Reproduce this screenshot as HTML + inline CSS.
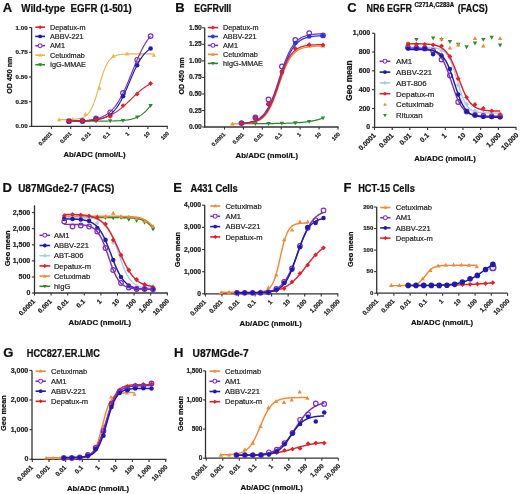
<!DOCTYPE html>
<html><head><meta charset="utf-8"><style>
html,body{margin:0;padding:0;background:#fff;width:520px;height:494px;overflow:hidden;}
svg{display:block;filter:blur(0.3px);font-family:"Liberation Sans", sans-serif;}
</style></head><body>
<svg width="520" height="494" viewBox="0 0 520 494" font-family='"Liberation Sans", sans-serif'>
<rect width="520" height="494" fill="#ffffff"/>
<text x="2.80" y="11.60" font-size="13.0" font-weight="bold" fill="#111" stroke="#111" stroke-width="0.22">A</text>
<text x="21.30" y="11.60" font-size="10.0" font-weight="bold" textLength="110.40" lengthAdjust="spacingAndGlyphs" fill="#111" stroke="#111" stroke-width="0.22">Wild-type  EGFR (1-501)</text>
<line x1="31.6" y1="27.3" x2="31.6" y2="126.89999999999999" stroke="#333333" stroke-width="1.3"/>
<line x1="29.0" y1="27.6" x2="31.6" y2="27.6" stroke="#333333" stroke-width="1.1"/>
<text x="27.60" y="29.52" font-size="6.2" font-weight="bold" text-anchor="end" fill="#222222" stroke="#222222" stroke-width="0.22">1.00</text>
<line x1="29.0" y1="52.3" x2="31.6" y2="52.3" stroke="#333333" stroke-width="1.1"/>
<text x="27.60" y="54.22" font-size="6.2" font-weight="bold" text-anchor="end" fill="#222222" stroke="#222222" stroke-width="0.22">0.75</text>
<line x1="29.0" y1="77.0" x2="31.6" y2="77.0" stroke="#333333" stroke-width="1.1"/>
<text x="27.60" y="78.92" font-size="6.2" font-weight="bold" text-anchor="end" fill="#222222" stroke="#222222" stroke-width="0.22">0.50</text>
<line x1="29.0" y1="101.7" x2="31.6" y2="101.7" stroke="#333333" stroke-width="1.1"/>
<text x="27.60" y="103.62" font-size="6.2" font-weight="bold" text-anchor="end" fill="#222222" stroke="#222222" stroke-width="0.22">0.25</text>
<line x1="29.0" y1="126.3" x2="31.6" y2="126.3" stroke="#333333" stroke-width="1.1"/>
<text x="27.60" y="128.22" font-size="6.2" font-weight="bold" text-anchor="end" fill="#222222" stroke="#222222" stroke-width="0.22">0.00</text>
<line x1="31.0" y1="126.3" x2="167.8" y2="126.3" stroke="#333333" stroke-width="1.3"/>
<line x1="51.4" y1="126.3" x2="51.4" y2="128.9" stroke="#333333" stroke-width="1.1"/>
<text transform="translate(52.50,134.20) rotate(-45)" font-size="5.46" font-weight="bold" text-anchor="end" fill="#222222" stroke="#222222" stroke-width="0.22">0.0001</text>
<line x1="70.7" y1="126.3" x2="70.7" y2="128.9" stroke="#333333" stroke-width="1.1"/>
<text transform="translate(71.80,134.20) rotate(-45)" font-size="5.46" font-weight="bold" text-anchor="end" fill="#222222" stroke="#222222" stroke-width="0.22">0.001</text>
<line x1="90.0" y1="126.3" x2="90.0" y2="128.9" stroke="#333333" stroke-width="1.1"/>
<text transform="translate(91.10,134.20) rotate(-45)" font-size="5.46" font-weight="bold" text-anchor="end" fill="#222222" stroke="#222222" stroke-width="0.22">0.01</text>
<line x1="109.3" y1="126.3" x2="109.3" y2="128.9" stroke="#333333" stroke-width="1.1"/>
<text transform="translate(110.40,134.20) rotate(-45)" font-size="5.46" font-weight="bold" text-anchor="end" fill="#222222" stroke="#222222" stroke-width="0.22">0.1</text>
<line x1="128.6" y1="126.3" x2="128.6" y2="128.9" stroke="#333333" stroke-width="1.1"/>
<text transform="translate(129.70,134.20) rotate(-45)" font-size="5.46" font-weight="bold" text-anchor="end" fill="#222222" stroke="#222222" stroke-width="0.22">1</text>
<line x1="147.9" y1="126.3" x2="147.9" y2="128.9" stroke="#333333" stroke-width="1.1"/>
<text transform="translate(150.20,133.84) rotate(-45)" font-size="5.46" font-weight="bold" text-anchor="end" fill="#222222" stroke="#222222" stroke-width="0.22">10</text>
<line x1="167.2" y1="126.3" x2="167.2" y2="128.9" stroke="#333333" stroke-width="1.1"/>
<text transform="translate(169.50,133.84) rotate(-45)" font-size="5.46" font-weight="bold" text-anchor="end" fill="#222222" stroke="#222222" stroke-width="0.22">100</text>
<text transform="translate(12.30,75.20) rotate(-90)" font-size="7.1" font-weight="bold" text-anchor="middle" fill="#111" stroke="#111" stroke-width="0.22">OD 450 nm</text>
<text x="63.50" y="157.00" font-size="7.75" font-weight="bold" textLength="62.00" lengthAdjust="spacingAndGlyphs" fill="#111" stroke="#111" stroke-width="0.22">Ab/ADC (nmol/L)</text>
<path d="M69.00,121.15L69.50,121.15L70.00,121.15L70.49,121.15L70.99,121.15L71.49,121.15L71.99,121.15L72.48,121.15L72.98,121.15L73.48,121.15L73.98,121.15L74.47,121.15L74.97,121.15L75.47,121.15L75.97,121.15L76.46,121.15L76.96,121.15L77.46,121.15L77.96,121.15L78.45,121.15L78.95,121.15L79.45,121.15L79.95,121.15L80.44,121.15L80.94,121.15L81.44,121.15L81.94,121.15L82.43,121.15L82.93,121.15L83.43,121.15L83.93,121.15L84.42,121.15L84.92,121.15L85.42,121.15L85.92,121.15L86.41,121.15L86.91,121.15L87.41,121.14L87.91,121.14L88.40,121.14L88.90,121.14L89.40,121.14L89.90,121.14L90.40,121.14L90.89,121.14L91.39,121.14L91.89,121.14L92.39,121.14L92.88,121.14L93.38,121.14L93.88,121.14L94.38,121.13L94.87,121.13L95.37,121.13L95.87,121.13L96.37,121.13L96.86,121.13L97.36,121.13L97.86,121.12L98.36,121.12L98.85,121.12L99.35,121.12L99.85,121.12L100.35,121.11L100.84,121.11L101.34,121.11L101.84,121.10L102.34,121.10L102.83,121.10L103.33,121.09L103.83,121.09L104.33,121.09L104.82,121.08L105.32,121.08L105.82,121.07L106.32,121.07L106.81,121.06L107.31,121.06L107.81,121.05L108.31,121.04L108.80,121.04L109.30,121.03L109.80,121.02L110.30,121.01L110.80,121.00L111.29,120.99L111.79,120.98L112.29,120.97L112.79,120.96L113.28,120.95L113.78,120.93L114.28,120.92L114.78,120.90L115.27,120.89L115.77,120.87L116.27,120.85L116.77,120.83L117.26,120.81L117.76,120.79L118.26,120.77L118.76,120.74L119.25,120.71L119.75,120.69L120.25,120.66L120.75,120.62L121.24,120.59L121.74,120.55L122.24,120.52L122.74,120.47L123.23,120.43L123.73,120.38L124.23,120.34L124.73,120.28L125.22,120.23L125.72,120.17L126.22,120.11L126.72,120.04L127.21,119.97L127.71,119.89L128.21,119.81L128.71,119.73L129.20,119.64L129.70,119.54L130.20,119.44L130.70,119.34L131.20,119.22L131.69,119.10L132.19,118.97L132.69,118.84L133.19,118.70L133.68,118.55L134.18,118.39L134.68,118.22L135.18,118.04L135.67,117.85L136.17,117.65L136.67,117.44L137.17,117.22L137.66,116.99L138.16,116.74L138.66,116.49L139.16,116.21L139.65,115.93L140.15,115.63L140.65,115.32L141.15,114.99L141.64,114.64L142.14,114.28L142.64,113.91L143.14,113.51L143.63,113.10L144.13,112.68L144.63,112.23L145.13,111.77L145.62,111.30L146.12,110.80L146.62,110.29L147.12,109.76L147.61,109.21L148.11,108.65L148.61,108.07L149.11,107.47L149.60,106.86L150.10,106.24L150.60,105.60" fill="none" stroke="#2b8a2b" stroke-width="1.15"/>
<path d="M69.00,123.50L71.19,119.59L66.81,119.59Z" fill="#2b8a2b"/>
<path d="M82.50,123.50L84.69,119.59L80.31,119.59Z" fill="#2b8a2b"/>
<path d="M96.00,123.40L98.19,119.49L93.81,119.49Z" fill="#2b8a2b"/>
<path d="M110.20,123.20L112.39,119.29L108.02,119.29Z" fill="#2b8a2b"/>
<path d="M123.00,122.80L125.19,118.89L120.81,118.89Z" fill="#2b8a2b"/>
<path d="M137.20,119.50L139.38,115.59L135.01,115.59Z" fill="#2b8a2b"/>
<path d="M150.60,107.90L152.78,103.99L148.41,103.99Z" fill="#2b8a2b"/>
<path d="M59.10,119.59L59.60,119.58L60.10,119.58L60.60,119.58L61.10,119.58L61.59,119.58L62.09,119.57L62.59,119.57L63.09,119.57L63.59,119.56L64.09,119.56L64.59,119.56L65.09,119.55L65.59,119.55L66.09,119.54L66.58,119.53L67.08,119.53L67.58,119.52L68.08,119.51L68.58,119.50L69.08,119.49L69.58,119.47L70.08,119.46L70.58,119.44L71.07,119.43L71.57,119.41L72.07,119.39L72.57,119.36L73.07,119.34L73.57,119.31L74.07,119.27L74.57,119.24L75.07,119.20L75.57,119.15L76.06,119.10L76.56,119.05L77.06,118.99L77.56,118.92L78.06,118.84L78.56,118.76L79.06,118.67L79.56,118.57L80.06,118.45L80.55,118.33L81.05,118.19L81.55,118.03L82.05,117.86L82.55,117.67L83.05,117.46L83.55,117.23L84.05,116.98L84.55,116.70L85.05,116.39L85.54,116.05L86.04,115.67L86.54,115.26L87.04,114.81L87.54,114.32L88.04,113.78L88.54,113.19L89.04,112.55L89.54,111.85L90.03,111.09L90.53,110.28L91.03,109.39L91.53,108.45L92.03,107.43L92.53,106.34L93.03,105.18L93.53,103.95L94.03,102.65L94.53,101.28L95.02,99.84L95.52,98.34L96.02,96.79L96.52,95.18L97.02,93.53L97.52,91.84L98.02,90.12L98.52,88.39L99.02,86.64L99.51,84.90L100.01,83.17L100.51,81.45L101.01,79.77L101.51,78.12L102.01,76.51L102.51,74.96L103.01,73.47L103.51,72.03L104.01,70.67L104.50,69.37L105.00,68.15L105.50,66.99L106.00,65.91L106.50,64.89L107.00,63.95L107.50,63.07L108.00,62.26L108.50,61.50L108.99,60.81L109.49,60.17L109.99,59.59L110.49,59.05L110.99,58.56L111.49,58.11L111.99,57.70L112.49,57.33L112.99,56.99L113.49,56.69L113.98,56.41L114.48,56.15L114.98,55.92L115.48,55.72L115.98,55.53L116.48,55.36L116.98,55.20L117.48,55.07L117.98,54.94L118.47,54.83L118.97,54.73L119.47,54.63L119.97,54.55L120.47,54.48L120.97,54.41L121.47,54.35L121.97,54.29L122.47,54.24L122.97,54.20L123.46,54.16L123.96,54.12L124.46,54.09L124.96,54.06L125.46,54.04L125.96,54.01L126.46,53.99L126.96,53.97L127.46,53.95L127.95,53.94L128.45,53.92L128.95,53.91L129.45,53.90L129.95,53.89L130.45,53.88L130.95,53.87L131.45,53.87L131.95,53.86L132.45,53.85L132.94,53.85L133.44,53.84L133.94,53.84L134.44,53.83L134.94,53.83L135.44,53.83L135.94,53.83L136.44,53.82L136.94,53.82L137.43,53.82L137.93,53.82L138.43,53.81L138.93,53.81L139.43,53.81L139.93,53.81L140.43,53.81L140.93,53.81L141.43,53.81L141.93,53.81L142.42,53.81L142.92,53.81L143.42,53.81L143.92,53.80L144.42,53.80L144.92,53.80L145.42,53.80L145.92,53.80L146.42,53.80L146.91,53.80L147.41,53.80L147.91,53.80L148.41,53.80L148.91,53.80L149.41,53.80L149.91,53.80L150.41,53.80L150.91,53.80L151.41,53.80L151.90,53.80L152.40,53.80L152.90,53.80L153.40,53.80L153.90,53.80" fill="none" stroke="#f0b445" stroke-width="1.15"/>
<path d="M59.10,117.30L61.29,121.21L56.91,121.21Z" fill="#f0b445"/>
<path d="M72.50,117.10L74.69,121.01L70.31,121.01Z" fill="#f0b445"/>
<path d="M85.50,111.90L87.69,115.81L83.31,115.81Z" fill="#f0b445"/>
<path d="M99.50,85.80L101.69,89.71L97.31,89.71Z" fill="#f0b445"/>
<path d="M113.50,53.50L115.69,57.41L111.31,57.41Z" fill="#f0b445"/>
<path d="M127.00,51.50L129.19,55.41L124.81,55.41Z" fill="#f0b445"/>
<path d="M140.50,51.50L142.69,55.41L138.31,55.41Z" fill="#f0b445"/>
<path d="M153.90,52.90L156.09,56.81L151.72,56.81Z" fill="#f0b445"/>
<path d="M69.00,121.27L69.50,121.26L70.00,121.26L70.49,121.25L70.99,121.24L71.49,121.23L71.99,121.21L72.48,121.20L72.98,121.19L73.48,121.18L73.98,121.17L74.47,121.15L74.97,121.14L75.47,121.12L75.97,121.10L76.46,121.09L76.96,121.07L77.46,121.05L77.96,121.03L78.45,121.01L78.95,120.99L79.45,120.96L79.95,120.94L80.44,120.91L80.94,120.89L81.44,120.86L81.94,120.83L82.43,120.80L82.93,120.77L83.43,120.73L83.93,120.69L84.42,120.66L84.92,120.62L85.42,120.57L85.92,120.53L86.41,120.48L86.91,120.43L87.41,120.38L87.91,120.33L88.40,120.27L88.90,120.21L89.40,120.15L89.90,120.08L90.40,120.02L90.89,119.94L91.39,119.87L91.89,119.79L92.39,119.70L92.88,119.61L93.38,119.52L93.88,119.42L94.38,119.32L94.87,119.22L95.37,119.10L95.87,118.99L96.37,118.86L96.86,118.73L97.36,118.60L97.86,118.45L98.36,118.30L98.85,118.15L99.35,117.98L99.85,117.81L100.35,117.63L100.84,117.44L101.34,117.24L101.84,117.03L102.34,116.82L102.83,116.59L103.33,116.35L103.83,116.10L104.33,115.84L104.82,115.57L105.32,115.28L105.82,114.98L106.32,114.67L106.81,114.35L107.31,114.01L107.81,113.65L108.31,113.29L108.80,112.90L109.30,112.50L109.80,112.08L110.30,111.64L110.80,111.19L111.29,110.71L111.79,110.22L112.29,109.71L112.79,109.18L113.28,108.63L113.78,108.05L114.28,107.46L114.78,106.84L115.27,106.20L115.77,105.54L116.27,104.86L116.77,104.15L117.26,103.42L117.76,102.66L118.26,101.89L118.76,101.08L119.25,100.26L119.75,99.41L120.25,98.53L120.75,97.63L121.24,96.71L121.74,95.76L122.24,94.79L122.74,93.80L123.23,92.79L123.73,91.75L124.23,90.70L124.73,89.62L125.22,88.53L125.72,87.41L126.22,86.28L126.72,85.13L127.21,83.97L127.71,82.79L128.21,81.60L128.71,80.40L129.20,79.19L129.70,77.97L130.20,76.75L130.70,75.51L131.20,74.28L131.69,73.04L132.19,71.80L132.69,70.56L133.19,69.33L133.68,68.09L134.18,66.87L134.68,65.65L135.18,64.44L135.67,63.23L136.17,62.04L136.67,60.87L137.17,59.70L137.66,58.55L138.16,57.42L138.66,56.31L139.16,55.21L139.65,54.13L140.15,53.07L140.65,52.04L141.15,51.02L141.64,50.03L142.14,49.06L142.64,48.11L143.14,47.18L143.63,46.28L144.13,45.41L144.63,44.55L145.13,43.72L145.62,42.92L146.12,42.14L146.62,41.38L147.12,40.65L147.61,39.94L148.11,39.25L148.61,38.59L149.11,37.95L149.60,37.33L150.10,36.73L150.60,36.16" fill="none" stroke="#7d2fb8" stroke-width="1.15"/>
<circle cx="69.00" cy="121.20" r="2.30" fill="none" stroke="#7d2fb8" stroke-width="1.20"/>
<circle cx="82.50" cy="121.00" r="2.30" fill="none" stroke="#7d2fb8" stroke-width="1.20"/>
<circle cx="96.00" cy="118.50" r="2.30" fill="none" stroke="#7d2fb8" stroke-width="1.20"/>
<circle cx="110.20" cy="112.30" r="2.30" fill="none" stroke="#7d2fb8" stroke-width="1.20"/>
<circle cx="123.00" cy="92.90" r="2.30" fill="none" stroke="#7d2fb8" stroke-width="1.20"/>
<circle cx="137.20" cy="59.80" r="2.30" fill="none" stroke="#7d2fb8" stroke-width="1.20"/>
<circle cx="150.60" cy="36.10" r="2.30" fill="none" stroke="#7d2fb8" stroke-width="1.20"/>
<path d="M69.00,121.16L69.50,121.16L70.00,121.15L70.49,121.15L70.99,121.15L71.49,121.14L71.99,121.14L72.48,121.13L72.98,121.13L73.48,121.12L73.98,121.12L74.47,121.11L74.97,121.11L75.47,121.10L75.97,121.09L76.46,121.09L76.96,121.08L77.46,121.07L77.96,121.06L78.45,121.06L78.95,121.05L79.45,121.04L79.95,121.03L80.44,121.01L80.94,121.00L81.44,120.99L81.94,120.98L82.43,120.96L82.93,120.95L83.43,120.93L83.93,120.91L84.42,120.89L84.92,120.87L85.42,120.85L85.92,120.83L86.41,120.81L86.91,120.78L87.41,120.76L87.91,120.73L88.40,120.70L88.90,120.67L89.40,120.63L89.90,120.60L90.40,120.56L90.89,120.52L91.39,120.48L91.89,120.43L92.39,120.38L92.88,120.33L93.38,120.28L93.88,120.22L94.38,120.16L94.87,120.10L95.37,120.03L95.87,119.95L96.37,119.88L96.86,119.79L97.36,119.71L97.86,119.61L98.36,119.52L98.85,119.41L99.35,119.30L99.85,119.18L100.35,119.06L100.84,118.93L101.34,118.79L101.84,118.64L102.34,118.49L102.83,118.32L103.33,118.15L103.83,117.96L104.33,117.77L104.82,117.56L105.32,117.35L105.82,117.11L106.32,116.87L106.81,116.61L107.31,116.34L107.81,116.06L108.31,115.76L108.80,115.44L109.30,115.10L109.80,114.75L110.30,114.38L110.80,113.99L111.29,113.58L111.79,113.15L112.29,112.70L112.79,112.22L113.28,111.73L113.78,111.21L114.28,110.66L114.78,110.09L115.27,109.50L115.77,108.88L116.27,108.23L116.77,107.56L117.26,106.85L117.76,106.13L118.26,105.37L118.76,104.58L119.25,103.77L119.75,102.93L120.25,102.06L120.75,101.17L121.24,100.24L121.74,99.30L122.24,98.32L122.74,97.32L123.23,96.30L123.73,95.25L124.23,94.18L124.73,93.10L125.22,91.99L125.72,90.87L126.22,89.73L126.72,88.57L127.21,87.41L127.71,86.24L128.21,85.06L128.71,83.87L129.20,82.68L129.70,81.49L130.20,80.30L130.70,79.12L131.20,77.94L131.69,76.77L132.19,75.61L132.69,74.46L133.19,73.32L133.68,72.20L134.18,71.10L134.68,70.02L135.18,68.96L135.67,67.92L136.17,66.90L136.67,65.90L137.17,64.94L137.66,63.99L138.16,63.08L138.66,62.19L139.16,61.33L139.65,60.49L140.15,59.69L140.65,58.91L141.15,58.16L141.64,57.44L142.14,56.75L142.64,56.08L143.14,55.44L143.63,54.82L144.13,54.24L144.63,53.67L145.13,53.13L145.62,52.62L146.12,52.13L146.62,51.66L147.12,51.21L147.61,50.79L148.11,50.38L148.61,50.00L149.11,49.63L149.60,49.29L150.10,48.95L150.60,48.64" fill="none" stroke="#1c1cb0" stroke-width="1.15"/>
<circle cx="69.00" cy="121.20" r="2.25" fill="#1c1cb0"/>
<circle cx="82.50" cy="121.20" r="2.25" fill="#1c1cb0"/>
<circle cx="96.00" cy="119.00" r="2.25" fill="#1c1cb0"/>
<circle cx="110.20" cy="115.50" r="2.25" fill="#1c1cb0"/>
<circle cx="123.00" cy="96.20" r="2.25" fill="#1c1cb0"/>
<circle cx="137.20" cy="65.20" r="2.25" fill="#1c1cb0"/>
<circle cx="150.60" cy="48.50" r="2.25" fill="#1c1cb0"/>
<path d="M69.00,121.41L69.50,121.40L70.00,121.39L70.49,121.38L70.99,121.37L71.49,121.36L71.99,121.35L72.48,121.33L72.98,121.32L73.48,121.31L73.98,121.30L74.47,121.28L74.97,121.27L75.47,121.25L75.97,121.24L76.46,121.22L76.96,121.20L77.46,121.19L77.96,121.17L78.45,121.15L78.95,121.13L79.45,121.11L79.95,121.09L80.44,121.06L80.94,121.04L81.44,121.01L81.94,120.99L82.43,120.96L82.93,120.93L83.43,120.90L83.93,120.87L84.42,120.84L84.92,120.81L85.42,120.77L85.92,120.74L86.41,120.70L86.91,120.66L87.41,120.62L87.91,120.57L88.40,120.53L88.90,120.48L89.40,120.43L89.90,120.38L90.40,120.33L90.89,120.28L91.39,120.22L91.89,120.16L92.39,120.10L92.88,120.03L93.38,119.97L93.88,119.90L94.38,119.82L94.87,119.75L95.37,119.67L95.87,119.59L96.37,119.50L96.86,119.42L97.36,119.32L97.86,119.23L98.36,119.13L98.85,119.03L99.35,118.92L99.85,118.81L100.35,118.69L100.84,118.57L101.34,118.45L101.84,118.32L102.34,118.18L102.83,118.04L103.33,117.90L103.83,117.75L104.33,117.59L104.82,117.43L105.32,117.27L105.82,117.09L106.32,116.91L106.81,116.73L107.31,116.54L107.81,116.34L108.31,116.14L108.80,115.93L109.30,115.71L109.80,115.48L110.30,115.25L110.80,115.01L111.29,114.77L111.79,114.51L112.29,114.25L112.79,113.98L113.28,113.70L113.78,113.42L114.28,113.12L114.78,112.82L115.27,112.51L115.77,112.20L116.27,111.87L116.77,111.54L117.26,111.20L117.76,110.85L118.26,110.49L118.76,110.12L119.25,109.75L119.75,109.37L120.25,108.98L120.75,108.59L121.24,108.18L121.74,107.77L122.24,107.36L122.74,106.93L123.23,106.51L123.73,106.07L124.23,105.63L124.73,105.18L125.22,104.73L125.72,104.27L126.22,103.81L126.72,103.35L127.21,102.88L127.71,102.40L128.21,101.93L128.71,101.45L129.20,100.97L129.70,100.49L130.20,100.01L130.70,99.52L131.20,99.04L131.69,98.55L132.19,98.07L132.69,97.59L133.19,97.11L133.68,96.63L134.18,96.15L134.68,95.68L135.18,95.21L135.67,94.74L136.17,94.28L136.67,93.82L137.17,93.37L137.66,92.92L138.16,92.48L138.66,92.04L139.16,91.61L139.65,91.18L140.15,90.77L140.65,90.35L141.15,89.95L141.64,89.55L142.14,89.16L142.64,88.78L143.14,88.40L143.63,88.04L144.13,87.68L144.63,87.32L145.13,86.98L145.62,86.65L146.12,86.32L146.62,86.00L147.12,85.69L147.61,85.38L148.11,85.09L148.61,84.80L149.11,84.52L149.60,84.25L150.10,83.98L150.60,83.73" fill="none" stroke="#e3202b" stroke-width="1.15"/>
<path d="M69.00,118.80L71.40,121.20L69.00,123.60L66.60,121.20Z" fill="#e3202b"/>
<path d="M82.50,118.60L84.90,121.00L82.50,123.40L80.10,121.00Z" fill="#e3202b"/>
<path d="M96.00,116.90L98.40,119.30L96.00,121.70L93.60,119.30Z" fill="#e3202b"/>
<path d="M110.20,114.00L112.60,116.40L110.20,118.80L107.80,116.40Z" fill="#e3202b"/>
<path d="M123.00,103.20L125.40,105.60L123.00,108.00L120.60,105.60Z" fill="#e3202b"/>
<path d="M137.20,91.60L139.60,94.00L137.20,96.40L134.80,94.00Z" fill="#e3202b"/>
<path d="M150.60,81.10L153.00,83.50L150.60,85.90L148.20,83.50Z" fill="#e3202b"/>
<line x1="35.3" y1="27.2" x2="45.0" y2="27.2" stroke="#e3202b" stroke-width="1.6"/>
<path d="M40.15,25.16L42.19,27.20L40.15,29.24L38.11,27.20Z" fill="#e3202b"/>
<text x="50.00" y="29.82" font-size="7.28" fill="#1e1e1e" stroke="#1e1e1e" stroke-width="0.2">Depatux-m</text>
<line x1="35.3" y1="36.4" x2="45.0" y2="36.4" stroke="#1c1cb0" stroke-width="1.6"/>
<circle cx="40.15" cy="36.40" r="1.91" fill="#1c1cb0"/>
<text x="50.00" y="39.02" font-size="7.28" fill="#1e1e1e" stroke="#1e1e1e" stroke-width="0.2">ABBV-221</text>
<line x1="35.3" y1="45.7" x2="45.0" y2="45.7" stroke="#7d2fb8" stroke-width="1.6"/>
<circle cx="40.15" cy="45.70" r="1.95" fill="#fff" stroke="#7d2fb8" stroke-width="1.02"/>
<text x="50.00" y="48.32" font-size="7.28" fill="#1e1e1e" stroke="#1e1e1e" stroke-width="0.2">AM1</text>
<line x1="35.3" y1="55.2" x2="45.0" y2="55.2" stroke="#f0b445" stroke-width="1.6"/>
<path d="M40.15,53.25L42.01,56.57L38.29,56.57Z" fill="#f0b445"/>
<text x="50.00" y="57.82" font-size="7.28" fill="#1e1e1e" stroke="#1e1e1e" stroke-width="0.2">Cetuximab</text>
<line x1="35.3" y1="64.7" x2="45.0" y2="64.7" stroke="#2b8a2b" stroke-width="1.6"/>
<path d="M40.15,66.66L42.01,63.33L38.29,63.33Z" fill="#2b8a2b"/>
<text x="50.00" y="67.32" font-size="7.28" fill="#1e1e1e" stroke="#1e1e1e" stroke-width="0.2">IgG-MMAE</text>
<text x="175.30" y="11.60" font-size="13.0" font-weight="bold" fill="#111" stroke="#111" stroke-width="0.22">B</text>
<text x="194.30" y="11.60" font-size="10.0" font-weight="bold" textLength="37.00" lengthAdjust="spacingAndGlyphs" fill="#111" stroke="#111" stroke-width="0.22">EGFRvIII</text>
<line x1="204.7" y1="27.8" x2="204.7" y2="127.6" stroke="#333333" stroke-width="1.3"/>
<line x1="202.1" y1="27.8" x2="204.7" y2="27.8" stroke="#333333" stroke-width="1.1"/>
<text x="201.80" y="29.85" font-size="6.62" font-weight="bold" text-anchor="end" fill="#222222" stroke="#222222" stroke-width="0.22">1.50</text>
<line x1="202.1" y1="44.3" x2="204.7" y2="44.3" stroke="#333333" stroke-width="1.1"/>
<text x="201.80" y="46.35" font-size="6.62" font-weight="bold" text-anchor="end" fill="#222222" stroke="#222222" stroke-width="0.22">1.25</text>
<line x1="202.1" y1="60.9" x2="204.7" y2="60.9" stroke="#333333" stroke-width="1.1"/>
<text x="201.80" y="62.95" font-size="6.62" font-weight="bold" text-anchor="end" fill="#222222" stroke="#222222" stroke-width="0.22">1.00</text>
<line x1="202.1" y1="77.4" x2="204.7" y2="77.4" stroke="#333333" stroke-width="1.1"/>
<text x="201.80" y="79.45" font-size="6.62" font-weight="bold" text-anchor="end" fill="#222222" stroke="#222222" stroke-width="0.22">0.75</text>
<line x1="202.1" y1="94.0" x2="204.7" y2="94.0" stroke="#333333" stroke-width="1.1"/>
<text x="201.80" y="96.05" font-size="6.62" font-weight="bold" text-anchor="end" fill="#222222" stroke="#222222" stroke-width="0.22">0.50</text>
<line x1="202.1" y1="110.5" x2="204.7" y2="110.5" stroke="#333333" stroke-width="1.1"/>
<text x="201.80" y="112.55" font-size="6.62" font-weight="bold" text-anchor="end" fill="#222222" stroke="#222222" stroke-width="0.22">0.25</text>
<line x1="202.1" y1="127.0" x2="204.7" y2="127.0" stroke="#333333" stroke-width="1.1"/>
<text x="201.80" y="129.05" font-size="6.62" font-weight="bold" text-anchor="end" fill="#222222" stroke="#222222" stroke-width="0.22">0.00</text>
<line x1="204.1" y1="127.0" x2="338.5" y2="127.0" stroke="#333333" stroke-width="1.3"/>
<line x1="224.5" y1="127.0" x2="224.5" y2="129.6" stroke="#333333" stroke-width="1.1"/>
<text transform="translate(225.60,134.90) rotate(-45)" font-size="5.46" font-weight="bold" text-anchor="end" fill="#222222" stroke="#222222" stroke-width="0.22">0.0001</text>
<line x1="243.42" y1="127.0" x2="243.42" y2="129.6" stroke="#333333" stroke-width="1.1"/>
<text transform="translate(244.52,134.90) rotate(-45)" font-size="5.46" font-weight="bold" text-anchor="end" fill="#222222" stroke="#222222" stroke-width="0.22">0.001</text>
<line x1="262.34" y1="127.0" x2="262.34" y2="129.6" stroke="#333333" stroke-width="1.1"/>
<text transform="translate(263.44,134.90) rotate(-45)" font-size="5.46" font-weight="bold" text-anchor="end" fill="#222222" stroke="#222222" stroke-width="0.22">0.01</text>
<line x1="281.26" y1="127.0" x2="281.26" y2="129.6" stroke="#333333" stroke-width="1.1"/>
<text transform="translate(282.36,134.90) rotate(-45)" font-size="5.46" font-weight="bold" text-anchor="end" fill="#222222" stroke="#222222" stroke-width="0.22">0.1</text>
<line x1="300.18" y1="127.0" x2="300.18" y2="129.6" stroke="#333333" stroke-width="1.1"/>
<text transform="translate(301.28,134.90) rotate(-45)" font-size="5.46" font-weight="bold" text-anchor="end" fill="#222222" stroke="#222222" stroke-width="0.22">1</text>
<line x1="319.1" y1="127.0" x2="319.1" y2="129.6" stroke="#333333" stroke-width="1.1"/>
<text transform="translate(321.40,134.54) rotate(-45)" font-size="5.46" font-weight="bold" text-anchor="end" fill="#222222" stroke="#222222" stroke-width="0.22">10</text>
<line x1="338.02" y1="127.0" x2="338.02" y2="129.6" stroke="#333333" stroke-width="1.1"/>
<text transform="translate(340.32,134.54) rotate(-45)" font-size="5.46" font-weight="bold" text-anchor="end" fill="#222222" stroke="#222222" stroke-width="0.22">100</text>
<text transform="translate(183.60,76.00) rotate(-90)" font-size="7.1" font-weight="bold" text-anchor="middle" fill="#111" stroke="#111" stroke-width="0.22">OD 450 nm</text>
<text x="235.60" y="157.60" font-size="7.75" font-weight="bold" textLength="62.40" lengthAdjust="spacingAndGlyphs" fill="#111" stroke="#111" stroke-width="0.22">Ab/ADC (nmol/L)</text>
<path d="M241.50,123.68L242.00,123.68L242.49,123.68L242.99,123.68L243.49,123.67L243.98,123.67L244.48,123.67L244.98,123.67L245.48,123.67L245.97,123.67L246.47,123.67L246.97,123.67L247.46,123.67L247.96,123.67L248.46,123.67L248.95,123.66L249.45,123.66L249.95,123.66L250.45,123.66L250.94,123.66L251.44,123.66L251.94,123.66L252.43,123.65L252.93,123.65L253.43,123.65L253.92,123.65L254.42,123.65L254.92,123.65L255.41,123.64L255.91,123.64L256.41,123.64L256.91,123.64L257.40,123.64L257.90,123.63L258.40,123.63L258.89,123.63L259.39,123.63L259.89,123.62L260.38,123.62L260.88,123.62L261.38,123.62L261.88,123.61L262.37,123.61L262.87,123.61L263.37,123.60L263.86,123.60L264.36,123.60L264.86,123.59L265.35,123.59L265.85,123.59L266.35,123.58L266.84,123.58L267.34,123.58L267.84,123.57L268.34,123.57L268.83,123.56L269.33,123.56L269.83,123.55L270.32,123.55L270.82,123.54L271.32,123.54L271.81,123.53L272.31,123.52L272.81,123.52L273.30,123.51L273.80,123.51L274.30,123.50L274.80,123.49L275.29,123.49L275.79,123.48L276.29,123.47L276.78,123.46L277.28,123.45L277.78,123.45L278.27,123.44L278.77,123.43L279.27,123.42L279.77,123.41L280.26,123.40L280.76,123.39L281.26,123.38L281.75,123.37L282.25,123.35L282.75,123.34L283.24,123.33L283.74,123.32L284.24,123.30L284.73,123.29L285.23,123.28L285.73,123.26L286.23,123.25L286.72,123.23L287.22,123.21L287.72,123.20L288.21,123.18L288.71,123.16L289.21,123.14L289.70,123.12L290.20,123.10L290.70,123.08L291.20,123.06L291.69,123.04L292.19,123.01L292.69,122.99L293.18,122.97L293.68,122.94L294.18,122.91L294.67,122.89L295.17,122.86L295.67,122.83L296.16,122.80L296.66,122.77L297.16,122.74L297.66,122.70L298.15,122.67L298.65,122.63L299.15,122.60L299.64,122.56L300.14,122.52L300.64,122.48L301.13,122.43L301.63,122.39L302.13,122.34L302.62,122.30L303.12,122.25L303.62,122.20L304.12,122.15L304.61,122.09L305.11,122.04L305.61,121.98L306.10,121.92L306.60,121.86L307.10,121.79L307.59,121.73L308.09,121.66L308.59,121.59L309.09,121.51L309.58,121.44L310.08,121.36L310.58,121.28L311.07,121.19L311.57,121.10L312.07,121.01L312.56,120.92L313.06,120.82L313.56,120.72L314.05,120.62L314.55,120.51L315.05,120.40L315.55,120.29L316.04,120.17L316.54,120.05L317.04,119.92L317.53,119.79L318.03,119.65L318.53,119.51L319.02,119.37L319.52,119.22L320.02,119.06L320.52,118.90L321.01,118.73L321.51,118.56L322.01,118.38L322.50,118.20L323.00,118.00" fill="none" stroke="#2b8a2b" stroke-width="1.25"/>
<path d="M241.50,126.10L243.69,122.19L239.31,122.19Z" fill="#2b8a2b"/>
<path d="M255.40,125.90L257.58,121.99L253.22,121.99Z" fill="#2b8a2b"/>
<path d="M268.50,125.80L270.69,121.89L266.31,121.89Z" fill="#2b8a2b"/>
<path d="M281.90,125.60L284.08,121.69L279.71,121.69Z" fill="#2b8a2b"/>
<path d="M295.30,125.20L297.49,121.29L293.12,121.29Z" fill="#2b8a2b"/>
<path d="M309.20,123.80L311.38,119.89L307.01,119.89Z" fill="#2b8a2b"/>
<path d="M323.00,120.30L325.19,116.39L320.81,116.39Z" fill="#2b8a2b"/>
<path d="M232.30,123.93L232.80,123.93L233.30,123.92L233.80,123.92L234.29,123.91L234.79,123.90L235.29,123.90L235.79,123.89L236.29,123.88L236.79,123.87L237.28,123.86L237.78,123.85L238.28,123.84L238.78,123.82L239.28,123.81L239.78,123.80L240.27,123.78L240.77,123.76L241.27,123.74L241.77,123.72L242.27,123.70L242.77,123.68L243.26,123.65L243.76,123.63L244.26,123.60L244.76,123.57L245.26,123.53L245.76,123.50L246.25,123.46L246.75,123.42L247.25,123.37L247.75,123.32L248.25,123.27L248.75,123.21L249.24,123.15L249.74,123.08L250.24,123.01L250.74,122.94L251.24,122.85L251.74,122.77L252.23,122.67L252.73,122.57L253.23,122.46L253.73,122.34L254.23,122.21L254.73,122.08L255.22,121.93L255.72,121.77L256.22,121.60L256.72,121.42L257.22,121.23L257.72,121.02L258.21,120.79L258.71,120.55L259.21,120.29L259.71,120.02L260.21,119.72L260.71,119.41L261.20,119.07L261.70,118.71L262.20,118.33L262.70,117.92L263.20,117.48L263.70,117.01L264.19,116.52L264.69,115.99L265.19,115.43L265.69,114.84L266.19,114.21L266.69,113.55L267.18,112.84L267.68,112.10L268.18,111.32L268.68,110.50L269.18,109.63L269.68,108.73L270.17,107.78L270.67,106.79L271.17,105.75L271.67,104.68L272.17,103.56L272.67,102.40L273.16,101.20L273.66,99.96L274.16,98.69L274.66,97.38L275.16,96.04L275.66,94.67L276.15,93.28L276.65,91.86L277.15,90.43L277.65,88.97L278.15,87.51L278.65,86.04L279.15,84.57L279.64,83.10L280.14,81.64L280.64,80.18L281.14,78.74L281.64,77.31L282.14,75.91L282.63,74.53L283.13,73.18L283.63,71.85L284.13,70.57L284.63,69.31L285.13,68.10L285.62,66.92L286.12,65.79L286.62,64.69L287.12,63.64L287.62,62.63L288.12,61.66L288.61,60.74L289.11,59.86L289.61,59.02L290.11,58.22L290.61,57.46L291.11,56.74L291.60,56.06L292.10,55.42L292.60,54.81L293.10,54.24L293.60,53.70L294.10,53.19L294.59,52.71L295.09,52.26L295.59,51.84L296.09,51.45L296.59,51.08L297.09,50.73L297.58,50.41L298.08,50.10L298.58,49.82L299.08,49.55L299.58,49.31L300.08,49.07L300.57,48.86L301.07,48.66L301.57,48.47L302.07,48.30L302.57,48.13L303.07,47.98L303.56,47.84L304.06,47.71L304.56,47.59L305.06,47.48L305.56,47.37L306.06,47.27L306.55,47.18L307.05,47.10L307.55,47.02L308.05,46.94L308.55,46.88L309.05,46.81L309.54,46.76L310.04,46.70L310.54,46.65L311.04,46.60L311.54,46.56L312.04,46.52L312.53,46.48L313.03,46.45L313.53,46.41L314.03,46.38L314.53,46.36L315.03,46.33L315.52,46.31L316.02,46.28L316.52,46.26L317.02,46.24L317.52,46.23L318.02,46.21L318.51,46.20L319.01,46.18L319.51,46.17L320.01,46.16L320.51,46.14L321.01,46.13L321.50,46.12L322.00,46.12L322.50,46.11L323.00,46.10" fill="none" stroke="#ef8a35" stroke-width="1.25"/>
<path d="M232.30,121.50L234.49,125.41L230.12,125.41Z" fill="#ef8a35"/>
<path d="M241.50,121.00L243.69,124.91L239.31,124.91Z" fill="#ef8a35"/>
<path d="M255.40,116.20L257.58,120.11L253.22,120.11Z" fill="#ef8a35"/>
<path d="M268.50,100.70L270.69,104.61L266.31,104.61Z" fill="#ef8a35"/>
<path d="M281.90,70.70L284.08,74.61L279.71,74.61Z" fill="#ef8a35"/>
<path d="M295.30,44.70L297.49,48.61L293.12,48.61Z" fill="#ef8a35"/>
<path d="M309.20,43.50L311.38,47.41L307.01,47.41Z" fill="#ef8a35"/>
<path d="M323.00,43.70L325.19,47.61L320.81,47.61Z" fill="#ef8a35"/>
<path d="M241.50,123.29L242.00,123.26L242.49,123.22L242.99,123.18L243.49,123.14L243.98,123.09L244.48,123.04L244.98,122.99L245.48,122.93L245.97,122.87L246.47,122.81L246.97,122.74L247.46,122.66L247.96,122.58L248.46,122.50L248.95,122.41L249.45,122.31L249.95,122.21L250.45,122.10L250.94,121.98L251.44,121.86L251.94,121.72L252.43,121.58L252.93,121.43L253.43,121.26L253.92,121.09L254.42,120.91L254.92,120.71L255.41,120.50L255.91,120.28L256.41,120.04L256.91,119.79L257.40,119.52L257.90,119.23L258.40,118.92L258.89,118.60L259.39,118.26L259.89,117.89L260.38,117.51L260.88,117.10L261.38,116.66L261.88,116.20L262.37,115.71L262.87,115.20L263.37,114.65L263.86,114.08L264.36,113.47L264.86,112.83L265.35,112.16L265.85,111.45L266.35,110.71L266.84,109.93L267.34,109.11L267.84,108.25L268.34,107.35L268.83,106.42L269.33,105.44L269.83,104.43L270.32,103.37L270.82,102.28L271.32,101.14L271.81,99.96L272.31,98.75L272.81,97.50L273.30,96.21L273.80,94.89L274.30,93.54L274.80,92.15L275.29,90.74L275.79,89.30L276.29,87.84L276.78,86.36L277.28,84.86L277.78,83.34L278.27,81.82L278.77,80.28L279.27,78.75L279.77,77.21L280.26,75.68L280.76,74.15L281.26,72.64L281.75,71.13L282.25,69.65L282.75,68.18L283.24,66.74L283.74,65.33L284.24,63.94L284.73,62.58L285.23,61.25L285.73,59.96L286.23,58.71L286.72,57.49L287.22,56.31L287.72,55.17L288.21,54.07L288.71,53.01L289.21,51.98L289.70,51.00L290.20,50.06L290.70,49.16L291.20,48.30L291.69,47.48L292.19,46.69L292.69,45.94L293.18,45.23L293.68,44.55L294.18,43.91L294.67,43.30L295.17,42.72L295.67,42.17L296.16,41.65L296.66,41.16L297.16,40.70L297.66,40.26L298.15,39.85L298.65,39.46L299.15,39.09L299.64,38.74L300.14,38.42L300.64,38.11L301.13,37.82L301.63,37.55L302.13,37.29L302.62,37.05L303.12,36.83L303.62,36.62L304.12,36.42L304.61,36.23L305.11,36.06L305.61,35.89L306.10,35.74L306.60,35.60L307.10,35.46L307.59,35.33L308.09,35.22L308.59,35.10L309.09,35.00L309.58,34.90L310.08,34.81L310.58,34.73L311.07,34.65L311.57,34.57L312.07,34.50L312.56,34.44L313.06,34.38L313.56,34.32L314.05,34.27L314.55,34.22L315.05,34.17L315.55,34.13L316.04,34.08L316.54,34.05L317.04,34.01L317.53,33.98L318.03,33.95L318.53,33.92L319.02,33.89L319.52,33.86L320.02,33.84L320.52,33.82L321.01,33.80L321.51,33.78L322.01,33.76L322.50,33.74L323.00,33.73" fill="none" stroke="#7d2fb8" stroke-width="1.25"/>
<circle cx="241.50" cy="123.10" r="2.30" fill="none" stroke="#7d2fb8" stroke-width="1.20"/>
<circle cx="255.40" cy="117.50" r="2.30" fill="none" stroke="#7d2fb8" stroke-width="1.20"/>
<circle cx="268.50" cy="99.50" r="2.30" fill="none" stroke="#7d2fb8" stroke-width="1.20"/>
<circle cx="281.90" cy="66.50" r="2.30" fill="none" stroke="#7d2fb8" stroke-width="1.20"/>
<circle cx="295.30" cy="40.00" r="2.30" fill="none" stroke="#7d2fb8" stroke-width="1.20"/>
<circle cx="309.20" cy="33.10" r="2.30" fill="none" stroke="#7d2fb8" stroke-width="1.20"/>
<circle cx="323.00" cy="35.40" r="2.30" fill="none" stroke="#7d2fb8" stroke-width="1.20"/>
<path d="M241.50,123.38L242.00,123.35L242.49,123.32L242.99,123.29L243.49,123.25L243.98,123.21L244.48,123.17L244.98,123.12L245.48,123.08L245.97,123.02L246.47,122.97L246.97,122.91L247.46,122.85L247.96,122.78L248.46,122.71L248.95,122.63L249.45,122.55L249.95,122.46L250.45,122.37L250.94,122.27L251.44,122.16L251.94,122.04L252.43,121.92L252.93,121.79L253.43,121.65L253.92,121.50L254.42,121.34L254.92,121.17L255.41,120.99L255.91,120.79L256.41,120.59L256.91,120.37L257.40,120.13L257.90,119.88L258.40,119.61L258.89,119.33L259.39,119.03L259.89,118.71L260.38,118.37L260.88,118.00L261.38,117.62L261.88,117.21L262.37,116.77L262.87,116.32L263.37,115.83L263.86,115.31L264.36,114.77L264.86,114.19L265.35,113.59L265.85,112.95L266.35,112.27L266.84,111.56L267.34,110.82L267.84,110.03L268.34,109.21L268.83,108.35L269.33,107.45L269.83,106.51L270.32,105.53L270.82,104.51L271.32,103.45L271.81,102.35L272.31,101.21L272.81,100.03L273.30,98.82L273.80,97.56L274.30,96.27L274.80,94.95L275.29,93.59L275.79,92.20L276.29,90.79L276.78,89.35L277.28,87.89L277.78,86.41L278.27,84.92L278.77,83.41L279.27,81.89L279.77,80.37L280.26,78.85L280.76,77.32L281.26,75.81L281.75,74.30L282.25,72.81L282.75,71.33L283.24,69.87L283.74,68.43L284.24,67.02L284.73,65.63L285.23,64.28L285.73,62.96L286.23,61.67L286.72,60.42L287.22,59.20L287.72,58.02L288.21,56.88L288.71,55.79L289.21,54.73L289.70,53.71L290.20,52.73L290.70,51.80L291.20,50.90L291.69,50.04L292.19,49.22L292.69,48.44L293.18,47.70L293.68,46.99L294.18,46.32L294.67,45.68L295.17,45.07L295.67,44.50L296.16,43.96L296.66,43.44L297.16,42.96L297.66,42.50L298.15,42.07L298.65,41.66L299.15,41.28L299.64,40.92L300.14,40.57L300.64,40.25L301.13,39.95L301.63,39.67L302.13,39.40L302.62,39.16L303.12,38.92L303.62,38.70L304.12,38.49L304.61,38.30L305.11,38.12L305.61,37.95L306.10,37.79L306.60,37.64L307.10,37.50L307.59,37.37L308.09,37.25L308.59,37.13L309.09,37.03L309.58,36.93L310.08,36.83L310.58,36.75L311.07,36.66L311.57,36.59L312.07,36.52L312.56,36.45L313.06,36.39L313.56,36.33L314.05,36.27L314.55,36.22L315.05,36.17L315.55,36.13L316.04,36.09L316.54,36.05L317.04,36.01L317.53,35.98L318.03,35.95L318.53,35.92L319.02,35.89L319.52,35.86L320.02,35.84L320.52,35.82L321.01,35.80L321.51,35.78L322.01,35.76L322.50,35.74L323.00,35.72" fill="none" stroke="#1f3ae0" stroke-width="1.25"/>
<circle cx="241.50" cy="123.10" r="2.25" fill="#1f3ae0"/>
<circle cx="255.40" cy="118.00" r="2.25" fill="#1f3ae0"/>
<circle cx="268.50" cy="104.20" r="2.25" fill="#1f3ae0"/>
<circle cx="281.90" cy="71.80" r="2.25" fill="#1f3ae0"/>
<circle cx="295.30" cy="43.00" r="2.25" fill="#1f3ae0"/>
<circle cx="309.20" cy="36.50" r="2.25" fill="#1f3ae0"/>
<circle cx="323.00" cy="35.80" r="2.25" fill="#1f3ae0"/>
<path d="M241.50,123.51L242.00,123.48L242.49,123.46L242.99,123.43L243.49,123.40L243.98,123.37L244.48,123.34L244.98,123.30L245.48,123.26L245.97,123.22L246.47,123.18L246.97,123.13L247.46,123.08L247.96,123.02L248.46,122.96L248.95,122.89L249.45,122.82L249.95,122.75L250.45,122.67L250.94,122.58L251.44,122.49L251.94,122.39L252.43,122.28L252.93,122.16L253.43,122.04L253.92,121.90L254.42,121.76L254.92,121.60L255.41,121.44L255.91,121.26L256.41,121.07L256.91,120.86L257.40,120.64L257.90,120.40L258.40,120.15L258.89,119.88L259.39,119.59L259.89,119.28L260.38,118.94L260.88,118.59L261.38,118.21L261.88,117.81L262.37,117.37L262.87,116.92L263.37,116.43L263.86,115.91L264.36,115.36L264.86,114.77L265.35,114.15L265.85,113.50L266.35,112.80L266.84,112.07L267.34,111.30L267.84,110.48L268.34,109.63L268.83,108.73L269.33,107.79L269.83,106.80L270.32,105.78L270.82,104.71L271.32,103.59L271.81,102.44L272.31,101.24L272.81,100.01L273.30,98.74L273.80,97.43L274.30,96.09L274.80,94.72L275.29,93.32L275.79,91.89L276.29,90.44L276.78,88.98L277.28,87.50L277.78,86.02L278.27,84.53L278.77,83.03L279.27,81.55L279.77,80.06L280.26,78.59L280.76,77.14L281.26,75.70L281.75,74.29L282.25,72.90L282.75,71.55L283.24,70.22L283.74,68.93L284.24,67.67L284.73,66.46L285.23,65.28L285.73,64.15L286.23,63.06L286.72,62.01L287.22,61.00L287.72,60.04L288.21,59.12L288.71,58.25L289.21,57.41L289.70,56.62L290.20,55.86L290.70,55.15L291.20,54.48L291.69,53.84L292.19,53.23L292.69,52.67L293.18,52.13L293.68,51.63L294.18,51.15L294.67,50.71L295.17,50.29L295.67,49.90L296.16,49.53L296.66,49.19L297.16,48.87L297.66,48.57L298.15,48.29L298.65,48.02L299.15,47.78L299.64,47.55L300.14,47.34L300.64,47.14L301.13,46.95L301.63,46.78L302.13,46.62L302.62,46.47L303.12,46.33L303.62,46.20L304.12,46.08L304.61,45.97L305.11,45.86L305.61,45.76L306.10,45.67L306.60,45.59L307.10,45.51L307.59,45.44L308.09,45.37L308.59,45.31L309.09,45.25L309.58,45.20L310.08,45.15L310.58,45.10L311.07,45.06L311.57,45.02L312.07,44.98L312.56,44.95L313.06,44.91L313.56,44.88L314.05,44.86L314.55,44.83L315.05,44.81L315.55,44.78L316.04,44.76L316.54,44.74L317.04,44.73L317.53,44.71L318.03,44.70L318.53,44.68L319.02,44.67L319.52,44.66L320.02,44.64L320.52,44.63L321.01,44.62L321.51,44.62L322.01,44.61L322.50,44.60L323.00,44.59" fill="none" stroke="#e3202b" stroke-width="1.25"/>
<path d="M241.50,120.70L243.90,123.10L241.50,125.50L239.10,123.10Z" fill="#e3202b"/>
<path d="M255.40,115.90L257.80,118.30L255.40,120.70L253.00,118.30Z" fill="#e3202b"/>
<path d="M268.50,101.10L270.90,103.50L268.50,105.90L266.10,103.50Z" fill="#e3202b"/>
<path d="M281.90,69.60L284.30,72.00L281.90,74.40L279.50,72.00Z" fill="#e3202b"/>
<path d="M295.30,46.40L297.70,48.80L295.30,51.20L292.90,48.80Z" fill="#e3202b"/>
<path d="M309.20,42.20L311.60,44.60L309.20,47.00L306.80,44.60Z" fill="#e3202b"/>
<path d="M323.00,42.60L325.40,45.00L323.00,47.40L320.60,45.00Z" fill="#e3202b"/>
<line x1="207.8" y1="27.6" x2="218.0" y2="27.6" stroke="#e3202b" stroke-width="1.6"/>
<path d="M212.90,25.56L214.94,27.60L212.90,29.64L210.86,27.60Z" fill="#e3202b"/>
<text x="223.00" y="30.22" font-size="7.28" fill="#1e1e1e" stroke="#1e1e1e" stroke-width="0.2">Depatux-m</text>
<line x1="207.8" y1="36.5" x2="218.0" y2="36.5" stroke="#1f3ae0" stroke-width="1.6"/>
<circle cx="212.90" cy="36.50" r="1.91" fill="#1f3ae0"/>
<text x="223.00" y="39.12" font-size="7.28" fill="#1e1e1e" stroke="#1e1e1e" stroke-width="0.2">ABBV-221</text>
<line x1="207.8" y1="45.4" x2="218.0" y2="45.4" stroke="#7d2fb8" stroke-width="1.6"/>
<circle cx="212.90" cy="45.40" r="1.95" fill="#fff" stroke="#7d2fb8" stroke-width="1.02"/>
<text x="223.00" y="48.02" font-size="7.28" fill="#1e1e1e" stroke="#1e1e1e" stroke-width="0.2">AM1</text>
<line x1="207.8" y1="54.4" x2="218.0" y2="54.4" stroke="#ef8a35" stroke-width="1.6"/>
<path d="M212.90,52.45L214.76,55.77L211.04,55.77Z" fill="#ef8a35"/>
<text x="223.00" y="57.02" font-size="7.28" fill="#1e1e1e" stroke="#1e1e1e" stroke-width="0.2">Cetuximab</text>
<line x1="207.8" y1="63.4" x2="218.0" y2="63.4" stroke="#2b8a2b" stroke-width="1.6"/>
<path d="M212.90,65.36L214.76,62.03L211.04,62.03Z" fill="#2b8a2b"/>
<text x="223.00" y="66.02" font-size="7.28" fill="#1e1e1e" stroke="#1e1e1e" stroke-width="0.2">hIgG-MMAE</text>
<text x="347.30" y="11.60" font-size="13.0" font-weight="bold" fill="#111" stroke="#111" stroke-width="0.22">C</text>
<text x="366.60" y="11.60" font-size="10.0" font-weight="bold" textLength="45.50" lengthAdjust="spacingAndGlyphs" fill="#111" stroke="#111" stroke-width="0.22">NR6 EGFR</text>
<text x="414.40" y="6.70" font-size="6.3" font-weight="bold" textLength="39.80" lengthAdjust="spacingAndGlyphs" fill="#111" stroke="#111" stroke-width="0.22">C271A,C283A</text>
<text x="457.70" y="11.60" font-size="10.0" font-weight="bold" textLength="30.00" lengthAdjust="spacingAndGlyphs" fill="#111" stroke="#111" stroke-width="0.22">(FACS)</text>
<line x1="374.6" y1="33.2" x2="374.6" y2="127.89999999999999" stroke="#333333" stroke-width="1.3"/>
<line x1="372.0" y1="33.2" x2="374.6" y2="33.2" stroke="#333333" stroke-width="1.1"/>
<text x="370.20" y="35.35" font-size="6.93" font-weight="bold" text-anchor="end" fill="#222222" stroke="#222222" stroke-width="0.22">1,000</text>
<line x1="372.0" y1="52.0" x2="374.6" y2="52.0" stroke="#333333" stroke-width="1.1"/>
<text x="370.20" y="54.15" font-size="6.93" font-weight="bold" text-anchor="end" fill="#222222" stroke="#222222" stroke-width="0.22">800</text>
<line x1="372.0" y1="70.8" x2="374.6" y2="70.8" stroke="#333333" stroke-width="1.1"/>
<text x="370.20" y="72.95" font-size="6.93" font-weight="bold" text-anchor="end" fill="#222222" stroke="#222222" stroke-width="0.22">600</text>
<line x1="372.0" y1="89.7" x2="374.6" y2="89.7" stroke="#333333" stroke-width="1.1"/>
<text x="370.20" y="91.85" font-size="6.93" font-weight="bold" text-anchor="end" fill="#222222" stroke="#222222" stroke-width="0.22">400</text>
<line x1="372.0" y1="108.5" x2="374.6" y2="108.5" stroke="#333333" stroke-width="1.1"/>
<text x="370.20" y="110.65" font-size="6.93" font-weight="bold" text-anchor="end" fill="#222222" stroke="#222222" stroke-width="0.22">200</text>
<line x1="372.0" y1="127.3" x2="374.6" y2="127.3" stroke="#333333" stroke-width="1.1"/>
<text x="370.20" y="129.45" font-size="6.93" font-weight="bold" text-anchor="end" fill="#222222" stroke="#222222" stroke-width="0.22">0</text>
<line x1="374.0" y1="127.3" x2="516.3" y2="127.3" stroke="#333333" stroke-width="1.3"/>
<line x1="374.5" y1="127.3" x2="374.5" y2="129.9" stroke="#333333" stroke-width="1.1"/>
<text transform="translate(376.30,135.90) rotate(-45)" font-size="6.93" font-weight="bold" text-anchor="end" fill="#222222" stroke="#222222" stroke-width="0.22">0.0001</text>
<line x1="392.19" y1="127.3" x2="392.19" y2="129.9" stroke="#333333" stroke-width="1.1"/>
<text transform="translate(393.99,135.90) rotate(-45)" font-size="6.93" font-weight="bold" text-anchor="end" fill="#222222" stroke="#222222" stroke-width="0.22">0.001</text>
<line x1="409.88" y1="127.3" x2="409.88" y2="129.9" stroke="#333333" stroke-width="1.1"/>
<text transform="translate(411.68,135.90) rotate(-45)" font-size="6.93" font-weight="bold" text-anchor="end" fill="#222222" stroke="#222222" stroke-width="0.22">0.01</text>
<line x1="427.57" y1="127.3" x2="427.57" y2="129.9" stroke="#333333" stroke-width="1.1"/>
<text transform="translate(429.37,135.90) rotate(-45)" font-size="6.93" font-weight="bold" text-anchor="end" fill="#222222" stroke="#222222" stroke-width="0.22">0.1</text>
<line x1="445.26" y1="127.3" x2="445.26" y2="129.9" stroke="#333333" stroke-width="1.1"/>
<text transform="translate(447.06,135.90) rotate(-45)" font-size="6.93" font-weight="bold" text-anchor="end" fill="#222222" stroke="#222222" stroke-width="0.22">1</text>
<line x1="462.95" y1="127.3" x2="462.95" y2="129.9" stroke="#333333" stroke-width="1.1"/>
<text transform="translate(465.95,135.54) rotate(-45)" font-size="6.93" font-weight="bold" text-anchor="end" fill="#222222" stroke="#222222" stroke-width="0.22">10</text>
<line x1="480.64" y1="127.3" x2="480.64" y2="129.9" stroke="#333333" stroke-width="1.1"/>
<text transform="translate(483.64,135.54) rotate(-45)" font-size="6.93" font-weight="bold" text-anchor="end" fill="#222222" stroke="#222222" stroke-width="0.22">100</text>
<line x1="498.33" y1="127.3" x2="498.33" y2="129.9" stroke="#333333" stroke-width="1.1"/>
<text transform="translate(501.33,135.54) rotate(-45)" font-size="6.93" font-weight="bold" text-anchor="end" fill="#222222" stroke="#222222" stroke-width="0.22">1,000</text>
<line x1="516.02" y1="127.3" x2="516.02" y2="129.9" stroke="#333333" stroke-width="1.1"/>
<text transform="translate(519.02,135.54) rotate(-45)" font-size="6.93" font-weight="bold" text-anchor="end" fill="#222222" stroke="#222222" stroke-width="0.22">10,000</text>
<text transform="translate(352.00,80.60) rotate(-90)" font-size="8.4" font-weight="bold" text-anchor="middle" fill="#111" stroke="#111" stroke-width="0.22">Geo mean</text>
<text x="414.20" y="161.30" font-size="7.9" font-weight="bold" textLength="61.70" lengthAdjust="spacingAndGlyphs" fill="#111" stroke="#111" stroke-width="0.22">Ab/ADC (nmol/L)</text>
<path d="M408.00,46.10L410.19,42.19L405.81,42.19Z" fill="#2b8a2b"/>
<path d="M416.40,41.80L418.58,37.89L414.21,37.89Z" fill="#2b8a2b"/>
<path d="M433.10,40.30L435.29,36.39L430.92,36.39Z" fill="#2b8a2b"/>
<path d="M441.50,41.80L443.69,37.89L439.31,37.89Z" fill="#2b8a2b"/>
<path d="M449.90,43.90L452.08,39.99L447.71,39.99Z" fill="#2b8a2b"/>
<path d="M458.20,46.70L460.38,42.79L456.01,42.79Z" fill="#2b8a2b"/>
<path d="M466.60,49.20L468.79,45.29L464.42,45.29Z" fill="#2b8a2b"/>
<path d="M475.00,45.40L477.19,41.49L472.81,41.49Z" fill="#2b8a2b"/>
<path d="M483.30,41.80L485.49,37.89L481.12,37.89Z" fill="#2b8a2b"/>
<path d="M491.70,39.70L493.88,35.79L489.51,35.79Z" fill="#2b8a2b"/>
<path d="M500.10,47.50L502.29,43.59L497.92,43.59Z" fill="#2b8a2b"/>
<path d="M408.00,40.70L410.19,44.61L405.81,44.61Z" fill="#ef8a35"/>
<path d="M441.50,36.60L443.69,40.51L439.31,40.51Z" fill="#ef8a35"/>
<path d="M449.90,45.70L452.08,49.61L447.71,49.61Z" fill="#ef8a35"/>
<path d="M458.20,42.50L460.38,46.41L456.01,46.41Z" fill="#ef8a35"/>
<path d="M475.00,36.20L477.19,40.11L472.81,40.11Z" fill="#ef8a35"/>
<path d="M483.30,43.60L485.49,47.51L481.12,47.51Z" fill="#ef8a35"/>
<path d="M500.10,36.20L502.29,40.11L497.92,40.11Z" fill="#ef8a35"/>
<path d="M408.00,47.35L408.50,47.35L409.00,47.35L409.49,47.35L409.99,47.35L410.49,47.35L410.99,47.35L411.48,47.35L411.98,47.35L412.48,47.36L412.98,47.36L413.48,47.36L413.97,47.36L414.47,47.36L414.97,47.36L415.47,47.36L415.97,47.36L416.46,47.36L416.96,47.36L417.46,47.37L417.96,47.37L418.45,47.37L418.95,47.37L419.45,47.37L419.95,47.38L420.45,47.38L420.94,47.38L421.44,47.39L421.94,47.39L422.44,47.40L422.94,47.40L423.43,47.41L423.93,47.41L424.43,47.42L424.93,47.43L425.42,47.44L425.92,47.45L426.42,47.46L426.92,47.47L427.42,47.48L427.91,47.50L428.41,47.51L428.91,47.53L429.41,47.55L429.90,47.57L430.40,47.60L430.90,47.62L431.40,47.65L431.90,47.69L432.39,47.72L432.89,47.77L433.39,47.81L433.89,47.86L434.39,47.92L434.88,47.98L435.38,48.05L435.88,48.12L436.38,48.20L436.87,48.30L437.37,48.40L437.87,48.51L438.37,48.64L438.87,48.77L439.36,48.93L439.86,49.09L440.36,49.28L440.86,49.48L441.36,49.71L441.85,49.96L442.35,50.23L442.85,50.53L443.35,50.86L443.84,51.22L444.34,51.62L444.84,52.05L445.34,52.52L445.84,53.04L446.33,53.61L446.83,54.22L447.33,54.88L447.83,55.61L448.32,56.39L448.82,57.23L449.32,58.13L449.82,59.10L450.32,60.13L450.81,61.24L451.31,62.41L451.81,63.65L452.31,64.96L452.81,66.33L453.30,67.76L453.80,69.25L454.30,70.79L454.80,72.38L455.29,74.01L455.79,75.67L456.29,77.35L456.79,79.05L457.29,80.75L457.78,82.46L458.28,84.15L458.78,85.81L459.28,87.45L459.78,89.06L460.27,90.61L460.77,92.12L461.27,93.57L461.77,94.96L462.26,96.29L462.76,97.55L463.26,98.74L463.76,99.87L464.26,100.93L464.75,101.92L465.25,102.84L465.75,103.70L466.25,104.50L466.74,105.24L467.24,105.92L467.74,106.55L468.24,107.13L468.74,107.66L469.23,108.15L469.73,108.60L470.23,109.01L470.73,109.38L471.23,109.72L471.72,110.03L472.22,110.31L472.72,110.56L473.22,110.80L473.71,111.01L474.21,111.20L474.71,111.37L475.21,111.53L475.71,111.67L476.20,111.80L476.70,111.92L477.20,112.02L477.70,112.12L478.20,112.20L478.69,112.28L479.19,112.35L479.69,112.41L480.19,112.47L480.68,112.52L481.18,112.57L481.68,112.61L482.18,112.65L482.68,112.68L483.17,112.72L483.67,112.74L484.17,112.77L484.67,112.79L485.16,112.81L485.66,112.83L486.16,112.85L486.66,112.86L487.16,112.88L487.65,112.89L488.15,112.90L488.65,112.91L489.15,112.92L489.65,112.93L490.14,112.93L490.64,112.94L491.14,112.95L491.64,112.95L492.13,112.96L492.63,112.96L493.13,112.96L493.63,112.97L494.13,112.97L494.62,112.97L495.12,112.98L495.62,112.98L496.12,112.98L496.62,112.98L497.11,112.98L497.61,112.99L498.11,112.99L498.61,112.99L499.10,112.99L499.60,112.99L500.10,112.99" fill="none" stroke="#a9cbef" stroke-width="1.45"/>
<path d="M408.00,44.60L410.40,47.00L408.00,49.40L405.60,47.00Z" fill="#a9cbef"/>
<path d="M416.40,45.10L418.80,47.50L416.40,49.90L414.00,47.50Z" fill="#a9cbef"/>
<path d="M424.80,44.80L427.20,47.20L424.80,49.60L422.40,47.20Z" fill="#a9cbef"/>
<path d="M433.10,45.80L435.50,48.20L433.10,50.60L430.70,48.20Z" fill="#a9cbef"/>
<path d="M441.50,48.10L443.90,50.50L441.50,52.90L439.10,50.50Z" fill="#a9cbef"/>
<path d="M449.90,55.60L452.30,58.00L449.90,60.40L447.50,58.00Z" fill="#a9cbef"/>
<path d="M458.20,82.60L460.60,85.00L458.20,87.40L455.80,85.00Z" fill="#a9cbef"/>
<path d="M466.60,101.60L469.00,104.00L466.60,106.40L464.20,104.00Z" fill="#a9cbef"/>
<path d="M475.00,108.60L477.40,111.00L475.00,113.40L472.60,111.00Z" fill="#a9cbef"/>
<path d="M483.30,110.60L485.70,113.00L483.30,115.40L480.90,113.00Z" fill="#a9cbef"/>
<path d="M491.70,110.60L494.10,113.00L491.70,115.40L489.30,113.00Z" fill="#a9cbef"/>
<path d="M500.10,111.20L502.50,113.60L500.10,116.00L497.70,113.60Z" fill="#a9cbef"/>
<path d="M408.00,48.11L408.50,48.11L409.00,48.11L409.49,48.12L409.99,48.12L410.49,48.12L410.99,48.13L411.48,48.13L411.98,48.14L412.48,48.15L412.98,48.15L413.48,48.16L413.97,48.17L414.47,48.17L414.97,48.18L415.47,48.19L415.97,48.20L416.46,48.21L416.96,48.23L417.46,48.24L417.96,48.26L418.45,48.27L418.95,48.29L419.45,48.31L419.95,48.33L420.45,48.36L420.94,48.38L421.44,48.41L421.94,48.44L422.44,48.47L422.94,48.51L423.43,48.55L423.93,48.59L424.43,48.64L424.93,48.69L425.42,48.75L425.92,48.81L426.42,48.87L426.92,48.94L427.42,49.02L427.91,49.11L428.41,49.20L428.91,49.31L429.41,49.42L429.90,49.54L430.40,49.67L430.90,49.81L431.40,49.97L431.90,50.14L432.39,50.32L432.89,50.52L433.39,50.73L433.89,50.97L434.39,51.22L434.88,51.50L435.38,51.80L435.88,52.12L436.38,52.47L436.87,52.84L437.37,53.25L437.87,53.69L438.37,54.16L438.87,54.66L439.36,55.21L439.86,55.79L440.36,56.41L440.86,57.08L441.36,57.79L441.85,58.55L442.35,59.36L442.85,60.21L443.35,61.12L443.84,62.07L444.34,63.08L444.84,64.13L445.34,65.24L445.84,66.40L446.33,67.60L446.83,68.86L447.33,70.15L447.83,71.49L448.32,72.86L448.82,74.27L449.32,75.71L449.82,77.17L450.32,78.65L450.81,80.14L451.31,81.64L451.81,83.15L452.31,84.65L452.81,86.14L453.30,87.62L453.80,89.07L454.30,90.50L454.80,91.90L455.29,93.27L455.79,94.60L456.29,95.88L456.79,97.12L457.29,98.32L457.78,99.46L458.28,100.56L458.78,101.60L459.28,102.59L459.78,103.54L460.27,104.43L460.77,105.27L461.27,106.07L461.77,106.81L462.26,107.51L462.76,108.17L463.26,108.78L463.76,109.36L464.26,109.89L464.75,110.39L465.25,110.85L465.75,111.28L466.25,111.68L466.74,112.05L467.24,112.39L467.74,112.71L468.24,113.00L468.74,113.27L469.23,113.52L469.73,113.75L470.23,113.96L470.73,114.16L471.23,114.34L471.72,114.50L472.22,114.65L472.72,114.79L473.22,114.92L473.71,115.04L474.21,115.15L474.71,115.25L475.21,115.34L475.71,115.43L476.20,115.50L476.70,115.57L477.20,115.64L477.70,115.70L478.20,115.75L478.69,115.80L479.19,115.85L479.69,115.89L480.19,115.93L480.68,115.97L481.18,116.00L481.68,116.03L482.18,116.06L482.68,116.08L483.17,116.10L483.67,116.12L484.17,116.14L484.67,116.16L485.16,116.18L485.66,116.19L486.16,116.21L486.66,116.22L487.16,116.23L487.65,116.24L488.15,116.25L488.65,116.26L489.15,116.27L489.65,116.27L490.14,116.28L490.64,116.29L491.14,116.29L491.64,116.30L492.13,116.30L492.63,116.31L493.13,116.31L493.63,116.31L494.13,116.32L494.62,116.32L495.12,116.32L495.62,116.33L496.12,116.33L496.62,116.33L497.11,116.33L497.61,116.33L498.11,116.34L498.61,116.34L499.10,116.34L499.60,116.34L500.10,116.34" fill="none" stroke="#7d2fb8" stroke-width="1.45"/>
<circle cx="408.00" cy="47.50" r="2.30" fill="none" stroke="#7d2fb8" stroke-width="1.20"/>
<circle cx="416.40" cy="48.00" r="2.30" fill="none" stroke="#7d2fb8" stroke-width="1.20"/>
<circle cx="424.80" cy="48.50" r="2.30" fill="none" stroke="#7d2fb8" stroke-width="1.20"/>
<circle cx="433.10" cy="51.00" r="2.30" fill="none" stroke="#7d2fb8" stroke-width="1.20"/>
<circle cx="441.50" cy="59.60" r="2.30" fill="none" stroke="#7d2fb8" stroke-width="1.20"/>
<circle cx="449.90" cy="75.50" r="2.30" fill="none" stroke="#7d2fb8" stroke-width="1.20"/>
<circle cx="458.20" cy="102.00" r="2.30" fill="none" stroke="#7d2fb8" stroke-width="1.20"/>
<circle cx="466.60" cy="111.50" r="2.30" fill="none" stroke="#7d2fb8" stroke-width="1.20"/>
<circle cx="475.00" cy="115.00" r="2.30" fill="none" stroke="#7d2fb8" stroke-width="1.20"/>
<circle cx="483.30" cy="116.00" r="2.30" fill="none" stroke="#7d2fb8" stroke-width="1.20"/>
<circle cx="491.70" cy="116.30" r="2.30" fill="none" stroke="#7d2fb8" stroke-width="1.20"/>
<circle cx="500.10" cy="116.50" r="2.30" fill="none" stroke="#7d2fb8" stroke-width="1.20"/>
<path d="M408.00,49.47L408.50,49.48L409.00,49.48L409.49,49.48L409.99,49.48L410.49,49.48L410.99,49.48L411.48,49.49L411.98,49.49L412.48,49.49L412.98,49.49L413.48,49.50L413.97,49.50L414.47,49.50L414.97,49.51L415.47,49.51L415.97,49.52L416.46,49.52L416.96,49.53L417.46,49.54L417.96,49.54L418.45,49.55L418.95,49.56L419.45,49.57L419.95,49.58L420.45,49.59L420.94,49.60L421.44,49.62L421.94,49.63L422.44,49.65L422.94,49.67L423.43,49.69L423.93,49.71L424.43,49.73L424.93,49.76L425.42,49.79L425.92,49.82L426.42,49.85L426.92,49.89L427.42,49.93L427.91,49.97L428.41,50.02L428.91,50.07L429.41,50.13L429.90,50.20L430.40,50.27L430.90,50.34L431.40,50.42L431.90,50.51L432.39,50.61L432.89,50.72L433.39,50.84L433.89,50.97L434.39,51.11L434.88,51.26L435.38,51.43L435.88,51.61L436.38,51.81L436.87,52.03L437.37,52.27L437.87,52.52L438.37,52.80L438.87,53.10L439.36,53.43L439.86,53.79L440.36,54.17L440.86,54.59L441.36,55.04L441.85,55.52L442.35,56.05L442.85,56.61L443.35,57.22L443.84,57.87L444.34,58.56L444.84,59.31L445.34,60.10L445.84,60.95L446.33,61.84L446.83,62.79L447.33,63.80L447.83,64.86L448.32,65.97L448.82,67.14L449.32,68.36L449.82,69.63L450.32,70.95L450.81,72.31L451.31,73.72L451.81,75.16L452.31,76.63L452.81,78.13L453.30,79.65L453.80,81.18L454.30,82.73L454.80,84.28L455.29,85.82L455.79,87.35L456.29,88.87L456.79,90.36L457.29,91.83L457.78,93.26L458.28,94.66L458.78,96.01L459.28,97.32L459.78,98.58L460.27,99.78L460.77,100.94L461.27,102.04L461.77,103.09L462.26,104.08L462.76,105.02L463.26,105.91L463.76,106.74L464.26,107.53L464.75,108.26L465.25,108.95L465.75,109.59L466.25,110.18L466.74,110.74L467.24,111.25L467.74,111.73L468.24,112.17L468.74,112.58L469.23,112.96L469.73,113.31L470.23,113.63L470.73,113.93L471.23,114.20L471.72,114.45L472.22,114.68L472.72,114.90L473.22,115.09L473.71,115.27L474.21,115.44L474.71,115.59L475.21,115.72L475.71,115.85L476.20,115.97L476.70,116.07L477.20,116.17L477.70,116.26L478.20,116.34L478.69,116.42L479.19,116.48L479.69,116.55L480.19,116.60L480.68,116.66L481.18,116.70L481.68,116.75L482.18,116.79L482.68,116.82L483.17,116.86L483.67,116.89L484.17,116.91L484.67,116.94L485.16,116.96L485.66,116.98L486.16,117.00L486.66,117.02L487.16,117.04L487.65,117.05L488.15,117.06L488.65,117.08L489.15,117.09L489.65,117.10L490.14,117.11L490.64,117.12L491.14,117.12L491.64,117.13L492.13,117.14L492.63,117.14L493.13,117.15L493.63,117.15L494.13,117.16L494.62,117.16L495.12,117.17L495.62,117.17L496.12,117.17L496.62,117.17L497.11,117.18L497.61,117.18L498.11,117.18L498.61,117.18L499.10,117.19L499.60,117.19L500.10,117.19" fill="none" stroke="#1c1cb0" stroke-width="1.45"/>
<circle cx="408.00" cy="48.50" r="2.25" fill="#1c1cb0"/>
<circle cx="416.40" cy="48.50" r="2.25" fill="#1c1cb0"/>
<circle cx="424.80" cy="48.50" r="2.25" fill="#1c1cb0"/>
<circle cx="433.10" cy="54.30" r="2.25" fill="#1c1cb0"/>
<circle cx="441.50" cy="55.40" r="2.25" fill="#1c1cb0"/>
<circle cx="449.90" cy="69.10" r="2.25" fill="#1c1cb0"/>
<circle cx="458.20" cy="94.50" r="2.25" fill="#1c1cb0"/>
<circle cx="466.60" cy="111.40" r="2.25" fill="#1c1cb0"/>
<circle cx="475.00" cy="115.30" r="2.25" fill="#1c1cb0"/>
<circle cx="483.30" cy="116.70" r="2.25" fill="#1c1cb0"/>
<circle cx="491.70" cy="116.90" r="2.25" fill="#1c1cb0"/>
<circle cx="500.10" cy="117.30" r="2.25" fill="#1c1cb0"/>
<path d="M408.00,43.72L408.50,43.72L409.00,43.72L409.49,43.72L409.99,43.73L410.49,43.73L410.99,43.73L411.48,43.73L411.98,43.74L412.48,43.74L412.98,43.74L413.48,43.75L413.97,43.75L414.47,43.75L414.97,43.76L415.47,43.76L415.97,43.77L416.46,43.77L416.96,43.78L417.46,43.79L417.96,43.79L418.45,43.80L418.95,43.81L419.45,43.82L419.95,43.83L420.45,43.84L420.94,43.85L421.44,43.87L421.94,43.88L422.44,43.89L422.94,43.91L423.43,43.93L423.93,43.95L424.43,43.97L424.93,43.99L425.42,44.01L425.92,44.04L426.42,44.07L426.92,44.10L427.42,44.13L427.91,44.17L428.41,44.21L428.91,44.25L429.41,44.30L429.90,44.35L430.40,44.40L430.90,44.46L431.40,44.53L431.90,44.60L432.39,44.67L432.89,44.75L433.39,44.84L433.89,44.93L434.39,45.03L434.88,45.14L435.38,45.26L435.88,45.39L436.38,45.53L436.87,45.68L437.37,45.84L437.87,46.02L438.37,46.21L438.87,46.41L439.36,46.63L439.86,46.87L440.36,47.12L440.86,47.39L441.36,47.69L441.85,48.00L442.35,48.34L442.85,48.71L443.35,49.10L443.84,49.51L444.34,49.96L444.84,50.43L445.34,50.94L445.84,51.48L446.33,52.06L446.83,52.67L447.33,53.32L447.83,54.01L448.32,54.74L448.82,55.51L449.32,56.32L449.82,57.17L450.32,58.07L450.81,59.01L451.31,59.99L451.81,61.01L452.31,62.08L452.81,63.18L453.30,64.33L453.80,65.51L454.30,66.72L454.80,67.97L455.29,69.24L455.79,70.54L456.29,71.86L456.79,73.20L457.29,74.55L457.78,75.92L458.28,77.28L458.78,78.65L459.28,80.02L459.78,81.37L460.27,82.71L460.77,84.04L461.27,85.34L461.77,86.62L462.26,87.88L462.76,89.10L463.26,90.28L463.76,91.44L464.26,92.55L464.75,93.62L465.25,94.65L465.75,95.64L466.25,96.59L466.74,97.50L467.24,98.36L467.74,99.18L468.24,99.96L468.74,100.70L469.23,101.39L469.73,102.05L470.23,102.67L470.73,103.26L471.23,103.80L471.72,104.32L472.22,104.80L472.72,105.25L473.22,105.68L473.71,106.07L474.21,106.44L474.71,106.78L475.21,107.10L475.71,107.40L476.20,107.68L476.70,107.94L477.20,108.18L477.70,108.40L478.20,108.61L478.69,108.80L479.19,108.98L479.69,109.14L480.19,109.29L480.68,109.44L481.18,109.57L481.68,109.69L482.18,109.80L482.68,109.90L483.17,110.00L483.67,110.09L484.17,110.17L484.67,110.25L485.16,110.32L485.66,110.38L486.16,110.44L486.66,110.50L487.16,110.55L487.65,110.59L488.15,110.64L488.65,110.68L489.15,110.72L489.65,110.75L490.14,110.78L490.64,110.81L491.14,110.84L491.64,110.86L492.13,110.88L492.63,110.91L493.13,110.93L493.63,110.94L494.13,110.96L494.62,110.98L495.12,110.99L495.62,111.00L496.12,111.01L496.62,111.03L497.11,111.04L497.61,111.05L498.11,111.05L498.61,111.06L499.10,111.07L499.60,111.08L500.10,111.08" fill="none" stroke="#e3202b" stroke-width="1.45"/>
<path d="M408.00,42.00L410.40,44.40L408.00,46.80L405.60,44.40Z" fill="#e3202b"/>
<path d="M416.40,42.00L418.80,44.40L416.40,46.80L414.00,44.40Z" fill="#e3202b"/>
<path d="M424.80,42.10L427.20,44.50L424.80,46.90L422.40,44.50Z" fill="#e3202b"/>
<path d="M433.10,42.40L435.50,44.80L433.10,47.20L430.70,44.80Z" fill="#e3202b"/>
<path d="M441.50,43.50L443.90,45.90L441.50,48.30L439.10,45.90Z" fill="#e3202b"/>
<path d="M449.90,54.00L452.30,56.40L449.90,58.80L447.50,56.40Z" fill="#e3202b"/>
<path d="M458.20,76.30L460.60,78.70L458.20,81.10L455.80,78.70Z" fill="#e3202b"/>
<path d="M466.60,94.90L469.00,97.30L466.60,99.70L464.20,97.30Z" fill="#e3202b"/>
<path d="M475.00,102.10L477.40,104.50L475.00,106.90L472.60,104.50Z" fill="#e3202b"/>
<path d="M483.30,105.90L485.70,108.30L483.30,110.70L480.90,108.30Z" fill="#e3202b"/>
<path d="M491.70,108.40L494.10,110.80L491.70,113.20L489.30,110.80Z" fill="#e3202b"/>
<path d="M500.10,112.20L502.50,114.60L500.10,117.00L497.70,114.60Z" fill="#e3202b"/>
<line x1="379.6" y1="61.3" x2="390.3" y2="61.3" stroke="#7d2fb8" stroke-width="1.6"/>
<circle cx="384.95" cy="61.30" r="1.95" fill="#fff" stroke="#7d2fb8" stroke-width="1.02"/>
<text x="396.00" y="64.13" font-size="7.85" fill="#1e1e1e" stroke="#1e1e1e" stroke-width="0.2">AM1</text>
<line x1="379.6" y1="72.1" x2="390.3" y2="72.1" stroke="#1c1cb0" stroke-width="1.6"/>
<circle cx="384.95" cy="72.10" r="1.91" fill="#1c1cb0"/>
<text x="396.00" y="74.93" font-size="7.85" fill="#1e1e1e" stroke="#1e1e1e" stroke-width="0.2">ABBV-221</text>
<line x1="379.6" y1="82.9" x2="390.3" y2="82.9" stroke="#a9cbef" stroke-width="1.6"/>
<path d="M384.95,80.86L386.99,82.90L384.95,84.94L382.91,82.90Z" fill="#a9cbef"/>
<text x="396.00" y="85.73" font-size="7.85" fill="#1e1e1e" stroke="#1e1e1e" stroke-width="0.2">ABT-806</text>
<line x1="379.6" y1="93.7" x2="390.3" y2="93.7" stroke="#e3202b" stroke-width="1.6"/>
<path d="M384.95,91.66L386.99,93.70L384.95,95.74L382.91,93.70Z" fill="#e3202b"/>
<text x="396.00" y="96.53" font-size="7.85" fill="#1e1e1e" stroke="#1e1e1e" stroke-width="0.2">Depatux-m</text>
<path d="M384.95,102.55L386.81,105.87L383.09,105.87Z" fill="#ef8a35"/>
<text x="396.00" y="107.33" font-size="7.85" fill="#1e1e1e" stroke="#1e1e1e" stroke-width="0.2">Cetuximab</text>
<path d="M384.95,117.25L386.81,113.93L383.09,113.93Z" fill="#2b8a2b"/>
<text x="396.00" y="118.13" font-size="7.85" fill="#1e1e1e" stroke="#1e1e1e" stroke-width="0.2">Rituxan</text>
<text x="2.50" y="191.60" font-size="13.0" font-weight="bold" fill="#111" stroke="#111" stroke-width="0.22">D</text>
<text x="18.20" y="191.60" font-size="10.0" font-weight="bold" textLength="96.20" lengthAdjust="spacingAndGlyphs" fill="#111" stroke="#111" stroke-width="0.22">U87MGde2-7 (FACS)</text>
<line x1="34.5" y1="205.3" x2="34.5" y2="293.6" stroke="#333333" stroke-width="1.3"/>
<line x1="31.9" y1="212.6" x2="34.5" y2="212.6" stroke="#333333" stroke-width="1.1"/>
<text x="30.30" y="214.78" font-size="7.04" font-weight="bold" text-anchor="end" fill="#222222" stroke="#222222" stroke-width="0.22">2,500</text>
<line x1="31.9" y1="228.7" x2="34.5" y2="228.7" stroke="#333333" stroke-width="1.1"/>
<text x="30.30" y="230.88" font-size="7.04" font-weight="bold" text-anchor="end" fill="#222222" stroke="#222222" stroke-width="0.22">2,000</text>
<line x1="31.9" y1="244.8" x2="34.5" y2="244.8" stroke="#333333" stroke-width="1.1"/>
<text x="30.30" y="246.98" font-size="7.04" font-weight="bold" text-anchor="end" fill="#222222" stroke="#222222" stroke-width="0.22">1,500</text>
<line x1="31.9" y1="260.9" x2="34.5" y2="260.9" stroke="#333333" stroke-width="1.1"/>
<text x="30.30" y="263.08" font-size="7.04" font-weight="bold" text-anchor="end" fill="#222222" stroke="#222222" stroke-width="0.22">1,000</text>
<line x1="31.9" y1="277.0" x2="34.5" y2="277.0" stroke="#333333" stroke-width="1.1"/>
<text x="30.30" y="279.18" font-size="7.04" font-weight="bold" text-anchor="end" fill="#222222" stroke="#222222" stroke-width="0.22">500</text>
<line x1="31.9" y1="293.0" x2="34.5" y2="293.0" stroke="#333333" stroke-width="1.1"/>
<text x="30.30" y="295.18" font-size="7.04" font-weight="bold" text-anchor="end" fill="#222222" stroke="#222222" stroke-width="0.22">0</text>
<line x1="33.9" y1="293.0" x2="167.8" y2="293.0" stroke="#333333" stroke-width="1.3"/>
<line x1="34.5" y1="293.0" x2="34.5" y2="295.6" stroke="#333333" stroke-width="1.1"/>
<text transform="translate(35.70,301.80) rotate(-45)" font-size="6.62" font-weight="bold" text-anchor="end" fill="#222222" stroke="#222222" stroke-width="0.22">0.0001</text>
<line x1="51.1" y1="293.0" x2="51.1" y2="295.6" stroke="#333333" stroke-width="1.1"/>
<text transform="translate(52.30,301.80) rotate(-45)" font-size="6.62" font-weight="bold" text-anchor="end" fill="#222222" stroke="#222222" stroke-width="0.22">0.001</text>
<line x1="67.7" y1="293.0" x2="67.7" y2="295.6" stroke="#333333" stroke-width="1.1"/>
<text transform="translate(68.90,301.80) rotate(-45)" font-size="6.62" font-weight="bold" text-anchor="end" fill="#222222" stroke="#222222" stroke-width="0.22">0.01</text>
<line x1="84.3" y1="293.0" x2="84.3" y2="295.6" stroke="#333333" stroke-width="1.1"/>
<text transform="translate(85.50,301.80) rotate(-45)" font-size="6.62" font-weight="bold" text-anchor="end" fill="#222222" stroke="#222222" stroke-width="0.22">0.1</text>
<line x1="100.9" y1="293.0" x2="100.9" y2="295.6" stroke="#333333" stroke-width="1.1"/>
<text transform="translate(102.10,301.80) rotate(-45)" font-size="6.62" font-weight="bold" text-anchor="end" fill="#222222" stroke="#222222" stroke-width="0.22">1</text>
<line x1="117.5" y1="293.0" x2="117.5" y2="295.6" stroke="#333333" stroke-width="1.1"/>
<text transform="translate(119.90,301.44) rotate(-45)" font-size="6.62" font-weight="bold" text-anchor="end" fill="#222222" stroke="#222222" stroke-width="0.22">10</text>
<line x1="134.1" y1="293.0" x2="134.1" y2="295.6" stroke="#333333" stroke-width="1.1"/>
<text transform="translate(136.50,301.44) rotate(-45)" font-size="6.62" font-weight="bold" text-anchor="end" fill="#222222" stroke="#222222" stroke-width="0.22">100</text>
<line x1="150.7" y1="293.0" x2="150.7" y2="295.6" stroke="#333333" stroke-width="1.1"/>
<text transform="translate(153.10,301.44) rotate(-45)" font-size="6.62" font-weight="bold" text-anchor="end" fill="#222222" stroke="#222222" stroke-width="0.22">1,000</text>
<line x1="167.3" y1="293.0" x2="167.3" y2="295.6" stroke="#333333" stroke-width="1.1"/>
<text transform="translate(169.70,301.44) rotate(-45)" font-size="6.62" font-weight="bold" text-anchor="end" fill="#222222" stroke="#222222" stroke-width="0.22">10,000</text>
<text transform="translate(10.20,248.30) rotate(-90)" font-size="7.4" font-weight="bold" text-anchor="middle" fill="#111" stroke="#111" stroke-width="0.22">Geo mean</text>
<text x="68.50" y="324.50" font-size="8.0" font-weight="bold" textLength="62.60" lengthAdjust="spacingAndGlyphs" fill="#111" stroke="#111" stroke-width="0.22">Ab/ADC (nmol/L)</text>
<path d="M64.20,217.60L64.70,217.60L65.20,217.60L65.70,217.60L66.20,217.60L66.69,217.60L67.19,217.60L67.69,217.60L68.19,217.60L68.69,217.60L69.19,217.60L69.69,217.60L70.19,217.60L70.69,217.60L71.18,217.60L71.68,217.60L72.18,217.60L72.68,217.60L73.18,217.60L73.68,217.60L74.18,217.60L74.68,217.60L75.18,217.60L75.67,217.60L76.17,217.60L76.67,217.60L77.17,217.60L77.67,217.60L78.17,217.60L78.67,217.60L79.17,217.60L79.67,217.60L80.16,217.60L80.66,217.60L81.16,217.60L81.66,217.60L82.16,217.60L82.66,217.60L83.16,217.60L83.66,217.60L84.16,217.60L84.65,217.60L85.15,217.60L85.65,217.60L86.15,217.60L86.65,217.60L87.15,217.60L87.65,217.60L88.15,217.60L88.64,217.60L89.14,217.60L89.64,217.60L90.14,217.60L90.64,217.60L91.14,217.60L91.64,217.60L92.14,217.60L92.64,217.60L93.13,217.60L93.63,217.60L94.13,217.60L94.63,217.60L95.13,217.60L95.63,217.60L96.13,217.60L96.63,217.60L97.13,217.60L97.62,217.60L98.12,217.60L98.62,217.60L99.12,217.60L99.62,217.60L100.12,217.60L100.62,217.60L101.12,217.60L101.62,217.60L102.11,217.60L102.61,217.60L103.11,217.60L103.61,217.60L104.11,217.60L104.61,217.60L105.11,217.60L105.61,217.60L106.11,217.60L106.60,217.60L107.10,217.60L107.60,217.60L108.10,217.60L108.60,217.61L109.10,217.61L109.60,217.61L110.10,217.61L110.60,217.61L111.09,217.61L111.59,217.61L112.09,217.61L112.59,217.61L113.09,217.61L113.59,217.61L114.09,217.61L114.59,217.62L115.09,217.62L115.58,217.62L116.08,217.62L116.58,217.62L117.08,217.63L117.58,217.63L118.08,217.63L118.58,217.63L119.08,217.64L119.58,217.64L120.07,217.64L120.57,217.65L121.07,217.65L121.57,217.66L122.07,217.66L122.57,217.67L123.07,217.68L123.57,217.68L124.07,217.69L124.56,217.70L125.06,217.71L125.56,217.72L126.06,217.73L126.56,217.74L127.06,217.75L127.56,217.77L128.06,217.79L128.56,217.80L129.05,217.82L129.55,217.84L130.05,217.87L130.55,217.89L131.05,217.92L131.55,217.95L132.05,217.98L132.55,218.02L133.04,218.05L133.54,218.10L134.04,218.14L134.54,218.19L135.04,218.25L135.54,218.31L136.04,218.37L136.54,218.44L137.04,218.52L137.53,218.61L138.03,218.70L138.53,218.80L139.03,218.91L139.53,219.02L140.03,219.15L140.53,219.29L141.03,219.44L141.53,219.60L142.02,219.78L142.52,219.97L143.02,220.17L143.52,220.39L144.02,220.62L144.52,220.88L145.02,221.15L145.52,221.44L146.02,221.75L146.51,222.08L147.01,222.43L147.51,222.80L148.01,223.19L148.51,223.60L149.01,224.04L149.51,224.50L150.01,224.98L150.51,225.47L151.00,225.99L151.50,226.53L152.00,227.08L152.50,227.65L153.00,228.24" fill="none" stroke="#2b8a2b" stroke-width="1.45"/>
<path d="M64.20,219.90L66.39,215.99L62.02,215.99Z" fill="#2b8a2b"/>
<path d="M72.50,219.90L74.69,215.99L70.31,215.99Z" fill="#2b8a2b"/>
<path d="M80.80,219.90L82.98,215.99L78.61,215.99Z" fill="#2b8a2b"/>
<path d="M89.10,219.90L91.28,215.99L86.91,215.99Z" fill="#2b8a2b"/>
<path d="M97.30,219.90L99.48,215.99L95.11,215.99Z" fill="#2b8a2b"/>
<path d="M105.50,220.00L107.69,216.09L103.31,216.09Z" fill="#2b8a2b"/>
<path d="M113.20,220.30L115.39,216.39L111.02,216.39Z" fill="#2b8a2b"/>
<path d="M121.00,219.80L123.19,215.89L118.81,215.89Z" fill="#2b8a2b"/>
<path d="M128.80,221.80L130.99,217.89L126.62,217.89Z" fill="#2b8a2b"/>
<path d="M136.60,222.80L138.78,218.89L134.41,218.89Z" fill="#2b8a2b"/>
<path d="M144.60,224.80L146.78,220.89L142.41,220.89Z" fill="#2b8a2b"/>
<path d="M153.00,231.50L155.19,227.59L150.81,227.59Z" fill="#2b8a2b"/>
<path d="M64.20,216.30L64.70,216.30L65.20,216.30L65.70,216.30L66.20,216.30L66.69,216.30L67.19,216.30L67.69,216.30L68.19,216.30L68.69,216.30L69.19,216.30L69.69,216.30L70.19,216.30L70.69,216.30L71.18,216.30L71.68,216.30L72.18,216.30L72.68,216.30L73.18,216.30L73.68,216.30L74.18,216.30L74.68,216.30L75.18,216.30L75.67,216.30L76.17,216.30L76.67,216.30L77.17,216.30L77.67,216.30L78.17,216.30L78.67,216.30L79.17,216.30L79.67,216.30L80.16,216.30L80.66,216.30L81.16,216.30L81.66,216.30L82.16,216.30L82.66,216.30L83.16,216.30L83.66,216.30L84.16,216.30L84.65,216.30L85.15,216.30L85.65,216.30L86.15,216.30L86.65,216.30L87.15,216.30L87.65,216.30L88.15,216.30L88.64,216.30L89.14,216.30L89.64,216.30L90.14,216.30L90.64,216.30L91.14,216.30L91.64,216.30L92.14,216.30L92.64,216.30L93.13,216.30L93.63,216.30L94.13,216.30L94.63,216.30L95.13,216.30L95.63,216.30L96.13,216.30L96.63,216.30L97.13,216.30L97.62,216.30L98.12,216.30L98.62,216.30L99.12,216.30L99.62,216.30L100.12,216.30L100.62,216.30L101.12,216.30L101.62,216.30L102.11,216.30L102.61,216.30L103.11,216.30L103.61,216.30L104.11,216.30L104.61,216.30L105.11,216.30L105.61,216.30L106.11,216.30L106.60,216.30L107.10,216.30L107.60,216.30L108.10,216.31L108.60,216.31L109.10,216.31L109.60,216.31L110.10,216.31L110.60,216.31L111.09,216.31L111.59,216.31L112.09,216.31L112.59,216.31L113.09,216.31L113.59,216.31L114.09,216.32L114.59,216.32L115.09,216.32L115.58,216.32L116.08,216.32L116.58,216.32L117.08,216.33L117.58,216.33L118.08,216.33L118.58,216.33L119.08,216.34L119.58,216.34L120.07,216.35L120.57,216.35L121.07,216.35L121.57,216.36L122.07,216.36L122.57,216.37L123.07,216.38L123.57,216.39L124.07,216.39L124.56,216.40L125.06,216.41L125.56,216.42L126.06,216.43L126.56,216.45L127.06,216.46L127.56,216.48L128.06,216.49L128.56,216.51L129.05,216.53L129.55,216.55L130.05,216.57L130.55,216.60L131.05,216.63L131.55,216.66L132.05,216.69L132.55,216.73L133.04,216.77L133.54,216.81L134.04,216.86L134.54,216.91L135.04,216.97L135.54,217.03L136.04,217.10L136.54,217.17L137.04,217.25L137.53,217.34L138.03,217.43L138.53,217.53L139.03,217.64L139.53,217.76L140.03,217.89L140.53,218.03L141.03,218.18L141.53,218.35L142.02,218.52L142.52,218.71L143.02,218.92L143.52,219.13L144.02,219.37L144.52,219.62L145.02,219.89L145.52,220.17L146.02,220.47L146.51,220.80L147.01,221.14L147.51,221.49L148.01,221.87L148.51,222.27L149.01,222.68L149.51,223.11L150.01,223.56L150.51,224.03L151.00,224.51L151.50,225.00L152.00,225.50L152.50,226.02L153.00,226.54" fill="none" stroke="#ef8a35" stroke-width="1.45"/>
<path d="M64.20,214.00L66.39,217.91L62.02,217.91Z" fill="#ef8a35"/>
<path d="M72.50,214.00L74.69,217.91L70.31,217.91Z" fill="#ef8a35"/>
<path d="M80.80,214.00L82.98,217.91L78.61,217.91Z" fill="#ef8a35"/>
<path d="M89.10,214.00L91.28,217.91L86.91,217.91Z" fill="#ef8a35"/>
<path d="M97.30,214.00L99.48,217.91L95.11,217.91Z" fill="#ef8a35"/>
<path d="M105.50,214.00L107.69,217.91L103.31,217.91Z" fill="#ef8a35"/>
<path d="M113.20,210.80L115.39,214.71L111.02,214.71Z" fill="#ef8a35"/>
<path d="M121.00,214.00L123.19,217.91L118.81,217.91Z" fill="#ef8a35"/>
<path d="M128.80,214.70L130.99,218.61L126.62,218.61Z" fill="#ef8a35"/>
<path d="M136.60,216.20L138.78,220.11L134.41,220.11Z" fill="#ef8a35"/>
<path d="M144.60,219.20L146.78,223.11L142.41,223.11Z" fill="#ef8a35"/>
<path d="M153.00,224.00L155.19,227.91L150.81,227.91Z" fill="#ef8a35"/>
<path d="M64.20,217.51L64.70,217.51L65.20,217.51L65.70,217.51L66.20,217.51L66.69,217.51L67.19,217.51L67.69,217.51L68.19,217.52L68.69,217.52L69.19,217.52L69.69,217.52L70.19,217.52L70.69,217.52L71.18,217.53L71.68,217.53L72.18,217.53L72.68,217.53L73.18,217.54L73.68,217.54L74.18,217.54L74.68,217.55L75.18,217.55L75.67,217.56L76.17,217.56L76.67,217.57L77.17,217.57L77.67,217.58L78.17,217.59L78.67,217.59L79.17,217.60L79.67,217.61L80.16,217.62L80.66,217.63L81.16,217.64L81.66,217.65L82.16,217.67L82.66,217.68L83.16,217.70L83.66,217.71L84.16,217.73L84.65,217.75L85.15,217.77L85.65,217.80L86.15,217.82L86.65,217.85L87.15,217.88L87.65,217.91L88.15,217.95L88.64,217.99L89.14,218.03L89.64,218.07L90.14,218.12L90.64,218.18L91.14,218.24L91.64,218.30L92.14,218.37L92.64,218.44L93.13,218.52L93.63,218.61L94.13,218.70L94.63,218.80L95.13,218.92L95.63,219.04L96.13,219.17L96.63,219.31L97.13,219.46L97.62,219.62L98.12,219.80L98.62,219.99L99.12,220.20L99.62,220.43L100.12,220.67L100.62,220.93L101.12,221.21L101.62,221.52L102.11,221.84L102.61,222.20L103.11,222.57L103.61,222.98L104.11,223.41L104.61,223.88L105.11,224.38L105.61,224.91L106.11,225.49L106.60,226.09L107.10,226.74L107.60,227.43L108.10,228.16L108.60,228.94L109.10,229.76L109.60,230.63L110.10,231.54L110.60,232.50L111.09,233.51L111.59,234.56L112.09,235.66L112.59,236.81L113.09,238.00L113.59,239.23L114.09,240.50L114.59,241.82L115.09,243.16L115.58,244.54L116.08,245.95L116.58,247.37L117.08,248.82L117.58,250.28L118.08,251.75L118.58,253.23L119.08,254.70L119.58,256.17L120.07,257.63L120.57,259.07L121.07,260.49L121.57,261.89L122.07,263.26L122.57,264.60L123.07,265.90L123.57,267.16L124.07,268.38L124.56,269.55L125.06,270.69L125.56,271.77L126.06,272.81L126.56,273.80L127.06,274.75L127.56,275.65L128.06,276.50L128.56,277.31L129.05,278.07L129.55,278.79L130.05,279.46L130.55,280.10L131.05,280.70L131.55,281.25L132.05,281.78L132.55,282.27L133.04,282.72L133.54,283.15L134.04,283.55L134.54,283.92L135.04,284.26L135.54,284.58L136.04,284.88L136.54,285.15L137.04,285.41L137.53,285.64L138.03,285.86L138.53,286.07L139.03,286.26L139.53,286.43L140.03,286.59L140.53,286.74L141.03,286.88L141.53,287.00L142.02,287.12L142.52,287.23L143.02,287.33L143.52,287.42L144.02,287.50L144.52,287.58L145.02,287.66L145.52,287.72L146.02,287.78L146.51,287.84L147.01,287.89L147.51,287.94L148.01,287.98L148.51,288.03L149.01,288.06L149.51,288.10L150.01,288.13L150.51,288.16L151.00,288.19L151.50,288.21L152.00,288.23L152.50,288.26L153.00,288.27" fill="none" stroke="#a9cbef" stroke-width="1.45"/>
<path d="M64.20,214.60L66.60,217.00L64.20,219.40L61.80,217.00Z" fill="#a9cbef"/>
<path d="M72.50,215.10L74.90,217.50L72.50,219.90L70.10,217.50Z" fill="#a9cbef"/>
<path d="M80.80,215.60L83.20,218.00L80.80,220.40L78.40,218.00Z" fill="#a9cbef"/>
<path d="M89.10,216.60L91.50,219.00L89.10,221.40L86.70,219.00Z" fill="#a9cbef"/>
<path d="M97.30,220.60L99.70,223.00L97.30,225.40L94.90,223.00Z" fill="#a9cbef"/>
<path d="M105.50,236.40L107.90,238.80L105.50,241.20L103.10,238.80Z" fill="#a9cbef"/>
<path d="M113.20,240.30L115.60,242.70L113.20,245.10L110.80,242.70Z" fill="#a9cbef"/>
<path d="M121.00,254.60L123.40,257.00L121.00,259.40L118.60,257.00Z" fill="#a9cbef"/>
<path d="M128.80,268.60L131.20,271.00L128.80,273.40L126.40,271.00Z" fill="#a9cbef"/>
<path d="M136.60,278.10L139.00,280.50L136.60,282.90L134.20,280.50Z" fill="#a9cbef"/>
<path d="M144.60,282.60L147.00,285.00L144.60,287.40L142.20,285.00Z" fill="#a9cbef"/>
<path d="M153.00,285.10L155.40,287.50L153.00,289.90L150.60,287.50Z" fill="#a9cbef"/>
<path d="M64.20,214.38L64.70,214.39L65.20,214.39L65.70,214.40L66.20,214.40L66.69,214.41L67.19,214.42L67.69,214.42L68.19,214.43L68.69,214.44L69.19,214.45L69.69,214.46L70.19,214.47L70.69,214.48L71.18,214.49L71.68,214.50L72.18,214.51L72.68,214.53L73.18,214.54L73.68,214.55L74.18,214.57L74.68,214.59L75.18,214.61L75.67,214.63L76.17,214.65L76.67,214.67L77.17,214.69L77.67,214.72L78.17,214.74L78.67,214.77L79.17,214.80L79.67,214.83L80.16,214.87L80.66,214.90L81.16,214.94L81.66,214.98L82.16,215.02L82.66,215.07L83.16,215.12L83.66,215.17L84.16,215.22L84.65,215.28L85.15,215.34L85.65,215.41L86.15,215.48L86.65,215.55L87.15,215.63L87.65,215.72L88.15,215.81L88.64,215.90L89.14,216.00L89.64,216.11L90.14,216.22L90.64,216.34L91.14,216.46L91.64,216.60L92.14,216.74L92.64,216.89L93.13,217.05L93.63,217.22L94.13,217.40L94.63,217.59L95.13,217.79L95.63,218.00L96.13,218.23L96.63,218.47L97.13,218.72L97.62,218.98L98.12,219.26L98.62,219.56L99.12,219.87L99.62,220.20L100.12,220.54L100.62,220.91L101.12,221.29L101.62,221.70L102.11,222.12L102.61,222.56L103.11,223.03L103.61,223.52L104.11,224.03L104.61,224.57L105.11,225.13L105.61,225.72L106.11,226.33L106.60,226.97L107.10,227.63L107.60,228.33L108.10,229.04L108.60,229.79L109.10,230.56L109.60,231.36L110.10,232.19L110.60,233.04L111.09,233.92L111.59,234.83L112.09,235.76L112.59,236.72L113.09,237.70L113.59,238.70L114.09,239.72L114.59,240.76L115.09,241.82L115.58,242.90L116.08,243.99L116.58,245.09L117.08,246.21L117.58,247.33L118.08,248.46L118.58,249.59L119.08,250.73L119.58,251.87L120.07,253.01L120.57,254.14L121.07,255.26L121.57,256.38L122.07,257.49L122.57,258.59L123.07,259.67L123.57,260.73L124.07,261.78L124.56,262.81L125.06,263.81L125.56,264.80L126.06,265.76L126.56,266.70L127.06,267.62L127.56,268.50L128.06,269.37L128.56,270.20L129.05,271.01L129.55,271.79L130.05,272.55L130.55,273.27L131.05,273.97L131.55,274.65L132.05,275.29L132.55,275.91L133.04,276.51L133.54,277.08L134.04,277.62L134.54,278.14L135.04,278.64L135.54,279.11L136.04,279.56L136.54,279.99L137.04,280.40L137.53,280.79L138.03,281.16L138.53,281.52L139.03,281.85L139.53,282.17L140.03,282.47L140.53,282.75L141.03,283.02L141.53,283.28L142.02,283.52L142.52,283.75L143.02,283.96L143.52,284.17L144.02,284.36L144.52,284.54L145.02,284.72L145.52,284.88L146.02,285.03L146.51,285.18L147.01,285.31L147.51,285.44L148.01,285.57L148.51,285.68L149.01,285.79L149.51,285.89L150.01,285.99L150.51,286.08L151.00,286.16L151.50,286.24L152.00,286.32L152.50,286.39L153.00,286.46" fill="none" stroke="#e3202b" stroke-width="1.45"/>
<path d="M64.20,213.30L66.60,215.70L64.20,218.10L61.80,215.70Z" fill="#e3202b"/>
<path d="M72.50,212.10L74.90,214.50L72.50,216.90L70.10,214.50Z" fill="#e3202b"/>
<path d="M80.80,212.60L83.20,215.00L80.80,217.40L78.40,215.00Z" fill="#e3202b"/>
<path d="M89.10,213.60L91.50,216.00L89.10,218.40L86.70,216.00Z" fill="#e3202b"/>
<path d="M97.30,215.10L99.70,217.50L97.30,219.90L94.90,217.50Z" fill="#e3202b"/>
<path d="M105.50,221.60L107.90,224.00L105.50,226.40L103.10,224.00Z" fill="#e3202b"/>
<path d="M113.20,237.60L115.60,240.00L113.20,242.40L110.80,240.00Z" fill="#e3202b"/>
<path d="M121.00,252.60L123.40,255.00L121.00,257.40L118.60,255.00Z" fill="#e3202b"/>
<path d="M128.80,267.60L131.20,270.00L128.80,272.40L126.40,270.00Z" fill="#e3202b"/>
<path d="M136.60,277.10L139.00,279.50L136.60,281.90L134.20,279.50Z" fill="#e3202b"/>
<path d="M144.60,282.10L147.00,284.50L144.60,286.90L142.20,284.50Z" fill="#e3202b"/>
<path d="M153.00,284.80L155.40,287.20L153.00,289.60L150.60,287.20Z" fill="#e3202b"/>
<path d="M64.20,218.97L64.70,218.97L65.20,218.98L65.70,218.98L66.20,218.99L66.69,219.00L67.19,219.00L67.69,219.01L68.19,219.02L68.69,219.03L69.19,219.04L69.69,219.05L70.19,219.06L70.69,219.07L71.18,219.08L71.68,219.09L72.18,219.11L72.68,219.13L73.18,219.14L73.68,219.16L74.18,219.18L74.68,219.20L75.18,219.22L75.67,219.25L76.17,219.28L76.67,219.30L77.17,219.34L77.67,219.37L78.17,219.40L78.67,219.44L79.17,219.49L79.67,219.53L80.16,219.58L80.66,219.63L81.16,219.69L81.66,219.75L82.16,219.81L82.66,219.88L83.16,219.96L83.66,220.04L84.16,220.12L84.65,220.22L85.15,220.32L85.65,220.43L86.15,220.54L86.65,220.67L87.15,220.80L87.65,220.94L88.15,221.10L88.64,221.26L89.14,221.44L89.64,221.63L90.14,221.84L90.64,222.05L91.14,222.29L91.64,222.54L92.14,222.81L92.64,223.10L93.13,223.40L93.63,223.73L94.13,224.08L94.63,224.45L95.13,224.85L95.63,225.27L96.13,225.72L96.63,226.20L97.13,226.71L97.62,227.24L98.12,227.81L98.62,228.42L99.12,229.05L99.62,229.73L100.12,230.43L100.62,231.18L101.12,231.96L101.62,232.78L102.11,233.64L102.61,234.54L103.11,235.47L103.61,236.45L104.11,237.46L104.61,238.51L105.11,239.59L105.61,240.71L106.11,241.86L106.60,243.04L107.10,244.25L107.60,245.49L108.10,246.75L108.60,248.03L109.10,249.33L109.60,250.64L110.10,251.96L110.60,253.29L111.09,254.62L111.59,255.94L112.09,257.27L112.59,258.59L113.09,259.89L113.59,261.18L114.09,262.45L114.59,263.70L115.09,264.92L115.58,266.11L116.08,267.28L116.58,268.41L117.08,269.51L117.58,270.58L118.08,271.61L118.58,272.60L119.08,273.55L119.58,274.47L120.07,275.34L120.57,276.18L121.07,276.98L121.57,277.74L122.07,278.47L122.57,279.16L123.07,279.81L123.57,280.43L124.07,281.01L124.56,281.56L125.06,282.09L125.56,282.58L126.06,283.04L126.56,283.48L127.06,283.88L127.56,284.27L128.06,284.63L128.56,284.97L129.05,285.28L129.55,285.58L130.05,285.85L130.55,286.11L131.05,286.36L131.55,286.58L132.05,286.79L132.55,286.99L133.04,287.17L133.54,287.34L134.04,287.50L134.54,287.65L135.04,287.79L135.54,287.92L136.04,288.04L136.54,288.15L137.04,288.25L137.53,288.35L138.03,288.44L138.53,288.52L139.03,288.60L139.53,288.67L140.03,288.74L140.53,288.80L141.03,288.86L141.53,288.91L142.02,288.96L142.52,289.01L143.02,289.05L143.52,289.09L144.02,289.13L144.52,289.17L145.02,289.20L145.52,289.23L146.02,289.25L146.51,289.28L147.01,289.30L147.51,289.33L148.01,289.35L148.51,289.37L149.01,289.38L149.51,289.40L150.01,289.41L150.51,289.43L151.00,289.44L151.50,289.45L152.00,289.47L152.50,289.48L153.00,289.49" fill="none" stroke="#1c1cb0" stroke-width="1.45"/>
<circle cx="64.20" cy="219.00" r="2.25" fill="#1c1cb0"/>
<circle cx="72.50" cy="219.00" r="2.25" fill="#1c1cb0"/>
<circle cx="80.80" cy="219.50" r="2.25" fill="#1c1cb0"/>
<circle cx="89.10" cy="221.00" r="2.25" fill="#1c1cb0"/>
<circle cx="97.30" cy="228.00" r="2.25" fill="#1c1cb0"/>
<circle cx="105.50" cy="240.00" r="2.25" fill="#1c1cb0"/>
<circle cx="113.20" cy="260.00" r="2.25" fill="#1c1cb0"/>
<circle cx="121.00" cy="277.00" r="2.25" fill="#1c1cb0"/>
<circle cx="128.80" cy="285.50" r="2.25" fill="#1c1cb0"/>
<circle cx="136.60" cy="288.50" r="2.25" fill="#1c1cb0"/>
<circle cx="144.60" cy="289.00" r="2.25" fill="#1c1cb0"/>
<circle cx="153.00" cy="289.00" r="2.25" fill="#1c1cb0"/>
<path d="M64.20,224.37L64.70,224.37L65.20,224.37L65.70,224.37L66.20,224.37L66.69,224.38L67.19,224.38L67.69,224.38L68.19,224.39L68.69,224.39L69.19,224.40L69.69,224.40L70.19,224.41L70.69,224.41L71.18,224.42L71.68,224.42L72.18,224.43L72.68,224.44L73.18,224.45L73.68,224.46L74.18,224.47L74.68,224.48L75.18,224.49L75.67,224.51L76.17,224.52L76.67,224.54L77.17,224.56L77.67,224.58L78.17,224.60L78.67,224.63L79.17,224.65L79.67,224.68L80.16,224.71L80.66,224.75L81.16,224.79L81.66,224.83L82.16,224.87L82.66,224.92L83.16,224.98L83.66,225.04L84.16,225.10L84.65,225.17L85.15,225.25L85.65,225.34L86.15,225.43L86.65,225.53L87.15,225.64L87.65,225.76L88.15,225.89L88.64,226.04L89.14,226.19L89.64,226.36L90.14,226.55L90.64,226.75L91.14,226.97L91.64,227.21L92.14,227.47L92.64,227.75L93.13,228.05L93.63,228.39L94.13,228.74L94.63,229.13L95.13,229.55L95.63,230.00L96.13,230.49L96.63,231.01L97.13,231.58L97.62,232.18L98.12,232.83L98.62,233.52L99.12,234.26L99.62,235.05L100.12,235.88L100.62,236.77L101.12,237.71L101.62,238.70L102.11,239.74L102.61,240.83L103.11,241.97L103.61,243.16L104.11,244.40L104.61,245.68L105.11,247.00L105.61,248.35L106.11,249.74L106.60,251.16L107.10,252.60L107.60,254.06L108.10,255.52L108.60,256.99L109.10,258.47L109.60,259.93L110.10,261.38L110.60,262.82L111.09,264.22L111.59,265.60L112.09,266.95L112.59,268.26L113.09,269.53L113.59,270.75L114.09,271.93L114.59,273.05L115.09,274.13L115.58,275.16L116.08,276.13L116.58,277.05L117.08,277.93L117.58,278.75L118.08,279.52L118.58,280.25L119.08,280.92L119.58,281.56L120.07,282.15L120.57,282.70L121.07,283.22L121.57,283.69L122.07,284.13L122.57,284.54L123.07,284.92L123.57,285.27L124.07,285.59L124.56,285.89L125.06,286.17L125.56,286.42L126.06,286.65L126.56,286.87L127.06,287.06L127.56,287.25L128.06,287.41L128.56,287.56L129.05,287.70L129.55,287.83L130.05,287.95L130.55,288.06L131.05,288.16L131.55,288.25L132.05,288.33L132.55,288.40L133.04,288.47L133.54,288.54L134.04,288.60L134.54,288.65L135.04,288.70L135.54,288.74L136.04,288.78L136.54,288.82L137.04,288.85L137.53,288.88L138.03,288.91L138.53,288.94L139.03,288.96L139.53,288.98L140.03,289.00L140.53,289.02L141.03,289.04L141.53,289.05L142.02,289.07L142.52,289.08L143.02,289.09L143.52,289.10L144.02,289.11L144.52,289.12L145.02,289.13L145.52,289.14L146.02,289.14L146.51,289.15L147.01,289.15L147.51,289.16L148.01,289.16L148.51,289.17L149.01,289.17L149.51,289.18L150.01,289.18L150.51,289.18L151.00,289.18L151.50,289.19L152.00,289.19L152.50,289.19L153.00,289.19" fill="none" stroke="#7d2fb8" stroke-width="1.45"/>
<circle cx="64.20" cy="221.50" r="2.30" fill="none" stroke="#7d2fb8" stroke-width="1.20"/>
<circle cx="72.50" cy="226.50" r="2.30" fill="none" stroke="#7d2fb8" stroke-width="1.20"/>
<circle cx="80.80" cy="225.50" r="2.30" fill="none" stroke="#7d2fb8" stroke-width="1.20"/>
<circle cx="89.10" cy="226.50" r="2.30" fill="none" stroke="#7d2fb8" stroke-width="1.20"/>
<circle cx="97.30" cy="231.50" r="2.30" fill="none" stroke="#7d2fb8" stroke-width="1.20"/>
<circle cx="105.50" cy="248.00" r="2.30" fill="none" stroke="#7d2fb8" stroke-width="1.20"/>
<circle cx="113.20" cy="270.00" r="2.30" fill="none" stroke="#7d2fb8" stroke-width="1.20"/>
<circle cx="121.00" cy="283.00" r="2.30" fill="none" stroke="#7d2fb8" stroke-width="1.20"/>
<circle cx="128.80" cy="287.50" r="2.30" fill="none" stroke="#7d2fb8" stroke-width="1.20"/>
<circle cx="136.60" cy="289.00" r="2.30" fill="none" stroke="#7d2fb8" stroke-width="1.20"/>
<circle cx="144.60" cy="289.00" r="2.30" fill="none" stroke="#7d2fb8" stroke-width="1.20"/>
<circle cx="153.00" cy="289.30" r="2.30" fill="none" stroke="#7d2fb8" stroke-width="1.20"/>
<line x1="39.5" y1="235.3" x2="50.2" y2="235.3" stroke="#7d2fb8" stroke-width="1.6"/>
<circle cx="44.85" cy="235.30" r="1.95" fill="#fff" stroke="#7d2fb8" stroke-width="1.02"/>
<text x="53.90" y="238.03" font-size="7.59" fill="#1e1e1e" stroke="#1e1e1e" stroke-width="0.2">AM1</text>
<line x1="39.5" y1="245.5" x2="50.2" y2="245.5" stroke="#1c1cb0" stroke-width="1.6"/>
<circle cx="44.85" cy="245.50" r="1.91" fill="#1c1cb0"/>
<text x="53.90" y="248.23" font-size="7.59" fill="#1e1e1e" stroke="#1e1e1e" stroke-width="0.2">ABBV-221</text>
<line x1="39.5" y1="255.7" x2="50.2" y2="255.7" stroke="#a9cbef" stroke-width="1.6"/>
<path d="M44.85,253.66L46.89,255.70L44.85,257.74L42.81,255.70Z" fill="#a9cbef"/>
<text x="53.90" y="258.43" font-size="7.59" fill="#1e1e1e" stroke="#1e1e1e" stroke-width="0.2">ABT-806</text>
<line x1="39.5" y1="265.9" x2="50.2" y2="265.9" stroke="#e3202b" stroke-width="1.6"/>
<path d="M44.85,263.86L46.89,265.90L44.85,267.94L42.81,265.90Z" fill="#e3202b"/>
<text x="53.90" y="268.63" font-size="7.59" fill="#1e1e1e" stroke="#1e1e1e" stroke-width="0.2">Depatux-m</text>
<line x1="39.5" y1="276.1" x2="50.2" y2="276.1" stroke="#ef8a35" stroke-width="1.6"/>
<path d="M44.85,274.15L46.71,277.47L42.99,277.47Z" fill="#ef8a35"/>
<text x="53.90" y="278.83" font-size="7.59" fill="#1e1e1e" stroke="#1e1e1e" stroke-width="0.2">Cetuximab</text>
<line x1="39.5" y1="286.3" x2="50.2" y2="286.3" stroke="#2b8a2b" stroke-width="1.6"/>
<path d="M44.85,288.25L46.71,284.93L42.99,284.93Z" fill="#2b8a2b"/>
<text x="53.90" y="289.03" font-size="7.59" fill="#1e1e1e" stroke="#1e1e1e" stroke-width="0.2">hIgG</text>
<text x="173.30" y="191.80" font-size="13.0" font-weight="bold" fill="#111" stroke="#111" stroke-width="0.22">E</text>
<text x="190.40" y="191.80" font-size="10.0" font-weight="bold" textLength="47.40" lengthAdjust="spacingAndGlyphs" fill="#111" stroke="#111" stroke-width="0.22">A431 Cells</text>
<line x1="204.7" y1="205.0" x2="204.7" y2="294.40000000000003" stroke="#333333" stroke-width="1.3"/>
<line x1="202.1" y1="205.2" x2="204.7" y2="205.2" stroke="#333333" stroke-width="1.1"/>
<text x="200.90" y="207.28" font-size="6.72" font-weight="bold" text-anchor="end" fill="#222222" stroke="#222222" stroke-width="0.22">4,000</text>
<line x1="202.1" y1="227.4" x2="204.7" y2="227.4" stroke="#333333" stroke-width="1.1"/>
<text x="200.90" y="229.48" font-size="6.72" font-weight="bold" text-anchor="end" fill="#222222" stroke="#222222" stroke-width="0.22">3,000</text>
<line x1="202.1" y1="249.5" x2="204.7" y2="249.5" stroke="#333333" stroke-width="1.1"/>
<text x="200.90" y="251.58" font-size="6.72" font-weight="bold" text-anchor="end" fill="#222222" stroke="#222222" stroke-width="0.22">2,000</text>
<line x1="202.1" y1="271.7" x2="204.7" y2="271.7" stroke="#333333" stroke-width="1.1"/>
<text x="200.90" y="273.78" font-size="6.72" font-weight="bold" text-anchor="end" fill="#222222" stroke="#222222" stroke-width="0.22">1,000</text>
<line x1="202.1" y1="293.8" x2="204.7" y2="293.8" stroke="#333333" stroke-width="1.1"/>
<text x="200.90" y="295.88" font-size="6.72" font-weight="bold" text-anchor="end" fill="#222222" stroke="#222222" stroke-width="0.22">0</text>
<line x1="204.1" y1="293.8" x2="338.3" y2="293.8" stroke="#333333" stroke-width="1.3"/>
<line x1="205.4" y1="293.8" x2="205.4" y2="296.40000000000003" stroke="#333333" stroke-width="1.1"/>
<text transform="translate(206.60,302.40) rotate(-45)" font-size="6.41" font-weight="bold" text-anchor="end" fill="#222222" stroke="#222222" stroke-width="0.22">0.0001</text>
<line x1="221.95" y1="293.8" x2="221.95" y2="296.40000000000003" stroke="#333333" stroke-width="1.1"/>
<text transform="translate(223.15,302.40) rotate(-45)" font-size="6.41" font-weight="bold" text-anchor="end" fill="#222222" stroke="#222222" stroke-width="0.22">0.001</text>
<line x1="238.5" y1="293.8" x2="238.5" y2="296.40000000000003" stroke="#333333" stroke-width="1.1"/>
<text transform="translate(239.70,302.40) rotate(-45)" font-size="6.41" font-weight="bold" text-anchor="end" fill="#222222" stroke="#222222" stroke-width="0.22">0.01</text>
<line x1="255.05" y1="293.8" x2="255.05" y2="296.40000000000003" stroke="#333333" stroke-width="1.1"/>
<text transform="translate(256.25,302.40) rotate(-45)" font-size="6.41" font-weight="bold" text-anchor="end" fill="#222222" stroke="#222222" stroke-width="0.22">0.1</text>
<line x1="271.6" y1="293.8" x2="271.6" y2="296.40000000000003" stroke="#333333" stroke-width="1.1"/>
<text transform="translate(272.80,302.40) rotate(-45)" font-size="6.41" font-weight="bold" text-anchor="end" fill="#222222" stroke="#222222" stroke-width="0.22">1</text>
<line x1="288.15" y1="293.8" x2="288.15" y2="296.40000000000003" stroke="#333333" stroke-width="1.1"/>
<text transform="translate(290.55,302.04) rotate(-45)" font-size="6.41" font-weight="bold" text-anchor="end" fill="#222222" stroke="#222222" stroke-width="0.22">10</text>
<line x1="304.7" y1="293.8" x2="304.7" y2="296.40000000000003" stroke="#333333" stroke-width="1.1"/>
<text transform="translate(307.10,302.04) rotate(-45)" font-size="6.41" font-weight="bold" text-anchor="end" fill="#222222" stroke="#222222" stroke-width="0.22">100</text>
<line x1="321.25" y1="293.8" x2="321.25" y2="296.40000000000003" stroke="#333333" stroke-width="1.1"/>
<text transform="translate(323.65,302.04) rotate(-45)" font-size="6.41" font-weight="bold" text-anchor="end" fill="#222222" stroke="#222222" stroke-width="0.22">1,000</text>
<line x1="337.8" y1="293.8" x2="337.8" y2="296.40000000000003" stroke="#333333" stroke-width="1.1"/>
<text transform="translate(340.20,302.04) rotate(-45)" font-size="6.41" font-weight="bold" text-anchor="end" fill="#222222" stroke="#222222" stroke-width="0.22">10,000</text>
<text transform="translate(180.00,249.60) rotate(-90)" font-size="7.3" font-weight="bold" text-anchor="middle" fill="#111" stroke="#111" stroke-width="0.22">Geo mean</text>
<text x="239.60" y="325.60" font-size="8.0" font-weight="bold" textLength="62.30" lengthAdjust="spacingAndGlyphs" fill="#111" stroke="#111" stroke-width="0.22">Ab/ADC (nmol/L)</text>
<path d="M221.10,292.25L221.60,292.25L222.10,292.25L222.59,292.25L223.09,292.25L223.59,292.25L224.09,292.25L224.58,292.25L225.08,292.25L225.58,292.25L226.08,292.25L226.57,292.25L227.07,292.25L227.57,292.25L228.07,292.25L228.57,292.25L229.06,292.25L229.56,292.25L230.06,292.25L230.56,292.25L231.05,292.25L231.55,292.25L232.05,292.25L232.55,292.25L233.04,292.25L233.54,292.25L234.04,292.25L234.54,292.25L235.04,292.25L235.53,292.25L236.03,292.25L236.53,292.25L237.03,292.25L237.52,292.25L238.02,292.25L238.52,292.25L239.02,292.25L239.51,292.25L240.01,292.25L240.51,292.25L241.01,292.25L241.51,292.25L242.00,292.25L242.50,292.25L243.00,292.25L243.50,292.25L243.99,292.25L244.49,292.24L244.99,292.24L245.49,292.24L245.99,292.24L246.48,292.24L246.98,292.24L247.48,292.24L247.98,292.23L248.47,292.23L248.97,292.23L249.47,292.23L249.97,292.22L250.46,292.22L250.96,292.21L251.46,292.21L251.96,292.20L252.46,292.20L252.95,292.19L253.45,292.18L253.95,292.17L254.45,292.16L254.94,292.15L255.44,292.13L255.94,292.11L256.44,292.10L256.93,292.07L257.43,292.05L257.93,292.02L258.43,291.99L258.93,291.96L259.42,291.92L259.92,291.87L260.42,291.82L260.92,291.76L261.41,291.69L261.91,291.62L262.41,291.53L262.91,291.44L263.40,291.33L263.90,291.20L264.40,291.06L264.90,290.91L265.40,290.73L265.89,290.52L266.39,290.30L266.89,290.04L267.39,289.75L267.88,289.42L268.38,289.05L268.88,288.64L269.38,288.18L269.87,287.66L270.37,287.08L270.87,286.44L271.37,285.72L271.87,284.93L272.36,284.05L272.86,283.08L273.36,282.02L273.86,280.86L274.35,279.59L274.85,278.21L275.35,276.73L275.85,275.14L276.34,273.45L276.84,271.65L277.34,269.76L277.84,267.78L278.34,265.72L278.83,263.61L279.33,261.44L279.83,259.25L280.33,257.04L280.82,254.83L281.32,252.65L281.82,250.51L282.32,248.42L282.81,246.41L283.31,244.47L283.81,242.62L284.31,240.88L284.81,239.24L285.30,237.70L285.80,236.27L286.30,234.95L286.80,233.74L287.29,232.63L287.79,231.61L288.29,230.69L288.79,229.86L289.29,229.10L289.78,228.43L290.28,227.82L290.78,227.27L291.28,226.78L291.77,226.34L292.27,225.95L292.77,225.61L293.27,225.30L293.76,225.03L294.26,224.78L294.76,224.57L295.26,224.38L295.76,224.21L296.25,224.06L296.75,223.93L297.25,223.81L297.75,223.71L298.24,223.62L298.74,223.54L299.24,223.47L299.74,223.41L300.23,223.35L300.73,223.31L301.23,223.26L301.73,223.23L302.23,223.19L302.72,223.16L303.22,223.14L303.72,223.11L304.22,223.09L304.71,223.08L305.21,223.06L305.71,223.05L306.21,223.04L306.70,223.03L307.20,223.02L307.70,223.01" fill="none" stroke="#ef8a35" stroke-width="1.45"/>
<path d="M221.10,290.20L223.28,294.11L218.91,294.11Z" fill="#ef8a35"/>
<path d="M229.00,290.00L231.19,293.91L226.81,293.91Z" fill="#ef8a35"/>
<path d="M236.90,290.20L239.09,294.11L234.72,294.11Z" fill="#ef8a35"/>
<path d="M244.70,290.20L246.88,294.11L242.51,294.11Z" fill="#ef8a35"/>
<path d="M252.60,290.00L254.78,293.91L250.41,293.91Z" fill="#ef8a35"/>
<path d="M260.50,289.20L262.69,293.11L258.31,293.11Z" fill="#ef8a35"/>
<path d="M268.40,285.40L270.58,289.31L266.21,289.31Z" fill="#ef8a35"/>
<path d="M276.30,272.70L278.49,276.61L274.12,276.61Z" fill="#ef8a35"/>
<path d="M284.10,237.40L286.29,241.31L281.92,241.31Z" fill="#ef8a35"/>
<path d="M292.00,227.70L294.19,231.61L289.81,231.61Z" fill="#ef8a35"/>
<path d="M299.90,219.60L302.08,223.51L297.71,223.51Z" fill="#ef8a35"/>
<path d="M307.70,219.60L309.88,223.51L305.51,223.51Z" fill="#ef8a35"/>
<path d="M236.90,293.18L237.40,293.17L237.90,293.17L238.39,293.17L238.89,293.16L239.39,293.16L239.89,293.16L240.38,293.15L240.88,293.15L241.38,293.14L241.88,293.14L242.37,293.13L242.87,293.13L243.37,293.12L243.87,293.12L244.37,293.11L244.86,293.10L245.36,293.10L245.86,293.09L246.36,293.08L246.85,293.07L247.35,293.07L247.85,293.06L248.35,293.05L248.84,293.04L249.34,293.03L249.84,293.02L250.34,293.01L250.84,292.99L251.33,292.98L251.83,292.97L252.33,292.96L252.83,292.94L253.32,292.93L253.82,292.91L254.32,292.90L254.82,292.88L255.31,292.86L255.81,292.84L256.31,292.82L256.81,292.80L257.31,292.78L257.80,292.76L258.30,292.73L258.80,292.71L259.30,292.68L259.79,292.66L260.29,292.63L260.79,292.60L261.29,292.57L261.79,292.53L262.28,292.50L262.78,292.46L263.28,292.42L263.78,292.38L264.27,292.34L264.77,292.30L265.27,292.25L265.77,292.20L266.26,292.15L266.76,292.10L267.26,292.04L267.76,291.99L268.26,291.93L268.75,291.86L269.25,291.80L269.75,291.73L270.25,291.65L270.74,291.58L271.24,291.50L271.74,291.41L272.24,291.32L272.73,291.23L273.23,291.14L273.73,291.04L274.23,290.93L274.73,290.82L275.22,290.71L275.72,290.59L276.22,290.46L276.72,290.33L277.21,290.20L277.71,290.06L278.21,289.91L278.71,289.75L279.20,289.59L279.70,289.42L280.20,289.25L280.70,289.06L281.20,288.87L281.69,288.67L282.19,288.47L282.69,288.25L283.19,288.03L283.68,287.80L284.18,287.56L284.68,287.30L285.18,287.04L285.67,286.77L286.17,286.49L286.67,286.20L287.17,285.90L287.67,285.59L288.16,285.26L288.66,284.93L289.16,284.58L289.66,284.22L290.15,283.86L290.65,283.47L291.15,283.08L291.65,282.68L292.14,282.26L292.64,281.83L293.14,281.39L293.64,280.93L294.14,280.47L294.63,279.99L295.13,279.50L295.63,279.00L296.13,278.49L296.62,277.97L297.12,277.43L297.62,276.89L298.12,276.33L298.61,275.76L299.11,275.19L299.61,274.60L300.11,274.01L300.61,273.41L301.10,272.80L301.60,272.18L302.10,271.56L302.60,270.93L303.09,270.30L303.59,269.66L304.09,269.02L304.59,268.38L305.09,267.73L305.58,267.08L306.08,266.44L306.58,265.79L307.08,265.14L307.57,264.49L308.07,263.85L308.57,263.21L309.07,262.57L309.56,261.94L310.06,261.31L310.56,260.69L311.06,260.07L311.56,259.47L312.05,258.87L312.55,258.27L313.05,257.69L313.55,257.12L314.04,256.55L314.54,256.00L315.04,255.45L315.54,254.92L316.03,254.40L316.53,253.89L317.03,253.39L317.53,252.90L318.03,252.43L318.52,251.96L319.02,251.51L319.52,251.07L320.02,250.64L320.51,250.23L321.01,249.82L321.51,249.43L322.01,249.05L322.50,248.68L323.00,248.33L323.50,247.98" fill="none" stroke="#e3202b" stroke-width="1.45"/>
<path d="M236.90,290.40L239.30,292.80L236.90,295.20L234.50,292.80Z" fill="#e3202b"/>
<path d="M244.70,290.40L247.10,292.80L244.70,295.20L242.30,292.80Z" fill="#e3202b"/>
<path d="M252.60,290.40L255.00,292.80L252.60,295.20L250.20,292.80Z" fill="#e3202b"/>
<path d="M260.50,290.40L262.90,292.80L260.50,295.20L258.10,292.80Z" fill="#e3202b"/>
<path d="M268.40,289.90L270.80,292.30L268.40,294.70L266.00,292.30Z" fill="#e3202b"/>
<path d="M276.30,288.10L278.70,290.50L276.30,292.90L273.90,290.50Z" fill="#e3202b"/>
<path d="M284.10,286.10L286.50,288.50L284.10,290.90L281.70,288.50Z" fill="#e3202b"/>
<path d="M292.00,279.50L294.40,281.90L292.00,284.30L289.60,281.90Z" fill="#e3202b"/>
<path d="M299.90,271.00L302.30,273.40L299.90,275.80L297.50,273.40Z" fill="#e3202b"/>
<path d="M307.70,262.70L310.10,265.10L307.70,267.50L305.30,265.10Z" fill="#e3202b"/>
<path d="M315.60,252.50L318.00,254.90L315.60,257.30L313.20,254.90Z" fill="#e3202b"/>
<path d="M323.50,245.40L325.90,247.80L323.50,250.20L321.10,247.80Z" fill="#e3202b"/>
<path d="M236.90,293.19L237.40,293.19L237.90,293.19L238.39,293.19L238.89,293.19L239.39,293.18L239.89,293.18L240.38,293.18L240.88,293.18L241.38,293.17L241.88,293.17L242.37,293.17L242.87,293.16L243.37,293.16L243.87,293.16L244.37,293.15L244.86,293.15L245.36,293.14L245.86,293.14L246.36,293.13L246.85,293.12L247.35,293.12L247.85,293.11L248.35,293.10L248.84,293.10L249.34,293.09L249.84,293.08L250.34,293.07L250.84,293.06L251.33,293.05L251.83,293.04L252.33,293.02L252.83,293.01L253.32,293.00L253.82,292.98L254.32,292.97L254.82,292.95L255.31,292.93L255.81,292.91L256.31,292.89L256.81,292.87L257.31,292.84L257.80,292.82L258.30,292.79L258.80,292.76L259.30,292.73L259.79,292.70L260.29,292.66L260.79,292.63L261.29,292.59L261.79,292.54L262.28,292.50L262.78,292.45L263.28,292.40L263.78,292.34L264.27,292.28L264.77,292.22L265.27,292.15L265.77,292.08L266.26,292.01L266.76,291.93L267.26,291.84L267.76,291.75L268.26,291.65L268.75,291.55L269.25,291.44L269.75,291.32L270.25,291.19L270.74,291.06L271.24,290.92L271.74,290.76L272.24,290.60L272.73,290.43L273.23,290.25L273.73,290.05L274.23,289.85L274.73,289.63L275.22,289.40L275.72,289.15L276.22,288.89L276.72,288.61L277.21,288.32L277.71,288.01L278.21,287.68L278.71,287.33L279.20,286.96L279.70,286.57L280.20,286.16L280.70,285.72L281.20,285.26L281.69,284.78L282.19,284.26L282.69,283.73L283.19,283.16L283.68,282.57L284.18,281.94L284.68,281.29L285.18,280.60L285.67,279.88L286.17,279.13L286.67,278.34L287.17,277.52L287.67,276.67L288.16,275.78L288.66,274.86L289.16,273.90L289.66,272.91L290.15,271.89L290.65,270.83L291.15,269.73L291.65,268.61L292.14,267.46L292.64,266.27L293.14,265.06L293.64,263.82L294.14,262.56L294.63,261.28L295.13,259.97L295.63,258.65L296.13,257.31L296.62,255.96L297.12,254.60L297.62,253.23L298.12,251.86L298.61,250.49L299.11,249.12L299.61,247.75L300.11,246.40L300.61,245.05L301.10,243.72L301.60,242.40L302.10,241.10L302.60,239.82L303.09,238.56L303.59,237.33L304.09,236.13L304.59,234.95L305.09,233.81L305.58,232.69L306.08,231.61L306.58,230.56L307.08,229.54L307.57,228.56L308.07,227.61L308.57,226.70L309.07,225.82L309.56,224.98L310.06,224.17L310.56,223.39L311.06,222.65L311.56,221.94L312.05,221.26L312.55,220.61L313.05,220.00L313.55,219.41L314.04,218.85L314.54,218.32L315.04,217.82L315.54,217.34L316.03,216.88L316.53,216.45L317.03,216.05L317.53,215.66L318.03,215.30L318.52,214.96L319.02,214.63L319.52,214.32L320.02,214.04L320.51,213.76L321.01,213.50L321.51,213.26L322.01,213.03L322.50,212.82L323.00,212.62L323.50,212.43" fill="none" stroke="#7d2fb8" stroke-width="1.45"/>
<circle cx="236.90" cy="292.80" r="2.30" fill="none" stroke="#7d2fb8" stroke-width="1.20"/>
<circle cx="244.70" cy="292.80" r="2.30" fill="none" stroke="#7d2fb8" stroke-width="1.20"/>
<circle cx="252.60" cy="292.80" r="2.30" fill="none" stroke="#7d2fb8" stroke-width="1.20"/>
<circle cx="260.50" cy="292.80" r="2.30" fill="none" stroke="#7d2fb8" stroke-width="1.20"/>
<circle cx="268.40" cy="292.30" r="2.30" fill="none" stroke="#7d2fb8" stroke-width="1.20"/>
<circle cx="276.30" cy="288.90" r="2.30" fill="none" stroke="#7d2fb8" stroke-width="1.20"/>
<circle cx="284.10" cy="282.00" r="2.30" fill="none" stroke="#7d2fb8" stroke-width="1.20"/>
<circle cx="292.00" cy="268.50" r="2.30" fill="none" stroke="#7d2fb8" stroke-width="1.20"/>
<circle cx="299.90" cy="246.00" r="2.30" fill="none" stroke="#7d2fb8" stroke-width="1.20"/>
<circle cx="307.70" cy="227.70" r="2.30" fill="none" stroke="#7d2fb8" stroke-width="1.20"/>
<circle cx="315.60" cy="220.30" r="2.30" fill="none" stroke="#7d2fb8" stroke-width="1.20"/>
<circle cx="323.50" cy="210.40" r="2.30" fill="none" stroke="#7d2fb8" stroke-width="1.20"/>
<path d="M236.90,292.75L237.40,292.75L237.90,292.75L238.39,292.75L238.89,292.75L239.39,292.75L239.89,292.75L240.38,292.75L240.88,292.75L241.38,292.75L241.88,292.74L242.37,292.74L242.87,292.74L243.37,292.74L243.87,292.74L244.37,292.74L244.86,292.74L245.36,292.74L245.86,292.73L246.36,292.73L246.85,292.73L247.35,292.73L247.85,292.72L248.35,292.72L248.84,292.72L249.34,292.72L249.84,292.71L250.34,292.71L250.84,292.71L251.33,292.70L251.83,292.70L252.33,292.69L252.83,292.69L253.32,292.68L253.82,292.67L254.32,292.67L254.82,292.66L255.31,292.65L255.81,292.64L256.31,292.63L256.81,292.62L257.31,292.61L257.80,292.60L258.30,292.59L258.80,292.58L259.30,292.56L259.79,292.54L260.29,292.53L260.79,292.51L261.29,292.49L261.79,292.47L262.28,292.44L262.78,292.42L263.28,292.39L263.78,292.36L264.27,292.33L264.77,292.29L265.27,292.25L265.77,292.21L266.26,292.17L266.76,292.12L267.26,292.07L267.76,292.02L268.26,291.96L268.75,291.89L269.25,291.82L269.75,291.74L270.25,291.66L270.74,291.58L271.24,291.48L271.74,291.38L272.24,291.27L272.73,291.15L273.23,291.02L273.73,290.88L274.23,290.73L274.73,290.57L275.22,290.40L275.72,290.21L276.22,290.01L276.72,289.80L277.21,289.57L277.71,289.32L278.21,289.05L278.71,288.76L279.20,288.46L279.70,288.13L280.20,287.77L280.70,287.40L281.20,286.99L281.69,286.56L282.19,286.10L282.69,285.61L283.19,285.08L283.68,284.52L284.18,283.93L284.68,283.30L285.18,282.63L285.67,281.92L286.17,281.17L286.67,280.38L287.17,279.55L287.67,278.67L288.16,277.75L288.66,276.78L289.16,275.77L289.66,274.72L290.15,273.62L290.65,272.48L291.15,271.29L291.65,270.07L292.14,268.80L292.64,267.50L293.14,266.17L293.64,264.80L294.14,263.41L294.63,261.99L295.13,260.55L295.63,259.10L296.13,257.63L296.62,256.15L297.12,254.67L297.62,253.20L298.12,251.73L298.61,250.27L299.11,248.82L299.61,247.39L300.11,245.99L300.61,244.61L301.10,243.26L301.60,241.94L302.10,240.66L302.60,239.42L303.09,238.22L303.59,237.06L304.09,235.94L304.59,234.86L305.09,233.83L305.58,232.85L306.08,231.91L306.58,231.01L307.08,230.16L307.57,229.35L308.07,228.58L308.57,227.85L309.07,227.17L309.56,226.52L310.06,225.91L310.56,225.34L311.06,224.80L311.56,224.29L312.05,223.82L312.55,223.37L313.05,222.96L313.55,222.57L314.04,222.20L314.54,221.86L315.04,221.55L315.54,221.25L316.03,220.97L316.53,220.72L317.03,220.48L317.53,220.26L318.03,220.05L318.52,219.86L319.02,219.68L319.52,219.51L320.02,219.36L320.51,219.22L321.01,219.08L321.51,218.96L322.01,218.85L322.50,218.74L323.00,218.64L323.50,218.55" fill="none" stroke="#1c1cb0" stroke-width="1.45"/>
<circle cx="236.90" cy="292.80" r="2.25" fill="#1c1cb0"/>
<circle cx="244.70" cy="292.80" r="2.25" fill="#1c1cb0"/>
<circle cx="252.60" cy="292.80" r="2.25" fill="#1c1cb0"/>
<circle cx="260.50" cy="292.80" r="2.25" fill="#1c1cb0"/>
<circle cx="268.40" cy="292.30" r="2.25" fill="#1c1cb0"/>
<circle cx="276.30" cy="289.50" r="2.25" fill="#1c1cb0"/>
<circle cx="284.10" cy="283.10" r="2.25" fill="#1c1cb0"/>
<circle cx="292.00" cy="269.70" r="2.25" fill="#1c1cb0"/>
<circle cx="299.90" cy="247.30" r="2.25" fill="#1c1cb0"/>
<circle cx="307.70" cy="227.20" r="2.25" fill="#1c1cb0"/>
<circle cx="315.60" cy="223.00" r="2.25" fill="#1c1cb0"/>
<circle cx="323.50" cy="218.00" r="2.25" fill="#1c1cb0"/>
<line x1="210.2" y1="206.0" x2="220.2" y2="206.0" stroke="#ef8a35" stroke-width="1.6"/>
<path d="M215.20,204.04L217.06,207.37L213.34,207.37Z" fill="#ef8a35"/>
<text x="225.40" y="208.73" font-size="7.59" fill="#1e1e1e" stroke="#1e1e1e" stroke-width="0.2">Cetuximab</text>
<line x1="210.2" y1="216.3" x2="220.2" y2="216.3" stroke="#7d2fb8" stroke-width="1.6"/>
<circle cx="215.20" cy="216.30" r="1.95" fill="#fff" stroke="#7d2fb8" stroke-width="1.02"/>
<text x="225.40" y="219.03" font-size="7.59" fill="#1e1e1e" stroke="#1e1e1e" stroke-width="0.2">AM1</text>
<line x1="210.2" y1="226.6" x2="220.2" y2="226.6" stroke="#1c1cb0" stroke-width="1.6"/>
<circle cx="215.20" cy="226.60" r="1.91" fill="#1c1cb0"/>
<text x="225.40" y="229.33" font-size="7.59" fill="#1e1e1e" stroke="#1e1e1e" stroke-width="0.2">ABBV-221</text>
<line x1="210.2" y1="236.9" x2="220.2" y2="236.9" stroke="#e3202b" stroke-width="1.6"/>
<path d="M215.20,234.86L217.24,236.90L215.20,238.94L213.16,236.90Z" fill="#e3202b"/>
<text x="225.40" y="239.63" font-size="7.59" fill="#1e1e1e" stroke="#1e1e1e" stroke-width="0.2">Depatux-m</text>
<text x="343.50" y="191.80" font-size="13.0" font-weight="bold" fill="#111" stroke="#111" stroke-width="0.22">F</text>
<text x="358.20" y="191.80" font-size="10.0" font-weight="bold" textLength="56.60" lengthAdjust="spacingAndGlyphs" fill="#111" stroke="#111" stroke-width="0.22">HCT-15 Cells</text>
<line x1="376.7" y1="207.0" x2="376.7" y2="293.8" stroke="#333333" stroke-width="1.3"/>
<line x1="374.09999999999997" y1="207.0" x2="376.7" y2="207.0" stroke="#333333" stroke-width="1.1"/>
<text x="373.30" y="208.86" font-size="6.0" font-weight="bold" text-anchor="end" fill="#222222" stroke="#222222" stroke-width="0.22">200</text>
<line x1="374.09999999999997" y1="228.5" x2="376.7" y2="228.5" stroke="#333333" stroke-width="1.1"/>
<text x="373.30" y="230.36" font-size="6.0" font-weight="bold" text-anchor="end" fill="#222222" stroke="#222222" stroke-width="0.22">150</text>
<line x1="374.09999999999997" y1="250.1" x2="376.7" y2="250.1" stroke="#333333" stroke-width="1.1"/>
<text x="373.30" y="251.96" font-size="6.0" font-weight="bold" text-anchor="end" fill="#222222" stroke="#222222" stroke-width="0.22">100</text>
<line x1="374.09999999999997" y1="271.6" x2="376.7" y2="271.6" stroke="#333333" stroke-width="1.1"/>
<text x="373.30" y="273.46" font-size="6.0" font-weight="bold" text-anchor="end" fill="#222222" stroke="#222222" stroke-width="0.22">50</text>
<line x1="374.09999999999997" y1="293.2" x2="376.7" y2="293.2" stroke="#333333" stroke-width="1.1"/>
<text x="373.30" y="295.06" font-size="6.0" font-weight="bold" text-anchor="end" fill="#222222" stroke="#222222" stroke-width="0.22">0</text>
<line x1="376.09999999999997" y1="293.2" x2="507.8" y2="293.2" stroke="#333333" stroke-width="1.3"/>
<line x1="377.7" y1="293.2" x2="377.7" y2="295.8" stroke="#333333" stroke-width="1.1"/>
<text transform="translate(378.90,301.80) rotate(-45)" font-size="6.41" font-weight="bold" text-anchor="end" fill="#222222" stroke="#222222" stroke-width="0.22">0.0001</text>
<line x1="393.93" y1="293.2" x2="393.93" y2="295.8" stroke="#333333" stroke-width="1.1"/>
<text transform="translate(395.13,301.80) rotate(-45)" font-size="6.41" font-weight="bold" text-anchor="end" fill="#222222" stroke="#222222" stroke-width="0.22">0.001</text>
<line x1="410.16" y1="293.2" x2="410.16" y2="295.8" stroke="#333333" stroke-width="1.1"/>
<text transform="translate(411.36,301.80) rotate(-45)" font-size="6.41" font-weight="bold" text-anchor="end" fill="#222222" stroke="#222222" stroke-width="0.22">0.01</text>
<line x1="426.39" y1="293.2" x2="426.39" y2="295.8" stroke="#333333" stroke-width="1.1"/>
<text transform="translate(427.59,301.80) rotate(-45)" font-size="6.41" font-weight="bold" text-anchor="end" fill="#222222" stroke="#222222" stroke-width="0.22">0.1</text>
<line x1="442.62" y1="293.2" x2="442.62" y2="295.8" stroke="#333333" stroke-width="1.1"/>
<text transform="translate(443.82,301.80) rotate(-45)" font-size="6.41" font-weight="bold" text-anchor="end" fill="#222222" stroke="#222222" stroke-width="0.22">1</text>
<line x1="458.85" y1="293.2" x2="458.85" y2="295.8" stroke="#333333" stroke-width="1.1"/>
<text transform="translate(461.25,301.44) rotate(-45)" font-size="6.41" font-weight="bold" text-anchor="end" fill="#222222" stroke="#222222" stroke-width="0.22">10</text>
<line x1="475.08" y1="293.2" x2="475.08" y2="295.8" stroke="#333333" stroke-width="1.1"/>
<text transform="translate(477.48,301.44) rotate(-45)" font-size="6.41" font-weight="bold" text-anchor="end" fill="#222222" stroke="#222222" stroke-width="0.22">100</text>
<line x1="491.31" y1="293.2" x2="491.31" y2="295.8" stroke="#333333" stroke-width="1.1"/>
<text transform="translate(493.71,301.44) rotate(-45)" font-size="6.41" font-weight="bold" text-anchor="end" fill="#222222" stroke="#222222" stroke-width="0.22">1,000</text>
<line x1="507.54" y1="293.2" x2="507.54" y2="295.8" stroke="#333333" stroke-width="1.1"/>
<text transform="translate(509.94,301.44) rotate(-45)" font-size="6.41" font-weight="bold" text-anchor="end" fill="#222222" stroke="#222222" stroke-width="0.22">10,000</text>
<text transform="translate(353.10,249.30) rotate(-90)" font-size="7.3" font-weight="bold" text-anchor="middle" fill="#111" stroke="#111" stroke-width="0.22">Geo mean</text>
<text x="411.00" y="324.60" font-size="8.0" font-weight="bold" textLength="62.00" lengthAdjust="spacingAndGlyphs" fill="#111" stroke="#111" stroke-width="0.22">Ab/ADC (nmol/L)</text>
<path d="M391.20,285.62L391.70,285.62L392.20,285.62L392.69,285.62L393.19,285.62L393.69,285.62L394.19,285.62L394.68,285.62L395.18,285.62L395.68,285.62L396.18,285.61L396.67,285.61L397.17,285.61L397.67,285.61L398.17,285.61L398.67,285.61L399.16,285.60L399.66,285.60L400.16,285.60L400.66,285.59L401.15,285.59L401.65,285.58L402.15,285.58L402.65,285.57L403.14,285.56L403.64,285.56L404.14,285.55L404.64,285.54L405.13,285.52L405.63,285.51L406.13,285.49L406.63,285.48L407.13,285.46L407.62,285.43L408.12,285.41L408.62,285.38L409.12,285.34L409.61,285.30L410.11,285.26L410.61,285.21L411.11,285.16L411.60,285.09L412.10,285.02L412.60,284.94L413.10,284.85L413.60,284.75L414.09,284.64L414.59,284.51L415.09,284.36L415.59,284.20L416.08,284.02L416.58,283.82L417.08,283.60L417.58,283.35L418.07,283.07L418.57,282.77L419.07,282.44L419.57,282.08L420.07,281.68L420.56,281.26L421.06,280.80L421.56,280.31L422.06,279.79L422.55,279.24L423.05,278.66L423.55,278.06L424.05,277.44L424.54,276.80L425.04,276.15L425.54,275.50L426.04,274.85L426.53,274.20L427.03,273.56L427.53,272.94L428.03,272.33L428.53,271.76L429.02,271.20L429.52,270.68L430.02,270.19L430.52,269.73L431.01,269.30L431.51,268.90L432.01,268.54L432.51,268.21L433.00,267.90L433.50,267.63L434.00,267.38L434.50,267.15L435.00,266.95L435.49,266.77L435.99,266.61L436.49,266.46L436.99,266.33L437.48,266.22L437.98,266.11L438.48,266.02L438.98,265.94L439.47,265.87L439.97,265.81L440.47,265.75L440.97,265.70L441.47,265.66L441.96,265.62L442.46,265.59L442.96,265.56L443.46,265.53L443.95,265.51L444.45,265.49L444.95,265.47L445.45,265.45L445.94,265.44L446.44,265.43L446.94,265.42L447.44,265.41L447.93,265.40L448.43,265.39L448.93,265.38L449.43,265.38L449.93,265.37L450.42,265.37L450.92,265.37L451.42,265.36L451.92,265.36L452.41,265.36L452.91,265.35L453.41,265.35L453.91,265.35L454.40,265.35L454.90,265.35L455.40,265.35L455.90,265.34L456.40,265.34L456.89,265.34L457.39,265.34L457.89,265.34L458.39,265.34L458.88,265.34L459.38,265.34L459.88,265.34L460.38,265.34L460.87,265.34L461.37,265.34L461.87,265.34L462.37,265.34L462.87,265.34L463.36,265.34L463.86,265.34L464.36,265.34L464.86,265.34L465.35,265.34L465.85,265.34L466.35,265.34L466.85,265.34L467.34,265.34L467.84,265.34L468.34,265.34L468.84,265.34L469.33,265.34L469.83,265.34L470.33,265.34L470.83,265.34L471.33,265.34L471.82,265.34L472.32,265.34L472.82,265.34L473.32,265.34L473.81,265.34L474.31,265.34L474.81,265.34L475.31,265.34L475.80,265.34L476.30,265.34L476.80,265.34" fill="none" stroke="#ef8a35" stroke-width="1.45"/>
<path d="M391.20,283.10L393.38,287.01L389.01,287.01Z" fill="#ef8a35"/>
<path d="M399.40,283.10L401.58,287.01L397.21,287.01Z" fill="#ef8a35"/>
<path d="M407.50,283.10L409.69,287.01L405.31,287.01Z" fill="#ef8a35"/>
<path d="M415.50,282.70L417.69,286.61L413.31,286.61Z" fill="#ef8a35"/>
<path d="M422.60,276.40L424.79,280.31L420.42,280.31Z" fill="#ef8a35"/>
<path d="M430.30,268.00L432.49,271.91L428.12,271.91Z" fill="#ef8a35"/>
<path d="M438.10,263.60L440.29,267.51L435.92,267.51Z" fill="#ef8a35"/>
<path d="M445.80,262.70L447.99,266.61L443.62,266.61Z" fill="#ef8a35"/>
<path d="M453.60,262.70L455.79,266.61L451.42,266.61Z" fill="#ef8a35"/>
<path d="M461.30,262.70L463.49,266.61L459.12,266.61Z" fill="#ef8a35"/>
<path d="M469.00,262.90L471.19,266.81L466.81,266.81Z" fill="#ef8a35"/>
<path d="M476.80,264.30L478.99,268.21L474.62,268.21Z" fill="#ef8a35"/>
<path d="M408.20,285.48L408.70,285.48L409.20,285.48L409.69,285.48L410.19,285.47L410.69,285.47L411.19,285.47L411.69,285.47L412.19,285.47L412.68,285.47L413.18,285.46L413.68,285.46L414.18,285.46L414.68,285.46L415.18,285.46L415.67,285.46L416.17,285.45L416.67,285.45L417.17,285.45L417.67,285.45L418.16,285.44L418.66,285.44L419.16,285.44L419.66,285.44L420.16,285.43L420.66,285.43L421.15,285.43L421.65,285.43L422.15,285.42L422.65,285.42L423.15,285.42L423.65,285.42L424.14,285.41L424.64,285.41L425.14,285.41L425.64,285.40L426.14,285.40L426.63,285.40L427.13,285.39L427.63,285.39L428.13,285.39L428.63,285.38L429.13,285.38L429.62,285.37L430.12,285.37L430.62,285.37L431.12,285.36L431.62,285.36L432.12,285.35L432.61,285.35L433.11,285.34L433.61,285.34L434.11,285.33L434.61,285.33L435.10,285.32L435.60,285.32L436.10,285.31L436.60,285.31L437.10,285.30L437.60,285.30L438.09,285.29L438.59,285.28L439.09,285.28L439.59,285.27L440.09,285.27L440.59,285.26L441.08,285.25L441.58,285.24L442.08,285.24L442.58,285.23L443.08,285.22L443.57,285.21L444.07,285.21L444.57,285.20L445.07,285.19L445.57,285.18L446.07,285.17L446.56,285.16L447.06,285.16L447.56,285.15L448.06,285.14L448.56,285.13L449.06,285.12L449.55,285.11L450.05,285.10L450.55,285.09L451.05,285.07L451.55,285.06L452.04,285.05L452.54,285.04L453.04,285.03L453.54,285.02L454.04,285.00L454.54,284.99L455.03,284.98L455.53,284.96L456.03,284.95L456.53,284.94L457.03,284.92L457.53,284.91L458.02,284.89L458.52,284.88L459.02,284.86L459.52,284.85L460.02,284.83L460.51,284.81L461.01,284.80L461.51,284.78L462.01,284.76L462.51,284.74L463.01,284.72L463.50,284.71L464.00,284.69L464.50,284.67L465.00,284.65L465.50,284.63L466.00,284.61L466.49,284.59L466.99,284.56L467.49,284.54L467.99,284.52L468.49,284.50L468.98,284.47L469.48,284.45L469.98,284.42L470.48,284.40L470.98,284.37L471.48,284.35L471.97,284.32L472.47,284.30L472.97,284.27L473.47,284.24L473.97,284.21L474.47,284.19L474.96,284.16L475.46,284.13L475.96,284.10L476.46,284.07L476.96,284.04L477.45,284.00L477.95,283.97L478.45,283.94L478.95,283.91L479.45,283.87L479.95,283.84L480.44,283.80L480.94,283.77L481.44,283.73L481.94,283.70L482.44,283.66L482.94,283.62L483.43,283.59L483.93,283.55L484.43,283.51L484.93,283.47L485.43,283.43L485.92,283.39L486.42,283.35L486.92,283.31L487.42,283.27L487.92,283.22L488.42,283.18L488.91,283.14L489.41,283.10L489.91,283.05L490.41,283.01L490.91,282.96L491.41,282.92L491.90,282.87L492.40,282.83L492.90,282.78" fill="none" stroke="#e3202b" stroke-width="1.45"/>
<path d="M408.20,283.00L410.60,285.40L408.20,287.80L405.80,285.40Z" fill="#e3202b"/>
<path d="M416.00,283.00L418.40,285.40L416.00,287.80L413.60,285.40Z" fill="#e3202b"/>
<path d="M423.70,283.00L426.10,285.40L423.70,287.80L421.30,285.40Z" fill="#e3202b"/>
<path d="M431.40,283.00L433.80,285.40L431.40,287.80L429.00,285.40Z" fill="#e3202b"/>
<path d="M439.20,283.00L441.60,285.40L439.20,287.80L436.80,285.40Z" fill="#e3202b"/>
<path d="M446.90,282.90L449.30,285.30L446.90,287.70L444.50,285.30Z" fill="#e3202b"/>
<path d="M454.70,282.60L457.10,285.00L454.70,287.40L452.30,285.00Z" fill="#e3202b"/>
<path d="M462.40,282.20L464.80,284.60L462.40,287.00L460.00,284.60Z" fill="#e3202b"/>
<path d="M470.10,281.90L472.50,284.30L470.10,286.70L467.70,284.30Z" fill="#e3202b"/>
<path d="M477.40,281.60L479.80,284.00L477.40,286.40L475.00,284.00Z" fill="#e3202b"/>
<path d="M485.60,281.20L488.00,283.60L485.60,286.00L483.20,283.60Z" fill="#e3202b"/>
<path d="M492.90,280.30L495.30,282.70L492.90,285.10L490.50,282.70Z" fill="#e3202b"/>
<circle cx="492.90" cy="267.70" r="2.88" fill="none" stroke="#7d2fb8" stroke-width="1.50"/>
<path d="M408.20,285.63L408.70,285.63L409.20,285.63L409.69,285.63L410.19,285.63L410.69,285.62L411.19,285.62L411.69,285.62L412.19,285.62L412.68,285.62L413.18,285.62L413.68,285.61L414.18,285.61L414.68,285.61L415.18,285.61L415.67,285.61L416.17,285.60L416.67,285.60L417.17,285.60L417.67,285.60L418.16,285.59L418.66,285.59L419.16,285.59L419.66,285.59L420.16,285.58L420.66,285.58L421.15,285.58L421.65,285.57L422.15,285.57L422.65,285.56L423.15,285.56L423.65,285.56L424.14,285.55L424.64,285.55L425.14,285.54L425.64,285.53L426.14,285.53L426.63,285.52L427.13,285.52L427.63,285.51L428.13,285.50L428.63,285.50L429.13,285.49L429.62,285.48L430.12,285.47L430.62,285.46L431.12,285.46L431.62,285.45L432.12,285.44L432.61,285.43L433.11,285.41L433.61,285.40L434.11,285.39L434.61,285.38L435.10,285.37L435.60,285.35L436.10,285.34L436.60,285.32L437.10,285.31L437.60,285.29L438.09,285.27L438.59,285.25L439.09,285.23L439.59,285.21L440.09,285.19L440.59,285.17L441.08,285.15L441.58,285.12L442.08,285.10L442.58,285.07L443.08,285.05L443.57,285.02L444.07,284.99L444.57,284.96L445.07,284.92L445.57,284.89L446.07,284.85L446.56,284.81L447.06,284.77L447.56,284.73L448.06,284.69L448.56,284.64L449.06,284.60L449.55,284.55L450.05,284.50L450.55,284.44L451.05,284.39L451.55,284.33L452.04,284.27L452.54,284.20L453.04,284.14L453.54,284.07L454.04,283.99L454.54,283.92L455.03,283.84L455.53,283.76L456.03,283.67L456.53,283.58L457.03,283.49L457.53,283.39L458.02,283.29L458.52,283.18L459.02,283.07L459.52,282.96L460.02,282.84L460.51,282.72L461.01,282.59L461.51,282.46L462.01,282.32L462.51,282.17L463.01,282.03L463.50,281.87L464.00,281.71L464.50,281.55L465.00,281.38L465.50,281.20L466.00,281.02L466.49,280.83L466.99,280.63L467.49,280.43L467.99,280.22L468.49,280.01L468.98,279.79L469.48,279.56L469.98,279.33L470.48,279.09L470.98,278.84L471.48,278.59L471.97,278.33L472.47,278.06L472.97,277.79L473.47,277.51L473.97,277.23L474.47,276.93L474.96,276.64L475.46,276.34L475.96,276.03L476.46,275.71L476.96,275.40L477.45,275.07L477.95,274.74L478.45,274.41L478.95,274.08L479.45,273.74L479.95,273.39L480.44,273.05L480.94,272.70L481.44,272.35L481.94,271.99L482.44,271.64L482.94,271.28L483.43,270.92L483.93,270.57L484.43,270.21L484.93,269.85L485.43,269.50L485.92,269.14L486.42,268.79L486.92,268.44L487.42,268.09L487.92,267.74L488.42,267.40L488.91,267.06L489.41,266.72L489.91,266.39L490.41,266.06L490.91,265.74L491.41,265.42L491.90,265.11L492.40,264.80L492.90,264.49" fill="none" stroke="#1c1cb0" stroke-width="1.45"/>
<circle cx="408.20" cy="285.40" r="2.81" fill="#1c1cb0"/>
<circle cx="416.00" cy="285.40" r="2.81" fill="#1c1cb0"/>
<circle cx="423.70" cy="285.40" r="2.81" fill="#1c1cb0"/>
<circle cx="431.40" cy="285.40" r="2.81" fill="#1c1cb0"/>
<circle cx="439.20" cy="285.40" r="2.81" fill="#1c1cb0"/>
<circle cx="446.90" cy="285.30" r="2.81" fill="#1c1cb0"/>
<circle cx="454.70" cy="284.30" r="2.81" fill="#1c1cb0"/>
<circle cx="462.40" cy="282.00" r="2.81" fill="#1c1cb0"/>
<circle cx="470.10" cy="278.70" r="2.81" fill="#1c1cb0"/>
<circle cx="477.40" cy="275.40" r="2.81" fill="#1c1cb0"/>
<circle cx="485.60" cy="269.50" r="2.81" fill="#1c1cb0"/>
<circle cx="492.90" cy="264.40" r="2.81" fill="#1c1cb0"/>
<line x1="380.2" y1="207.5" x2="390.5" y2="207.5" stroke="#ef8a35" stroke-width="1.6"/>
<path d="M385.35,205.54L387.21,208.87L383.49,208.87Z" fill="#ef8a35"/>
<text x="395.70" y="210.23" font-size="7.59" fill="#1e1e1e" stroke="#1e1e1e" stroke-width="0.2">Cetuximab</text>
<line x1="380.2" y1="217.7" x2="390.5" y2="217.7" stroke="#7d2fb8" stroke-width="1.6"/>
<circle cx="385.35" cy="217.70" r="1.95" fill="#fff" stroke="#7d2fb8" stroke-width="1.02"/>
<text x="395.70" y="220.43" font-size="7.59" fill="#1e1e1e" stroke="#1e1e1e" stroke-width="0.2">AM1</text>
<line x1="380.2" y1="227.9" x2="390.5" y2="227.9" stroke="#1c1cb0" stroke-width="1.6"/>
<circle cx="385.35" cy="227.90" r="1.91" fill="#1c1cb0"/>
<text x="395.70" y="230.63" font-size="7.59" fill="#1e1e1e" stroke="#1e1e1e" stroke-width="0.2">ABBV-221</text>
<line x1="380.2" y1="238.1" x2="390.5" y2="238.1" stroke="#e3202b" stroke-width="1.6"/>
<path d="M385.35,236.06L387.39,238.10L385.35,240.14L383.31,238.10Z" fill="#e3202b"/>
<text x="395.70" y="240.83" font-size="7.59" fill="#1e1e1e" stroke="#1e1e1e" stroke-width="0.2">Depatux-m</text>
<text x="3.30" y="356.90" font-size="13.0" font-weight="bold" fill="#111" stroke="#111" stroke-width="0.22">G</text>
<text x="26.80" y="356.90" font-size="10.0" font-weight="bold" textLength="73.10" lengthAdjust="spacingAndGlyphs" fill="#111" stroke="#111" stroke-width="0.22">HCC827.ER.LMC</text>
<line x1="32.0" y1="370.4" x2="32.0" y2="459.90000000000003" stroke="#333333" stroke-width="1.3"/>
<line x1="29.4" y1="370.4" x2="32.0" y2="370.4" stroke="#333333" stroke-width="1.1"/>
<text x="28.30" y="372.58" font-size="7.04" font-weight="bold" text-anchor="end" fill="#222222" stroke="#222222" stroke-width="0.22">3,000</text>
<line x1="29.4" y1="400.0" x2="32.0" y2="400.0" stroke="#333333" stroke-width="1.1"/>
<text x="28.30" y="402.18" font-size="7.04" font-weight="bold" text-anchor="end" fill="#222222" stroke="#222222" stroke-width="0.22">2,000</text>
<line x1="29.4" y1="429.7" x2="32.0" y2="429.7" stroke="#333333" stroke-width="1.1"/>
<text x="28.30" y="431.88" font-size="7.04" font-weight="bold" text-anchor="end" fill="#222222" stroke="#222222" stroke-width="0.22">1,000</text>
<line x1="29.4" y1="459.3" x2="32.0" y2="459.3" stroke="#333333" stroke-width="1.1"/>
<text x="28.30" y="461.48" font-size="7.04" font-weight="bold" text-anchor="end" fill="#222222" stroke="#222222" stroke-width="0.22">0</text>
<line x1="31.4" y1="459.3" x2="166.4" y2="459.3" stroke="#333333" stroke-width="1.3"/>
<line x1="32.3" y1="459.3" x2="32.3" y2="461.90000000000003" stroke="#333333" stroke-width="1.1"/>
<text transform="translate(33.50,467.90) rotate(-45)" font-size="6.41" font-weight="bold" text-anchor="end" fill="#222222" stroke="#222222" stroke-width="0.22">0.0001</text>
<line x1="48.98" y1="459.3" x2="48.98" y2="461.90000000000003" stroke="#333333" stroke-width="1.1"/>
<text transform="translate(50.18,467.90) rotate(-45)" font-size="6.41" font-weight="bold" text-anchor="end" fill="#222222" stroke="#222222" stroke-width="0.22">0.001</text>
<line x1="65.66" y1="459.3" x2="65.66" y2="461.90000000000003" stroke="#333333" stroke-width="1.1"/>
<text transform="translate(66.86,467.90) rotate(-45)" font-size="6.41" font-weight="bold" text-anchor="end" fill="#222222" stroke="#222222" stroke-width="0.22">0.01</text>
<line x1="82.34" y1="459.3" x2="82.34" y2="461.90000000000003" stroke="#333333" stroke-width="1.1"/>
<text transform="translate(83.54,467.90) rotate(-45)" font-size="6.41" font-weight="bold" text-anchor="end" fill="#222222" stroke="#222222" stroke-width="0.22">0.1</text>
<line x1="99.02" y1="459.3" x2="99.02" y2="461.90000000000003" stroke="#333333" stroke-width="1.1"/>
<text transform="translate(100.22,467.90) rotate(-45)" font-size="6.41" font-weight="bold" text-anchor="end" fill="#222222" stroke="#222222" stroke-width="0.22">1</text>
<line x1="115.7" y1="459.3" x2="115.7" y2="461.90000000000003" stroke="#333333" stroke-width="1.1"/>
<text transform="translate(118.10,467.54) rotate(-45)" font-size="6.41" font-weight="bold" text-anchor="end" fill="#222222" stroke="#222222" stroke-width="0.22">10</text>
<line x1="132.38" y1="459.3" x2="132.38" y2="461.90000000000003" stroke="#333333" stroke-width="1.1"/>
<text transform="translate(134.78,467.54) rotate(-45)" font-size="6.41" font-weight="bold" text-anchor="end" fill="#222222" stroke="#222222" stroke-width="0.22">100</text>
<line x1="149.06" y1="459.3" x2="149.06" y2="461.90000000000003" stroke="#333333" stroke-width="1.1"/>
<text transform="translate(151.46,467.54) rotate(-45)" font-size="6.41" font-weight="bold" text-anchor="end" fill="#222222" stroke="#222222" stroke-width="0.22">1,000</text>
<line x1="165.74" y1="459.3" x2="165.74" y2="461.90000000000003" stroke="#333333" stroke-width="1.1"/>
<text transform="translate(168.14,467.54) rotate(-45)" font-size="6.41" font-weight="bold" text-anchor="end" fill="#222222" stroke="#222222" stroke-width="0.22">10,000</text>
<text transform="translate(6.30,413.10) rotate(-90)" font-size="7.4" font-weight="bold" text-anchor="middle" fill="#111" stroke="#111" stroke-width="0.22">Geo mean</text>
<text x="66.90" y="490.60" font-size="8.0" font-weight="bold" textLength="62.30" lengthAdjust="spacingAndGlyphs" fill="#111" stroke="#111" stroke-width="0.22">Ab/ADC (nmol/L)</text>
<path d="M46.00,457.71L46.50,457.71L47.00,457.71L47.49,457.71L47.99,457.71L48.49,457.71L48.99,457.71L49.48,457.71L49.98,457.71L50.48,457.71L50.98,457.71L51.48,457.71L51.97,457.71L52.47,457.71L52.97,457.71L53.47,457.71L53.96,457.71L54.46,457.71L54.96,457.71L55.46,457.71L55.96,457.71L56.45,457.71L56.95,457.71L57.45,457.71L57.95,457.71L58.44,457.71L58.94,457.71L59.44,457.71L59.94,457.71L60.43,457.71L60.93,457.71L61.43,457.71L61.93,457.71L62.43,457.71L62.92,457.71L63.42,457.71L63.92,457.71L64.42,457.71L64.91,457.71L65.41,457.71L65.91,457.70L66.41,457.70L66.91,457.70L67.40,457.70L67.90,457.70L68.40,457.70L68.90,457.69L69.39,457.69L69.89,457.69L70.39,457.69L70.89,457.68L71.39,457.68L71.88,457.67L72.38,457.67L72.88,457.66L73.38,457.66L73.87,457.65L74.37,457.64L74.87,457.63L75.37,457.62L75.87,457.61L76.36,457.59L76.86,457.58L77.36,457.56L77.86,457.54L78.35,457.52L78.85,457.50L79.35,457.47L79.85,457.44L80.34,457.40L80.84,457.36L81.34,457.32L81.84,457.27L82.34,457.21L82.83,457.15L83.33,457.08L83.83,457.00L84.33,456.91L84.82,456.81L85.32,456.69L85.82,456.56L86.32,456.42L86.82,456.26L87.31,456.08L87.81,455.88L88.31,455.65L88.81,455.40L89.30,455.12L89.80,454.80L90.30,454.45L90.80,454.06L91.30,453.63L91.79,453.15L92.29,452.61L92.79,452.02L93.29,451.37L93.78,450.65L94.28,449.86L94.78,449.00L95.28,448.06L95.78,447.03L96.27,445.92L96.77,444.73L97.27,443.44L97.77,442.06L98.26,440.60L98.76,439.05L99.26,437.42L99.76,435.71L100.26,433.94L100.75,432.10L101.25,430.22L101.75,428.31L102.25,426.37L102.74,424.42L103.24,422.48L103.74,420.56L104.24,418.67L104.73,416.82L105.23,415.02L105.73,413.30L106.23,411.64L106.73,410.07L107.22,408.58L107.72,407.17L108.22,405.86L108.72,404.63L109.21,403.50L109.71,402.45L110.21,401.48L110.71,400.60L111.21,399.79L111.70,399.05L112.20,398.38L112.70,397.77L113.20,397.22L113.69,396.72L114.19,396.27L114.69,395.87L115.19,395.51L115.69,395.18L116.18,394.89L116.68,394.63L117.18,394.40L117.68,394.19L118.17,394.00L118.67,393.83L119.17,393.69L119.67,393.55L120.17,393.44L120.66,393.33L121.16,393.24L121.66,393.16L122.16,393.08L122.65,393.02L123.15,392.96L123.65,392.91L124.15,392.86L124.64,392.82L125.14,392.78L125.64,392.75L126.14,392.72L126.64,392.70L127.13,392.67L127.63,392.65L128.13,392.64L128.63,392.62L129.12,392.61L129.62,392.59L130.12,392.58L130.62,392.57L131.12,392.56L131.61,392.56L132.11,392.55L132.61,392.54L133.11,392.54L133.60,392.53L134.10,392.53L134.60,392.53" fill="none" stroke="#ef8a35" stroke-width="1.45"/>
<path d="M46.00,455.93L47.97,459.45L44.03,459.45Z" fill="#ef8a35"/>
<path d="M53.00,455.93L54.97,459.45L51.03,459.45Z" fill="#ef8a35"/>
<path d="M60.00,455.93L61.97,459.45L58.03,459.45Z" fill="#ef8a35"/>
<path d="M67.00,455.93L68.97,459.45L65.03,459.45Z" fill="#ef8a35"/>
<path d="M74.00,455.93L75.97,459.45L72.03,459.45Z" fill="#ef8a35"/>
<path d="M81.00,455.43L82.97,458.95L79.03,458.95Z" fill="#ef8a35"/>
<path d="M88.00,453.43L89.97,456.95L86.03,456.95Z" fill="#ef8a35"/>
<path d="M95.00,443.93L96.97,447.45L93.03,447.45Z" fill="#ef8a35"/>
<path d="M103.00,423.93L104.97,427.45L101.03,427.45Z" fill="#ef8a35"/>
<path d="M111.00,394.93L112.97,398.45L109.03,398.45Z" fill="#ef8a35"/>
<path d="M119.00,391.43L120.97,394.95L117.03,394.95Z" fill="#ef8a35"/>
<path d="M127.00,390.93L128.97,394.45L125.03,394.45Z" fill="#ef8a35"/>
<path d="M134.60,392.13L136.57,395.65L132.63,395.65Z" fill="#ef8a35"/>
<path d="M63.80,458.10L64.30,458.10L64.80,458.10L65.29,458.10L65.79,458.10L66.29,458.09L66.79,458.09L67.29,458.09L67.79,458.09L68.28,458.08L68.78,458.08L69.28,458.08L69.78,458.07L70.28,458.07L70.78,458.06L71.27,458.05L71.77,458.05L72.27,458.04L72.77,458.03L73.27,458.02L73.77,458.01L74.26,458.00L74.76,457.99L75.26,457.98L75.76,457.96L76.26,457.94L76.76,457.93L77.25,457.91L77.75,457.88L78.25,457.86L78.75,457.83L79.25,457.80L79.75,457.77L80.24,457.73L80.74,457.69L81.24,457.65L81.74,457.60L82.24,457.54L82.74,457.48L83.23,457.42L83.73,457.34L84.23,457.26L84.73,457.17L85.23,457.07L85.72,456.97L86.22,456.85L86.72,456.72L87.22,456.57L87.72,456.41L88.22,456.24L88.71,456.04L89.21,455.83L89.71,455.60L90.21,455.34L90.71,455.06L91.21,454.75L91.70,454.42L92.20,454.05L92.70,453.64L93.20,453.20L93.70,452.72L94.20,452.20L94.69,451.63L95.19,451.01L95.69,450.34L96.19,449.62L96.69,448.83L97.19,447.99L97.68,447.08L98.18,446.11L98.68,445.06L99.18,443.95L99.68,442.77L100.18,441.52L100.67,440.19L101.17,438.80L101.67,437.34L102.17,435.81L102.67,434.22L103.17,432.57L103.66,430.88L104.16,429.14L104.66,427.36L105.16,425.55L105.66,423.72L106.16,421.88L106.65,420.04L107.15,418.20L107.65,416.38L108.15,414.58L108.65,412.82L109.14,411.10L109.64,409.42L110.14,407.80L110.64,406.24L111.14,404.74L111.64,403.31L112.13,401.94L112.63,400.65L113.13,399.42L113.63,398.27L114.13,397.19L114.63,396.18L115.12,395.23L115.62,394.35L116.12,393.53L116.62,392.78L117.12,392.07L117.62,391.43L118.11,390.83L118.61,390.28L119.11,389.78L119.61,389.31L120.11,388.89L120.61,388.50L121.10,388.15L121.60,387.82L122.10,387.53L122.60,387.26L123.10,387.01L123.60,386.79L124.09,386.58L124.59,386.40L125.09,386.23L125.59,386.08L126.09,385.94L126.59,385.81L127.08,385.70L127.58,385.59L128.08,385.50L128.58,385.41L129.08,385.34L129.57,385.27L130.07,385.20L130.57,385.15L131.07,385.09L131.57,385.05L132.07,385.00L132.56,384.96L133.06,384.93L133.56,384.90L134.06,384.87L134.56,384.84L135.06,384.82L135.55,384.80L136.05,384.78L136.55,384.76L137.05,384.74L137.55,384.73L138.05,384.72L138.54,384.71L139.04,384.70L139.54,384.69L140.04,384.68L140.54,384.67L141.04,384.66L141.53,384.66L142.03,384.65L142.53,384.64L143.03,384.64L143.53,384.64L144.03,384.63L144.52,384.63L145.02,384.62L145.52,384.62L146.02,384.62L146.52,384.62L147.02,384.61L147.51,384.61L148.01,384.61L148.51,384.61L149.01,384.61L149.51,384.61L150.01,384.61L150.50,384.60L151.00,384.60L151.50,384.60" fill="none" stroke="#e3202b" stroke-width="1.45"/>
<path d="M63.80,455.60L66.20,458.00L63.80,460.40L61.40,458.00Z" fill="#e3202b"/>
<path d="M71.80,455.60L74.20,458.00L71.80,460.40L69.40,458.00Z" fill="#e3202b"/>
<path d="M79.80,455.60L82.20,458.00L79.80,460.40L77.40,458.00Z" fill="#e3202b"/>
<path d="M87.80,454.10L90.20,456.50L87.80,458.90L85.40,456.50Z" fill="#e3202b"/>
<path d="M95.60,447.60L98.00,450.00L95.60,452.40L93.20,450.00Z" fill="#e3202b"/>
<path d="M103.50,429.60L105.90,432.00L103.50,434.40L101.10,432.00Z" fill="#e3202b"/>
<path d="M111.50,400.60L113.90,403.00L111.50,405.40L109.10,403.00Z" fill="#e3202b"/>
<path d="M119.40,387.60L121.80,390.00L119.40,392.40L117.00,390.00Z" fill="#e3202b"/>
<path d="M127.30,384.10L129.70,386.50L127.30,388.90L124.90,386.50Z" fill="#e3202b"/>
<path d="M135.30,382.60L137.70,385.00L135.30,387.40L132.90,385.00Z" fill="#e3202b"/>
<path d="M143.40,381.90L145.80,384.30L143.40,386.70L141.00,384.30Z" fill="#e3202b"/>
<path d="M151.50,381.40L153.90,383.80L151.50,386.20L149.10,383.80Z" fill="#e3202b"/>
<path d="M63.80,457.94L64.30,457.93L64.80,457.93L65.29,457.93L65.79,457.92L66.29,457.92L66.79,457.91L67.29,457.91L67.79,457.90L68.28,457.89L68.78,457.89L69.28,457.88L69.78,457.87L70.28,457.86L70.78,457.85L71.27,457.84L71.77,457.82L72.27,457.81L72.77,457.79L73.27,457.78L73.77,457.76L74.26,457.74L74.76,457.72L75.26,457.69L75.76,457.67L76.26,457.64L76.76,457.61L77.25,457.57L77.75,457.54L78.25,457.50L78.75,457.45L79.25,457.40L79.75,457.35L80.24,457.29L80.74,457.23L81.24,457.16L81.74,457.08L82.24,457.00L82.74,456.91L83.23,456.81L83.73,456.71L84.23,456.59L84.73,456.46L85.23,456.32L85.72,456.17L86.22,456.01L86.72,455.83L87.22,455.63L87.72,455.42L88.22,455.19L88.71,454.94L89.21,454.66L89.71,454.37L90.21,454.05L90.71,453.70L91.21,453.33L91.70,452.92L92.20,452.48L92.70,452.00L93.20,451.49L93.70,450.94L94.20,450.35L94.69,449.72L95.19,449.03L95.69,448.31L96.19,447.53L96.69,446.70L97.19,445.81L97.68,444.88L98.18,443.89L98.68,442.84L99.18,441.73L99.68,440.57L100.18,439.35L100.67,438.08L101.17,436.76L101.67,435.39L102.17,433.97L102.67,432.50L103.17,431.00L103.66,429.46L104.16,427.89L104.66,426.30L105.16,424.69L105.66,423.07L106.16,421.44L106.65,419.82L107.15,418.20L107.65,416.59L108.15,415.01L108.65,413.46L109.14,411.93L109.64,410.44L110.14,409.00L110.64,407.60L111.14,406.24L111.64,404.94L112.13,403.69L112.63,402.50L113.13,401.36L113.63,400.28L114.13,399.26L114.63,398.29L115.12,397.37L115.62,396.51L116.12,395.70L116.62,394.95L117.12,394.24L117.62,393.57L118.11,392.96L118.61,392.38L119.11,391.85L119.61,391.35L120.11,390.89L120.61,390.47L121.10,390.07L121.60,389.71L122.10,389.37L122.60,389.06L123.10,388.78L123.60,388.52L124.09,388.27L124.59,388.05L125.09,387.84L125.59,387.66L126.09,387.48L126.59,387.32L127.08,387.18L127.58,387.04L128.08,386.92L128.58,386.81L129.08,386.70L129.57,386.61L130.07,386.52L130.57,386.44L131.07,386.37L131.57,386.30L132.07,386.24L132.56,386.19L133.06,386.14L133.56,386.09L134.06,386.05L134.56,386.01L135.06,385.97L135.55,385.94L136.05,385.91L136.55,385.88L137.05,385.86L137.55,385.83L138.05,385.81L138.54,385.79L139.04,385.78L139.54,385.76L140.04,385.74L140.54,385.73L141.04,385.72L141.53,385.71L142.03,385.70L142.53,385.69L143.03,385.68L143.53,385.67L144.03,385.66L144.52,385.66L145.02,385.65L145.52,385.65L146.02,385.64L146.52,385.64L147.02,385.63L147.51,385.63L148.01,385.63L148.51,385.62L149.01,385.62L149.51,385.62L150.01,385.61L150.50,385.61L151.00,385.61L151.50,385.61" fill="none" stroke="#7d2fb8" stroke-width="1.45"/>
<circle cx="63.80" cy="458.00" r="2.30" fill="none" stroke="#7d2fb8" stroke-width="1.20"/>
<circle cx="71.80" cy="458.00" r="2.30" fill="none" stroke="#7d2fb8" stroke-width="1.20"/>
<circle cx="79.80" cy="457.50" r="2.30" fill="none" stroke="#7d2fb8" stroke-width="1.20"/>
<circle cx="87.80" cy="455.00" r="2.30" fill="none" stroke="#7d2fb8" stroke-width="1.20"/>
<circle cx="95.60" cy="448.00" r="2.30" fill="none" stroke="#7d2fb8" stroke-width="1.20"/>
<circle cx="103.50" cy="431.00" r="2.30" fill="none" stroke="#7d2fb8" stroke-width="1.20"/>
<circle cx="111.50" cy="404.00" r="2.30" fill="none" stroke="#7d2fb8" stroke-width="1.20"/>
<circle cx="119.40" cy="392.00" r="2.30" fill="none" stroke="#7d2fb8" stroke-width="1.20"/>
<circle cx="127.30" cy="389.00" r="2.30" fill="none" stroke="#7d2fb8" stroke-width="1.20"/>
<circle cx="135.30" cy="386.20" r="2.30" fill="none" stroke="#7d2fb8" stroke-width="1.20"/>
<circle cx="143.40" cy="386.00" r="2.30" fill="none" stroke="#7d2fb8" stroke-width="1.20"/>
<circle cx="151.50" cy="383.40" r="2.30" fill="none" stroke="#7d2fb8" stroke-width="1.20"/>
<path d="M63.80,457.41L64.30,457.40L64.80,457.40L65.29,457.40L65.79,457.40L66.29,457.40L66.79,457.40L67.29,457.39L67.79,457.39L68.28,457.39L68.78,457.39L69.28,457.38L69.78,457.38L70.28,457.38L70.78,457.37L71.27,457.37L71.77,457.36L72.27,457.36L72.77,457.35L73.27,457.34L73.77,457.33L74.26,457.32L74.76,457.31L75.26,457.30L75.76,457.29L76.26,457.28L76.76,457.26L77.25,457.25L77.75,457.23L78.25,457.21L78.75,457.19L79.25,457.16L79.75,457.14L80.24,457.11L80.74,457.07L81.24,457.04L81.74,457.00L82.24,456.95L82.74,456.90L83.23,456.85L83.73,456.79L84.23,456.72L84.73,456.65L85.23,456.57L85.72,456.48L86.22,456.38L86.72,456.27L87.22,456.15L87.72,456.02L88.22,455.88L88.71,455.72L89.21,455.54L89.71,455.35L90.21,455.13L90.71,454.90L91.21,454.64L91.70,454.36L92.20,454.05L92.70,453.71L93.20,453.34L93.70,452.94L94.20,452.49L94.69,452.01L95.19,451.49L95.69,450.91L96.19,450.29L96.69,449.62L97.19,448.89L97.68,448.11L98.18,447.27L98.68,446.36L99.18,445.39L99.68,444.35L100.18,443.24L100.67,442.07L101.17,440.83L101.67,439.52L102.17,438.15L102.67,436.71L103.17,435.22L103.66,433.67L104.16,432.07L104.66,430.43L105.16,428.75L105.66,427.04L106.16,425.31L106.65,423.57L107.15,421.83L107.65,420.09L108.15,418.37L108.65,416.66L109.14,414.99L109.64,413.36L110.14,411.77L110.64,410.24L111.14,408.76L111.64,407.34L112.13,405.98L112.63,404.69L113.13,403.46L113.63,402.31L114.13,401.22L114.63,400.20L115.12,399.24L115.62,398.35L116.12,397.52L116.62,396.75L117.12,396.03L117.62,395.38L118.11,394.77L118.61,394.21L119.11,393.69L119.61,393.22L120.11,392.79L120.61,392.39L121.10,392.03L121.60,391.69L122.10,391.39L122.60,391.12L123.10,390.86L123.60,390.64L124.09,390.43L124.59,390.24L125.09,390.07L125.59,389.91L126.09,389.77L126.59,389.64L127.08,389.52L127.58,389.42L128.08,389.32L128.58,389.24L129.08,389.16L129.57,389.09L130.07,389.02L130.57,388.96L131.07,388.91L131.57,388.86L132.07,388.82L132.56,388.78L133.06,388.74L133.56,388.71L134.06,388.68L134.56,388.66L135.06,388.63L135.55,388.61L136.05,388.59L136.55,388.57L137.05,388.56L137.55,388.54L138.05,388.53L138.54,388.52L139.04,388.51L139.54,388.50L140.04,388.49L140.54,388.48L141.04,388.47L141.53,388.47L142.03,388.46L142.53,388.46L143.03,388.45L143.53,388.45L144.03,388.44L144.52,388.44L145.02,388.44L145.52,388.43L146.02,388.43L146.52,388.43L147.02,388.43L147.51,388.43L148.01,388.42L148.51,388.42L149.01,388.42L149.51,388.42L150.01,388.42L150.50,388.42L151.00,388.42L151.50,388.42" fill="none" stroke="#1c1cb0" stroke-width="1.45"/>
<circle cx="63.80" cy="458.00" r="2.25" fill="#1c1cb0"/>
<circle cx="71.80" cy="458.00" r="2.25" fill="#1c1cb0"/>
<circle cx="79.80" cy="457.50" r="2.25" fill="#1c1cb0"/>
<circle cx="87.80" cy="455.40" r="2.25" fill="#1c1cb0"/>
<circle cx="95.60" cy="449.00" r="2.25" fill="#1c1cb0"/>
<circle cx="103.50" cy="435.80" r="2.25" fill="#1c1cb0"/>
<circle cx="111.50" cy="406.90" r="2.25" fill="#1c1cb0"/>
<circle cx="119.40" cy="393.00" r="2.25" fill="#1c1cb0"/>
<circle cx="127.30" cy="390.30" r="2.25" fill="#1c1cb0"/>
<circle cx="135.30" cy="388.50" r="2.25" fill="#1c1cb0"/>
<circle cx="143.40" cy="388.30" r="2.25" fill="#1c1cb0"/>
<circle cx="151.50" cy="388.50" r="2.25" fill="#1c1cb0"/>
<line x1="35.5" y1="371.2" x2="45.9" y2="371.2" stroke="#ef8a35" stroke-width="1.6"/>
<path d="M40.70,369.25L42.56,372.57L38.84,372.57Z" fill="#ef8a35"/>
<text x="51.00" y="373.93" font-size="7.59" fill="#1e1e1e" stroke="#1e1e1e" stroke-width="0.2">Cetuximab</text>
<line x1="35.5" y1="381.2" x2="45.9" y2="381.2" stroke="#7d2fb8" stroke-width="1.6"/>
<circle cx="40.70" cy="381.20" r="1.95" fill="#fff" stroke="#7d2fb8" stroke-width="1.02"/>
<text x="51.00" y="383.93" font-size="7.59" fill="#1e1e1e" stroke="#1e1e1e" stroke-width="0.2">AM1</text>
<line x1="35.5" y1="391.2" x2="45.9" y2="391.2" stroke="#1c1cb0" stroke-width="1.6"/>
<circle cx="40.70" cy="391.20" r="1.91" fill="#1c1cb0"/>
<text x="51.00" y="393.93" font-size="7.59" fill="#1e1e1e" stroke="#1e1e1e" stroke-width="0.2">ABBV-221</text>
<line x1="35.5" y1="401.3" x2="45.9" y2="401.3" stroke="#e3202b" stroke-width="1.6"/>
<path d="M40.70,399.26L42.74,401.30L40.70,403.34L38.66,401.30Z" fill="#e3202b"/>
<text x="51.00" y="404.03" font-size="7.59" fill="#1e1e1e" stroke="#1e1e1e" stroke-width="0.2">Depatux-m</text>
<text x="174.10" y="356.90" font-size="13.0" font-weight="bold" fill="#111" stroke="#111" stroke-width="0.22">H</text>
<text x="192.50" y="356.90" font-size="10.0" font-weight="bold" textLength="56.20" lengthAdjust="spacingAndGlyphs" fill="#111" stroke="#111" stroke-width="0.22">U87MGde-7</text>
<line x1="205.5" y1="370.8" x2="205.5" y2="458.8" stroke="#333333" stroke-width="1.3"/>
<line x1="202.9" y1="370.8" x2="205.5" y2="370.8" stroke="#333333" stroke-width="1.1"/>
<text x="202.30" y="372.77" font-size="6.35" font-weight="bold" text-anchor="end" fill="#222222" stroke="#222222" stroke-width="0.22">1,500</text>
<line x1="202.9" y1="399.9" x2="205.5" y2="399.9" stroke="#333333" stroke-width="1.1"/>
<text x="202.30" y="401.87" font-size="6.35" font-weight="bold" text-anchor="end" fill="#222222" stroke="#222222" stroke-width="0.22">1,000</text>
<line x1="202.9" y1="429.1" x2="205.5" y2="429.1" stroke="#333333" stroke-width="1.1"/>
<text x="202.30" y="431.07" font-size="6.35" font-weight="bold" text-anchor="end" fill="#222222" stroke="#222222" stroke-width="0.22">500</text>
<line x1="202.9" y1="458.2" x2="205.5" y2="458.2" stroke="#333333" stroke-width="1.1"/>
<text x="202.30" y="460.17" font-size="6.35" font-weight="bold" text-anchor="end" fill="#222222" stroke="#222222" stroke-width="0.22">0</text>
<line x1="204.9" y1="458.2" x2="338.3" y2="458.2" stroke="#333333" stroke-width="1.3"/>
<line x1="206.3" y1="458.2" x2="206.3" y2="460.8" stroke="#333333" stroke-width="1.1"/>
<text transform="translate(207.50,466.80) rotate(-45)" font-size="6.41" font-weight="bold" text-anchor="end" fill="#222222" stroke="#222222" stroke-width="0.22">0.0001</text>
<line x1="222.8" y1="458.2" x2="222.8" y2="460.8" stroke="#333333" stroke-width="1.1"/>
<text transform="translate(224.00,466.80) rotate(-45)" font-size="6.41" font-weight="bold" text-anchor="end" fill="#222222" stroke="#222222" stroke-width="0.22">0.001</text>
<line x1="239.3" y1="458.2" x2="239.3" y2="460.8" stroke="#333333" stroke-width="1.1"/>
<text transform="translate(240.50,466.80) rotate(-45)" font-size="6.41" font-weight="bold" text-anchor="end" fill="#222222" stroke="#222222" stroke-width="0.22">0.01</text>
<line x1="255.8" y1="458.2" x2="255.8" y2="460.8" stroke="#333333" stroke-width="1.1"/>
<text transform="translate(257.00,466.80) rotate(-45)" font-size="6.41" font-weight="bold" text-anchor="end" fill="#222222" stroke="#222222" stroke-width="0.22">0.1</text>
<line x1="272.3" y1="458.2" x2="272.3" y2="460.8" stroke="#333333" stroke-width="1.1"/>
<text transform="translate(273.50,466.80) rotate(-45)" font-size="6.41" font-weight="bold" text-anchor="end" fill="#222222" stroke="#222222" stroke-width="0.22">1</text>
<line x1="288.8" y1="458.2" x2="288.8" y2="460.8" stroke="#333333" stroke-width="1.1"/>
<text transform="translate(291.20,466.44) rotate(-45)" font-size="6.41" font-weight="bold" text-anchor="end" fill="#222222" stroke="#222222" stroke-width="0.22">10</text>
<line x1="305.3" y1="458.2" x2="305.3" y2="460.8" stroke="#333333" stroke-width="1.1"/>
<text transform="translate(307.70,466.44) rotate(-45)" font-size="6.41" font-weight="bold" text-anchor="end" fill="#222222" stroke="#222222" stroke-width="0.22">100</text>
<line x1="321.8" y1="458.2" x2="321.8" y2="460.8" stroke="#333333" stroke-width="1.1"/>
<text transform="translate(324.20,466.44) rotate(-45)" font-size="6.41" font-weight="bold" text-anchor="end" fill="#222222" stroke="#222222" stroke-width="0.22">1,000</text>
<line x1="338.3" y1="458.2" x2="338.3" y2="460.8" stroke="#333333" stroke-width="1.1"/>
<text transform="translate(340.70,466.44) rotate(-45)" font-size="6.41" font-weight="bold" text-anchor="end" fill="#222222" stroke="#222222" stroke-width="0.22">10,000</text>
<text transform="translate(183.00,413.60) rotate(-90)" font-size="7.3" font-weight="bold" text-anchor="middle" fill="#111" stroke="#111" stroke-width="0.22">Geo mean</text>
<text x="240.60" y="490.40" font-size="8.0" font-weight="bold" textLength="62.20" lengthAdjust="spacingAndGlyphs" fill="#111" stroke="#111" stroke-width="0.22">Ab/ADC (nmol/L)</text>
<path d="M220.80,454.83L221.30,454.83L221.80,454.82L222.29,454.81L222.79,454.80L223.29,454.80L223.79,454.79L224.28,454.77L224.78,454.76L225.28,454.75L225.78,454.74L226.27,454.72L226.77,454.70L227.27,454.69L227.77,454.67L228.27,454.65L228.76,454.62L229.26,454.60L229.76,454.57L230.26,454.54L230.75,454.51L231.25,454.47L231.75,454.44L232.25,454.40L232.74,454.35L233.24,454.30L233.74,454.25L234.24,454.20L234.74,454.13L235.23,454.07L235.73,454.00L236.23,453.92L236.73,453.83L237.22,453.74L237.72,453.64L238.22,453.53L238.72,453.42L239.21,453.29L239.71,453.16L240.21,453.01L240.71,452.85L241.21,452.68L241.70,452.49L242.20,452.29L242.70,452.07L243.20,451.84L243.69,451.59L244.19,451.32L244.69,451.03L245.19,450.71L245.69,450.38L246.18,450.02L246.68,449.63L247.18,449.22L247.68,448.78L248.17,448.30L248.67,447.80L249.17,447.26L249.67,446.69L250.16,446.09L250.66,445.45L251.16,444.77L251.66,444.06L252.16,443.31L252.65,442.51L253.15,441.69L253.65,440.82L254.15,439.91L254.64,438.97L255.14,437.99L255.64,436.98L256.14,435.94L256.63,434.87L257.13,433.77L257.63,432.64L258.13,431.49L258.63,430.33L259.12,429.15L259.62,427.96L260.12,426.77L260.62,425.57L261.11,424.38L261.61,423.19L262.11,422.01L262.61,420.85L263.10,419.71L263.60,418.58L264.10,417.48L264.60,416.41L265.10,415.37L265.59,414.36L266.09,413.39L266.59,412.45L267.09,411.54L267.58,410.68L268.08,409.85L268.58,409.06L269.08,408.31L269.57,407.60L270.07,406.92L270.57,406.29L271.07,405.68L271.57,405.12L272.06,404.58L272.56,404.08L273.06,403.61L273.56,403.17L274.05,402.76L274.55,402.37L275.05,402.01L275.55,401.68L276.04,401.37L276.54,401.08L277.04,400.81L277.54,400.56L278.04,400.33L278.53,400.11L279.03,399.91L279.53,399.72L280.03,399.55L280.52,399.39L281.02,399.25L281.52,399.11L282.02,398.99L282.51,398.87L283.01,398.76L283.51,398.66L284.01,398.57L284.51,398.49L285.00,398.41L285.50,398.34L286.00,398.27L286.50,398.21L286.99,398.16L287.49,398.10L287.99,398.06L288.49,398.01L288.99,397.97L289.48,397.93L289.98,397.90L290.48,397.87L290.98,397.84L291.47,397.81L291.97,397.79L292.47,397.76L292.97,397.74L293.46,397.72L293.96,397.71L294.46,397.69L294.96,397.67L295.46,397.66L295.95,397.65L296.45,397.64L296.95,397.63L297.45,397.62L297.94,397.61L298.44,397.60L298.94,397.59L299.44,397.58L299.93,397.58L300.43,397.57L300.93,397.56L301.43,397.56L301.93,397.55L302.42,397.55L302.92,397.55L303.42,397.54L303.92,397.54L304.41,397.54L304.91,397.53L305.41,397.53L305.91,397.53L306.40,397.53L306.90,397.52L307.40,397.52" fill="none" stroke="#ef8a35" stroke-width="1.45"/>
<path d="M220.80,452.80L222.99,456.71L218.62,456.71Z" fill="#ef8a35"/>
<path d="M229.20,452.70L231.38,456.61L227.01,456.61Z" fill="#ef8a35"/>
<path d="M236.40,451.50L238.59,455.41L234.22,455.41Z" fill="#ef8a35"/>
<path d="M244.90,447.30L247.09,451.21L242.72,451.21Z" fill="#ef8a35"/>
<path d="M252.80,440.80L254.99,444.71L250.62,444.71Z" fill="#ef8a35"/>
<path d="M260.50,424.00L262.69,427.91L258.31,427.91Z" fill="#ef8a35"/>
<path d="M268.40,405.50L270.58,409.41L266.21,409.41Z" fill="#ef8a35"/>
<path d="M276.10,399.20L278.29,403.11L273.92,403.11Z" fill="#ef8a35"/>
<path d="M284.00,400.00L286.19,403.91L281.81,403.91Z" fill="#ef8a35"/>
<path d="M291.70,397.60L293.88,401.51L289.51,401.51Z" fill="#ef8a35"/>
<path d="M299.70,389.60L301.88,393.51L297.51,393.51Z" fill="#ef8a35"/>
<path d="M307.40,395.90L309.58,399.81L305.21,399.81Z" fill="#ef8a35"/>
<path d="M236.40,455.34L236.90,455.33L237.40,455.33L237.90,455.32L238.40,455.32L238.89,455.31L239.39,455.31L239.89,455.30L240.39,455.30L240.89,455.29L241.39,455.28L241.89,455.28L242.39,455.27L242.89,455.26L243.38,455.25L243.88,455.25L244.38,455.24L244.88,455.23L245.38,455.22L245.88,455.21L246.38,455.20L246.88,455.19L247.38,455.18L247.87,455.17L248.37,455.16L248.87,455.14L249.37,455.13L249.87,455.12L250.37,455.10L250.87,455.09L251.37,455.08L251.86,455.06L252.36,455.04L252.86,455.03L253.36,455.01L253.86,454.99L254.36,454.97L254.86,454.95L255.36,454.93L255.86,454.91L256.35,454.89L256.85,454.87L257.35,454.84L257.85,454.82L258.35,454.79L258.85,454.77L259.35,454.74L259.85,454.71L260.35,454.68L260.84,454.65L261.34,454.62L261.84,454.59L262.34,454.55L262.84,454.51L263.34,454.48L263.84,454.44L264.34,454.40L264.84,454.36L265.33,454.32L265.83,454.27L266.33,454.23L266.83,454.18L267.33,454.13L267.83,454.08L268.33,454.03L268.83,453.97L269.32,453.91L269.82,453.86L270.32,453.80L270.82,453.73L271.32,453.67L271.82,453.61L272.32,453.54L272.82,453.47L273.32,453.39L273.81,453.32L274.31,453.24L274.81,453.17L275.31,453.08L275.81,453.00L276.31,452.92L276.81,452.83L277.31,452.74L277.81,452.64L278.30,452.55L278.80,452.45L279.30,452.35L279.80,452.25L280.30,452.15L280.80,452.04L281.30,451.93L281.80,451.82L282.30,451.71L282.79,451.59L283.29,451.47L283.79,451.35L284.29,451.23L284.79,451.11L285.29,450.98L285.79,450.85L286.29,450.72L286.79,450.59L287.28,450.46L287.78,450.32L288.28,450.19L288.78,450.05L289.28,449.91L289.78,449.77L290.28,449.63L290.78,449.49L291.27,449.34L291.77,449.20L292.27,449.06L292.77,448.91L293.27,448.77L293.77,448.62L294.27,448.47L294.77,448.33L295.27,448.18L295.76,448.04L296.26,447.89L296.76,447.75L297.26,447.61L297.76,447.46L298.26,447.32L298.76,447.18L299.26,447.04L299.76,446.90L300.25,446.76L300.75,446.63L301.25,446.49L301.75,446.36L302.25,446.23L302.75,446.10L303.25,445.97L303.75,445.85L304.25,445.72L304.74,445.60L305.24,445.48L305.74,445.36L306.24,445.25L306.74,445.14L307.24,445.02L307.74,444.92L308.24,444.81L308.74,444.71L309.23,444.61L309.73,444.51L310.23,444.41L310.73,444.31L311.23,444.22L311.73,444.13L312.23,444.05L312.73,443.96L313.23,443.88L313.72,443.80L314.22,443.72L314.72,443.64L315.22,443.57L315.72,443.50L316.22,443.43L316.72,443.36L317.22,443.29L317.71,443.23L318.21,443.17L318.71,443.11L319.21,443.05L319.71,443.00L320.21,442.94L320.71,442.89L321.21,442.84L321.71,442.79L322.20,442.74L322.70,442.70L323.20,442.65L323.70,442.61L324.20,442.57" fill="none" stroke="#e3202b" stroke-width="1.45"/>
<path d="M236.40,452.70L238.80,455.10L236.40,457.50L234.00,455.10Z" fill="#e3202b"/>
<path d="M244.90,452.70L247.30,455.10L244.90,457.50L242.50,455.10Z" fill="#e3202b"/>
<path d="M252.80,452.70L255.20,455.10L252.80,457.50L250.40,455.10Z" fill="#e3202b"/>
<path d="M261.00,452.60L263.40,455.00L261.00,457.40L258.60,455.00Z" fill="#e3202b"/>
<path d="M268.90,452.10L271.30,454.50L268.90,456.90L266.50,454.50Z" fill="#e3202b"/>
<path d="M276.80,450.10L279.20,452.50L276.80,454.90L274.40,452.50Z" fill="#e3202b"/>
<path d="M284.50,447.90L286.90,450.30L284.50,452.70L282.10,450.30Z" fill="#e3202b"/>
<path d="M292.50,446.70L294.90,449.10L292.50,451.50L290.10,449.10Z" fill="#e3202b"/>
<path d="M300.10,446.00L302.50,448.40L300.10,450.80L297.70,448.40Z" fill="#e3202b"/>
<path d="M308.10,441.20L310.50,443.60L308.10,446.00L305.70,443.60Z" fill="#e3202b"/>
<path d="M315.80,440.70L318.20,443.10L315.80,445.50L313.40,443.10Z" fill="#e3202b"/>
<path d="M324.20,440.70L326.60,443.10L324.20,445.50L321.80,443.10Z" fill="#e3202b"/>
<path d="M236.40,455.38L236.90,455.38L237.40,455.37L237.90,455.37L238.40,455.36L238.89,455.36L239.39,455.35L239.89,455.35L240.39,455.34L240.89,455.33L241.39,455.33L241.89,455.32L242.39,455.31L242.89,455.30L243.38,455.29L243.88,455.29L244.38,455.28L244.88,455.27L245.38,455.25L245.88,455.24L246.38,455.23L246.88,455.22L247.38,455.20L247.87,455.19L248.37,455.18L248.87,455.16L249.37,455.14L249.87,455.12L250.37,455.11L250.87,455.09L251.37,455.06L251.86,455.04L252.36,455.02L252.86,454.99L253.36,454.97L253.86,454.94L254.36,454.91L254.86,454.88L255.36,454.85L255.86,454.81L256.35,454.78L256.85,454.74L257.35,454.70L257.85,454.65L258.35,454.61L258.85,454.56L259.35,454.51L259.85,454.46L260.35,454.40L260.84,454.34L261.34,454.28L261.84,454.21L262.34,454.14L262.84,454.07L263.34,453.99L263.84,453.91L264.34,453.83L264.84,453.74L265.33,453.64L265.83,453.54L266.33,453.43L266.83,453.32L267.33,453.20L267.83,453.08L268.33,452.95L268.83,452.81L269.32,452.67L269.82,452.52L270.32,452.36L270.82,452.19L271.32,452.02L271.82,451.83L272.32,451.64L272.82,451.44L273.32,451.23L273.81,451.00L274.31,450.77L274.81,450.52L275.31,450.27L275.81,450.00L276.31,449.72L276.81,449.43L277.31,449.12L277.81,448.80L278.30,448.47L278.80,448.12L279.30,447.76L279.80,447.39L280.30,447.00L280.80,446.59L281.30,446.17L281.80,445.73L282.30,445.28L282.79,444.81L283.29,444.32L283.79,443.82L284.29,443.30L284.79,442.76L285.29,442.21L285.79,441.65L286.29,441.06L286.79,440.46L287.28,439.85L287.78,439.22L288.28,438.58L288.78,437.92L289.28,437.25L289.78,436.57L290.28,435.87L290.78,435.17L291.27,434.45L291.77,433.73L292.27,432.99L292.77,432.25L293.27,431.51L293.77,430.76L294.27,430.00L294.77,429.24L295.27,428.48L295.76,427.72L296.26,426.96L296.76,426.20L297.26,425.45L297.76,424.70L298.26,423.95L298.76,423.21L299.26,422.48L299.76,421.76L300.25,421.05L300.75,420.34L301.25,419.65L301.75,418.97L302.25,418.30L302.75,417.65L303.25,417.01L303.75,416.38L304.25,415.77L304.74,415.18L305.24,414.60L305.74,414.03L306.24,413.49L306.74,412.95L307.24,412.44L307.74,411.94L308.24,411.46L308.74,410.99L309.23,410.54L309.73,410.11L310.23,409.69L310.73,409.28L311.23,408.90L311.73,408.52L312.23,408.17L312.73,407.82L313.23,407.49L313.72,407.18L314.22,406.87L314.72,406.58L315.22,406.31L315.72,406.04L316.22,405.79L316.72,405.55L317.22,405.31L317.71,405.09L318.21,404.88L318.71,404.68L319.21,404.49L319.71,404.31L320.21,404.14L320.71,403.97L321.21,403.81L321.71,403.66L322.20,403.52L322.70,403.39L323.20,403.26L323.70,403.14L324.20,403.02" fill="none" stroke="#7d2fb8" stroke-width="1.45"/>
<circle cx="236.40" cy="455.10" r="2.30" fill="none" stroke="#7d2fb8" stroke-width="1.20"/>
<circle cx="244.90" cy="455.10" r="2.30" fill="none" stroke="#7d2fb8" stroke-width="1.20"/>
<circle cx="252.80" cy="455.10" r="2.30" fill="none" stroke="#7d2fb8" stroke-width="1.20"/>
<circle cx="261.00" cy="455.00" r="2.30" fill="none" stroke="#7d2fb8" stroke-width="1.20"/>
<circle cx="268.90" cy="452.30" r="2.30" fill="none" stroke="#7d2fb8" stroke-width="1.20"/>
<circle cx="276.80" cy="449.60" r="2.30" fill="none" stroke="#7d2fb8" stroke-width="1.20"/>
<circle cx="284.50" cy="443.10" r="2.30" fill="none" stroke="#7d2fb8" stroke-width="1.20"/>
<circle cx="292.50" cy="433.00" r="2.30" fill="none" stroke="#7d2fb8" stroke-width="1.20"/>
<circle cx="300.10" cy="419.80" r="2.30" fill="none" stroke="#7d2fb8" stroke-width="1.20"/>
<circle cx="308.10" cy="414.30" r="2.30" fill="none" stroke="#7d2fb8" stroke-width="1.20"/>
<circle cx="315.80" cy="403.50" r="2.30" fill="none" stroke="#7d2fb8" stroke-width="1.20"/>
<circle cx="324.20" cy="403.90" r="2.30" fill="none" stroke="#7d2fb8" stroke-width="1.20"/>
<path d="M236.40,455.35L236.90,455.34L237.40,455.34L237.90,455.34L238.40,455.34L238.89,455.34L239.39,455.34L239.89,455.34L240.39,455.34L240.89,455.34L241.39,455.33L241.89,455.33L242.39,455.33L242.89,455.33L243.38,455.33L243.88,455.32L244.38,455.32L244.88,455.32L245.38,455.32L245.88,455.31L246.38,455.31L246.88,455.31L247.38,455.30L247.87,455.30L248.37,455.29L248.87,455.29L249.37,455.28L249.87,455.28L250.37,455.27L250.87,455.26L251.37,455.26L251.86,455.25L252.36,455.24L252.86,455.23L253.36,455.22L253.86,455.21L254.36,455.20L254.86,455.19L255.36,455.17L255.86,455.16L256.35,455.15L256.85,455.13L257.35,455.11L257.85,455.09L258.35,455.07L258.85,455.05L259.35,455.03L259.85,455.00L260.35,454.97L260.84,454.94L261.34,454.91L261.84,454.88L262.34,454.84L262.84,454.80L263.34,454.76L263.84,454.71L264.34,454.66L264.84,454.61L265.33,454.55L265.83,454.49L266.33,454.43L266.83,454.36L267.33,454.28L267.83,454.20L268.33,454.11L268.83,454.02L269.32,453.92L269.82,453.81L270.32,453.69L270.82,453.57L271.32,453.44L271.82,453.29L272.32,453.14L272.82,452.98L273.32,452.81L273.81,452.62L274.31,452.42L274.81,452.21L275.31,451.99L275.81,451.75L276.31,451.49L276.81,451.22L277.31,450.94L277.81,450.63L278.30,450.31L278.80,449.97L279.30,449.61L279.80,449.23L280.30,448.83L280.80,448.41L281.30,447.97L281.80,447.51L282.30,447.02L282.79,446.51L283.29,445.99L283.79,445.44L284.29,444.87L284.79,444.28L285.29,443.67L285.79,443.04L286.29,442.39L286.79,441.72L287.28,441.04L287.78,440.35L288.28,439.64L288.78,438.92L289.28,438.19L289.78,437.45L290.28,436.71L290.78,435.97L291.27,435.22L291.77,434.47L292.27,433.73L292.77,432.99L293.27,432.26L293.77,431.54L294.27,430.83L294.77,430.13L295.27,429.44L295.76,428.77L296.26,428.12L296.76,427.49L297.26,426.87L297.76,426.28L298.26,425.70L298.76,425.15L299.26,424.61L299.76,424.10L300.25,423.61L300.75,423.14L301.25,422.70L301.75,422.27L302.25,421.87L302.75,421.48L303.25,421.12L303.75,420.77L304.25,420.44L304.74,420.13L305.24,419.84L305.74,419.57L306.24,419.31L306.74,419.07L307.24,418.84L307.74,418.63L308.24,418.42L308.74,418.24L309.23,418.06L309.73,417.89L310.23,417.74L310.73,417.59L311.23,417.46L311.73,417.33L312.23,417.22L312.73,417.11L313.23,417.00L313.72,416.91L314.22,416.82L314.72,416.74L315.22,416.66L315.72,416.59L316.22,416.52L316.72,416.46L317.22,416.40L317.71,416.34L318.21,416.29L318.71,416.25L319.21,416.20L319.71,416.16L320.21,416.13L320.71,416.09L321.21,416.06L321.71,416.03L322.20,416.00L322.70,415.98L323.20,415.95L323.70,415.93L324.20,415.91" fill="none" stroke="#1c1cb0" stroke-width="1.45"/>
<circle cx="236.40" cy="455.10" r="2.25" fill="#1c1cb0"/>
<circle cx="244.90" cy="455.10" r="2.25" fill="#1c1cb0"/>
<circle cx="252.80" cy="455.10" r="2.25" fill="#1c1cb0"/>
<circle cx="261.00" cy="455.00" r="2.25" fill="#1c1cb0"/>
<circle cx="268.90" cy="454.50" r="2.25" fill="#1c1cb0"/>
<circle cx="276.80" cy="451.50" r="2.25" fill="#1c1cb0"/>
<circle cx="284.50" cy="444.30" r="2.25" fill="#1c1cb0"/>
<circle cx="292.50" cy="433.50" r="2.25" fill="#1c1cb0"/>
<circle cx="300.10" cy="423.90" r="2.25" fill="#1c1cb0"/>
<circle cx="308.10" cy="416.70" r="2.25" fill="#1c1cb0"/>
<circle cx="315.80" cy="421.50" r="2.25" fill="#1c1cb0"/>
<circle cx="324.20" cy="412.60" r="2.25" fill="#1c1cb0"/>
<line x1="209.5" y1="371.1" x2="220.2" y2="371.1" stroke="#ef8a35" stroke-width="1.6"/>
<path d="M214.85,369.15L216.71,372.47L212.99,372.47Z" fill="#ef8a35"/>
<text x="225.00" y="373.83" font-size="7.59" fill="#1e1e1e" stroke="#1e1e1e" stroke-width="0.2">Cetuximab</text>
<line x1="209.5" y1="381.3" x2="220.2" y2="381.3" stroke="#7d2fb8" stroke-width="1.6"/>
<circle cx="214.85" cy="381.30" r="1.95" fill="#fff" stroke="#7d2fb8" stroke-width="1.02"/>
<text x="225.00" y="384.03" font-size="7.59" fill="#1e1e1e" stroke="#1e1e1e" stroke-width="0.2">AM1</text>
<line x1="209.5" y1="391.5" x2="220.2" y2="391.5" stroke="#1c1cb0" stroke-width="1.6"/>
<circle cx="214.85" cy="391.50" r="1.91" fill="#1c1cb0"/>
<text x="225.00" y="394.23" font-size="7.59" fill="#1e1e1e" stroke="#1e1e1e" stroke-width="0.2">ABBV-221</text>
<line x1="209.5" y1="401.7" x2="220.2" y2="401.7" stroke="#e3202b" stroke-width="1.6"/>
<path d="M214.85,399.66L216.89,401.70L214.85,403.74L212.81,401.70Z" fill="#e3202b"/>
<text x="225.00" y="404.43" font-size="7.59" fill="#1e1e1e" stroke="#1e1e1e" stroke-width="0.2">Depatux-m</text>
</svg>
</body></html>
